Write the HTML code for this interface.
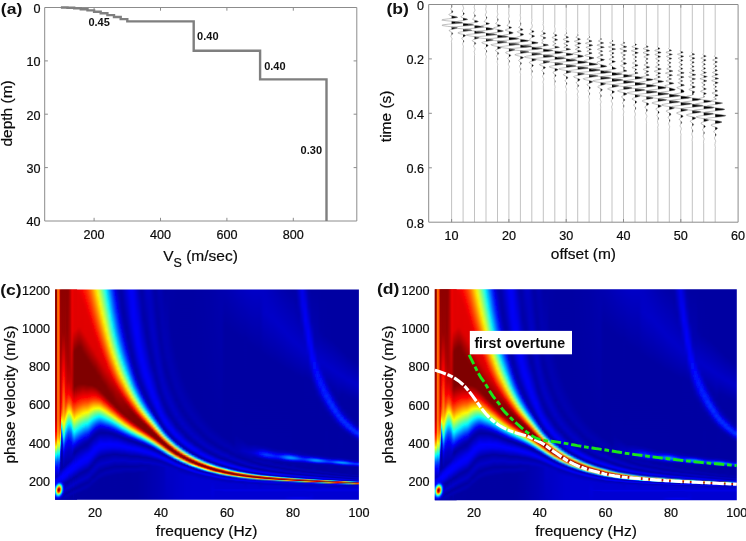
<!DOCTYPE html>
<html><head><meta charset="utf-8"><title>Figure</title>
<style>
html,body{margin:0;padding:0;background:#fff;}
body{width:746px;height:541px;overflow:hidden;}
svg{display:block;}
text{font-family:"Liberation Sans",sans-serif;fill:#0a0a0a;}
.t{font-size:12.6px;stroke:#0a0a0a;stroke-width:0.2px;}
.l{font-size:15.5px;stroke:#0a0a0a;stroke-width:0.2px;}
.p{font-size:15.3px;font-weight:bold;fill:#111;}
.n{font-size:11px;font-weight:bold;fill:#111;}
.ax{fill:none;stroke:#8c8c8c;stroke-width:1;}
</style></head><body>
<svg width="746" height="541" viewBox="0 0 746 541">
<defs><linearGradient id="g0" x2="0" y2="1"><stop offset=".002" stop-color="#8e0000"/><stop offset=".226" stop-color="#8f0000"/><stop offset=".536" stop-color="#b30000"/><stop offset=".617" stop-color="#c70000"/><stop offset=".674" stop-color="#fb0000"/><stop offset=".707" stop-color="#ff4e00"/><stop offset=".745" stop-color="#f6ff08"/><stop offset=".783" stop-color="#00fdff"/><stop offset=".812" stop-color="#0062ff"/><stop offset=".84" stop-color="#00f"/><stop offset=".883" stop-color="#0000be"/><stop offset=".888" stop-color="#0000be"/><stop offset=".907" stop-color="#0000f9"/><stop offset=".921" stop-color="#0000fd"/><stop offset=".94" stop-color="#00cdff"/><stop offset=".945" stop-color="#0ef"/><stop offset=".95" stop-color="#00f6ff"/><stop offset=".955" stop-color="#00e4ff"/><stop offset=".96" stop-color="#0bf"/><stop offset=".974" stop-color="#0017ff"/><stop offset=".979" stop-color="#0000ec"/><stop offset=".988" stop-color="#0000b9"/><stop offset=".998" stop-color="#0000b2"/></linearGradient><linearGradient id="g1" x2="0" y2="1"><stop offset=".002" stop-color="#8e0000"/><stop offset=".226" stop-color="#8f0000"/><stop offset=".536" stop-color="#b30000"/><stop offset=".617" stop-color="#c70000"/><stop offset=".674" stop-color="#fb0000"/><stop offset=".707" stop-color="#ff4e00"/><stop offset=".745" stop-color="#f6ff08"/><stop offset=".783" stop-color="#00fdff"/><stop offset=".812" stop-color="#0062ff"/><stop offset=".84" stop-color="#00f"/><stop offset=".883" stop-color="#0000c0"/><stop offset=".898" stop-color="#0000f1"/><stop offset=".912" stop-color="#0001ff"/><stop offset=".917" stop-color="#000fff"/><stop offset=".926" stop-color="#00a8ff"/><stop offset=".931" stop-color="#0bfff3"/><stop offset=".94" stop-color="#bdff41"/><stop offset=".945" stop-color="#eaff14"/><stop offset=".95" stop-color="#ecff12"/><stop offset=".955" stop-color="#c1ff3d"/><stop offset=".964" stop-color="#12ffec"/><stop offset=".969" stop-color="#00aeff"/><stop offset=".979" stop-color="#0013ff"/><stop offset=".988" stop-color="#0000c4"/><stop offset=".993" stop-color="#0000b2"/><stop offset=".998" stop-color="#0000b6"/></linearGradient><linearGradient id="g2" x2="0" y2="1"><stop offset=".002" stop-color="#ff6d00"/><stop offset=".602" stop-color="#ff7100"/><stop offset=".645" stop-color="#ff7e00"/><stop offset=".679" stop-color="#ff9b00"/><stop offset=".702" stop-color="#ffc500"/><stop offset=".721" stop-color="#fffb00"/><stop offset=".745" stop-color="#a0ff5e"/><stop offset=".774" stop-color="#0afff4"/><stop offset=".807" stop-color="#0063ff"/><stop offset=".831" stop-color="#0014ff"/><stop offset=".845" stop-color="#0000fc"/><stop offset=".879" stop-color="#0000c5"/><stop offset=".902" stop-color="#0000fe"/><stop offset=".912" stop-color="#000bff"/><stop offset=".917" stop-color="#05f"/><stop offset=".921" stop-color="#00bcff"/><stop offset=".926" stop-color="#3dffc1"/><stop offset=".931" stop-color="#cbff33"/><stop offset=".936" stop-color="#ffac00"/><stop offset=".94" stop-color="#ff4600"/><stop offset=".945" stop-color="#ff1600"/><stop offset=".95" stop-color="#ff2500"/><stop offset=".955" stop-color="#ff7200"/><stop offset=".96" stop-color="#ffeb00"/><stop offset=".964" stop-color="#85ff79"/><stop offset=".969" stop-color="#00fbff"/><stop offset=".974" stop-color="#0086ff"/><stop offset=".979" stop-color="#002dff"/><stop offset=".983" stop-color="#0000ef"/><stop offset=".993" stop-color="#0000b5"/><stop offset=".998" stop-color="#0000b5"/></linearGradient><linearGradient id="g3" x2="0" y2="1"><stop offset=".002" stop-color="#ff6d00"/><stop offset=".612" stop-color="#ff6a00"/><stop offset=".674" stop-color="#ff8c00"/><stop offset=".698" stop-color="#ffb200"/><stop offset=".721" stop-color="#fff300"/><stop offset=".726" stop-color="#f9ff05"/><stop offset=".74" stop-color="#bdff41"/><stop offset=".774" stop-color="#0efff0"/><stop offset=".779" stop-color="#00f3ff"/><stop offset=".817" stop-color="#0040ff"/><stop offset=".85" stop-color="#0003ff"/><stop offset=".879" stop-color="#0000d3"/><stop offset=".888" stop-color="#0000f2"/><stop offset=".907" stop-color="#0000fe"/><stop offset=".912" stop-color="#0031ff"/><stop offset=".921" stop-color="#12ffec"/><stop offset=".926" stop-color="#aeff50"/><stop offset=".931" stop-color="#ffa900"/><stop offset=".936" stop-color="#ff1400"/><stop offset=".94" stop-color="#ab0000"/><stop offset=".945" stop-color="#870000"/><stop offset=".95" stop-color="#ae0000"/><stop offset=".955" stop-color="#ff1900"/><stop offset=".96" stop-color="#ffaf00"/><stop offset=".964" stop-color="#a9ff55"/><stop offset=".969" stop-color="#0dfff1"/><stop offset=".974" stop-color="#008cff"/><stop offset=".979" stop-color="#002eff"/><stop offset=".983" stop-color="#00e"/><stop offset=".988" stop-color="#0000c8"/><stop offset=".998" stop-color="#0000b0"/></linearGradient><linearGradient id="g4" x2="0" y2="1"><stop offset=".002" stop-color="#ff2800"/><stop offset=".617" stop-color="#ff3c00"/><stop offset=".66" stop-color="#f50"/><stop offset=".683" stop-color="#ff7500"/><stop offset=".707" stop-color="#ffae00"/><stop offset=".726" stop-color="#fff400"/><stop offset=".74" stop-color="#c4ff3a"/><stop offset=".774" stop-color="#03fffb"/><stop offset=".779" stop-color="#00e6ff"/><stop offset=".807" stop-color="#0056ff"/><stop offset=".831" stop-color="#0006ff"/><stop offset=".869" stop-color="#0000c4"/><stop offset=".888" stop-color="#0000f9"/><stop offset=".907" stop-color="#0000fa"/><stop offset=".912" stop-color="#0040ff"/><stop offset=".917" stop-color="#00a5ff"/><stop offset=".921" stop-color="#29ffd5"/><stop offset=".926" stop-color="#c3ff3b"/><stop offset=".931" stop-color="#ff9d00"/><stop offset=".936" stop-color="#ff1700"/><stop offset=".94" stop-color="#c30000"/><stop offset=".945" stop-color="#b30000"/><stop offset=".95" stop-color="#ec0000"/><stop offset=".955" stop-color="#ff6000"/><stop offset=".96" stop-color="#fff700"/><stop offset=".964" stop-color="#68ff96"/><stop offset=".969" stop-color="#00d8ff"/><stop offset=".974" stop-color="#06f"/><stop offset=".979" stop-color="#0015ff"/><stop offset=".983" stop-color="#0000df"/><stop offset=".988" stop-color="#0000c0"/><stop offset=".998" stop-color="#00a"/></linearGradient><linearGradient id="g5" x2="0" y2="1"><stop offset=".002" stop-color="#8e0000"/><stop offset=".307" stop-color="#9d0000"/><stop offset=".545" stop-color="#d20000"/><stop offset=".621" stop-color="#ff0100"/><stop offset=".64" stop-color="#f20"/><stop offset=".66" stop-color="#ff5a00"/><stop offset=".688" stop-color="#ffeb00"/><stop offset=".693" stop-color="#f2ff0c"/><stop offset=".726" stop-color="#00f9ff"/><stop offset=".755" stop-color="#004bff"/><stop offset=".769" stop-color="#01f"/><stop offset=".779" stop-color="#0000f4"/><stop offset=".802" stop-color="#0000c7"/><stop offset=".85" stop-color="#0000a8"/><stop offset=".883" stop-color="#0000f9"/><stop offset=".907" stop-color="#0000f4"/><stop offset=".912" stop-color="#0031ff"/><stop offset=".917" stop-color="#0087ff"/><stop offset=".921" stop-color="#00f5ff"/><stop offset=".931" stop-color="#e9ff15"/><stop offset=".936" stop-color="#ffb300"/><stop offset=".94" stop-color="#ff7f00"/><stop offset=".945" stop-color="#ff8300"/><stop offset=".95" stop-color="#ffbe00"/><stop offset=".955" stop-color="#dbff23"/><stop offset=".96" stop-color="#61ff9d"/><stop offset=".964" stop-color="#00e5ff"/><stop offset=".969" stop-color="#007bff"/><stop offset=".974" stop-color="#0028ff"/><stop offset=".979" stop-color="#00e"/><stop offset=".988" stop-color="#0000b6"/><stop offset=".998" stop-color="#0000a5"/></linearGradient><linearGradient id="g6" x2="0" y2="1"><stop offset=".002" stop-color="#8e0000"/><stop offset=".26" stop-color="#9e0000"/><stop offset=".531" stop-color="#fe0000"/><stop offset=".564" stop-color="#ff2300"/><stop offset=".583" stop-color="#ff4f00"/><stop offset=".598" stop-color="#ff8300"/><stop offset=".617" stop-color="#ffec00"/><stop offset=".621" stop-color="#f1ff0d"/><stop offset=".65" stop-color="#0fffef"/><stop offset=".655" stop-color="#00e9ff"/><stop offset=".679" stop-color="#004cff"/><stop offset=".698" stop-color="#0000fd"/><stop offset=".717" stop-color="#0000d0"/><stop offset=".736" stop-color="#0000b8"/><stop offset=".793" stop-color="#0000a3"/><stop offset=".845" stop-color="#0000a6"/><stop offset=".883" stop-color="#0000fe"/><stop offset=".907" stop-color="#0000e5"/><stop offset=".912" stop-color="#000cff"/><stop offset=".917" stop-color="#0048ff"/><stop offset=".926" stop-color="#00e2ff"/><stop offset=".931" stop-color="#2effd0"/><stop offset=".936" stop-color="#65ff99"/><stop offset=".94" stop-color="#7dff81"/><stop offset=".945" stop-color="#71ff8d"/><stop offset=".95" stop-color="#42ffbc"/><stop offset=".955" stop-color="#00fbff"/><stop offset=".969" stop-color="#001dff"/><stop offset=".974" stop-color="#0000ec"/><stop offset=".983" stop-color="#0000b6"/><stop offset=".998" stop-color="#0000a3"/></linearGradient><linearGradient id="g7" x2="0" y2="1"><stop offset=".002" stop-color="#8e0000"/><stop offset=".207" stop-color="#960000"/><stop offset=".421" stop-color="#ff0100"/><stop offset=".555" stop-color="#ff5c00"/><stop offset=".588" stop-color="#ff8e00"/><stop offset=".626" stop-color="#f9ff05"/><stop offset=".669" stop-color="#10ffee"/><stop offset=".674" stop-color="#00f2ff"/><stop offset=".707" stop-color="#0046ff"/><stop offset=".731" stop-color="#0000f8"/><stop offset=".774" stop-color="#0000b9"/><stop offset=".836" stop-color="#0000a4"/><stop offset=".845" stop-color="#0000ad"/><stop offset=".869" stop-color="#0000f1"/><stop offset=".879" stop-color="#0000fe"/><stop offset=".893" stop-color="#0000fa"/><stop offset=".907" stop-color="#0000d9"/><stop offset=".912" stop-color="#0000e1"/><stop offset=".917" stop-color="#0004ff"/><stop offset=".931" stop-color="#007cff"/><stop offset=".94" stop-color="#009dff"/><stop offset=".95" stop-color="#0074ff"/><stop offset=".964" stop-color="#0000fa"/><stop offset=".979" stop-color="#0000b3"/><stop offset=".998" stop-color="#0000a5"/></linearGradient><linearGradient id="g8" x2="0" y2="1"><stop offset=".002" stop-color="#8e0000"/><stop offset=".217" stop-color="#900"/><stop offset=".388" stop-color="#fe0000"/><stop offset=".555" stop-color="#ff8300"/><stop offset=".598" stop-color="#ffb600"/><stop offset=".636" stop-color="#f7ff07"/><stop offset=".664" stop-color="#95ff69"/><stop offset=".698" stop-color="#00fcff"/><stop offset=".736" stop-color="#0054ff"/><stop offset=".764" stop-color="#00f"/><stop offset=".798" stop-color="#0000c9"/><stop offset=".84" stop-color="#0000ae"/><stop offset=".864" stop-color="#0000f1"/><stop offset=".874" stop-color="#0000fd"/><stop offset=".888" stop-color="#0000fb"/><stop offset=".912" stop-color="#0000c0"/><stop offset=".931" stop-color="#0004ff"/><stop offset=".945" stop-color="#0007ff"/><stop offset=".974" stop-color="#0000ad"/><stop offset=".983" stop-color="#0000b5"/><stop offset=".998" stop-color="#0000a6"/></linearGradient><linearGradient id="g9" x2="0" y2="1"><stop offset=".002" stop-color="#8e0000"/><stop offset=".212" stop-color="#970000"/><stop offset=".412" stop-color="#ff0100"/><stop offset=".564" stop-color="#ff7600"/><stop offset=".598" stop-color="#ffa900"/><stop offset=".631" stop-color="#fdff01"/><stop offset=".655" stop-color="#a0ff5e"/><stop offset=".688" stop-color="#00fcff"/><stop offset=".726" stop-color="#0052ff"/><stop offset=".755" stop-color="#0000fd"/><stop offset=".783" stop-color="#0000ce"/><stop offset=".826" stop-color="#0000af"/><stop offset=".836" stop-color="#0000ae"/><stop offset=".86" stop-color="#0000f1"/><stop offset=".879" stop-color="#00f"/><stop offset=".893" stop-color="#0000eb"/><stop offset=".912" stop-color="#0000b3"/><stop offset=".945" stop-color="#0000ca"/><stop offset=".969" stop-color="#0000a7"/><stop offset=".979" stop-color="#0000b6"/><stop offset=".998" stop-color="#0000a6"/></linearGradient><linearGradient id="g10" x2="0" y2="1"><stop offset=".002" stop-color="#8e0000"/><stop offset=".25" stop-color="#9c0000"/><stop offset=".379" stop-color="#c50000"/><stop offset=".493" stop-color="#fd0000"/><stop offset=".555" stop-color="#ff4800"/><stop offset=".583" stop-color="#ff8e00"/><stop offset=".612" stop-color="#fff800"/><stop offset=".617" stop-color="#f0ff0e"/><stop offset=".664" stop-color="#00feff"/><stop offset=".707" stop-color="#0047ff"/><stop offset=".736" stop-color="#0000fc"/><stop offset=".769" stop-color="#0000cb"/><stop offset=".817" stop-color="#0000ae"/><stop offset=".831" stop-color="#0000ae"/><stop offset=".855" stop-color="#0000f0"/><stop offset=".874" stop-color="#00f"/><stop offset=".888" stop-color="#0000ec"/><stop offset=".912" stop-color="#0000a9"/><stop offset=".926" stop-color="#0000ad"/><stop offset=".945" stop-color="#0000ca"/><stop offset=".964" stop-color="#0000a3"/><stop offset=".974" stop-color="#0000b5"/><stop offset=".998" stop-color="#0000a5"/></linearGradient><linearGradient id="g11" x2="0" y2="1"><stop offset=".002" stop-color="#8e0000"/><stop offset=".188" stop-color="#900000"/><stop offset=".321" stop-color="#a80000"/><stop offset=".445" stop-color="#d20000"/><stop offset=".502" stop-color="#f00"/><stop offset=".531" stop-color="#ff2900"/><stop offset=".555" stop-color="#ff5e00"/><stop offset=".598" stop-color="#fff600"/><stop offset=".602" stop-color="#f2ff0c"/><stop offset=".65" stop-color="#07fff7"/><stop offset=".655" stop-color="#00efff"/><stop offset=".693" stop-color="#05f"/><stop offset=".726" stop-color="#00f"/><stop offset=".76" stop-color="#0000cf"/><stop offset=".812" stop-color="#0000af"/><stop offset=".826" stop-color="#0000ad"/><stop offset=".85" stop-color="#0000ef"/><stop offset=".869" stop-color="#0001ff"/><stop offset=".883" stop-color="#00e"/><stop offset=".912" stop-color="#0000a3"/><stop offset=".94" stop-color="#0000ca"/><stop offset=".96" stop-color="#0000a2"/><stop offset=".974" stop-color="#0000b6"/><stop offset=".998" stop-color="#0000a5"/></linearGradient><linearGradient id="g12" x2="0" y2="1"><stop offset=".002" stop-color="#8f0000"/><stop offset=".202" stop-color="#920000"/><stop offset=".36" stop-color="#a90000"/><stop offset=".44" stop-color="#c60000"/><stop offset=".498" stop-color="#fb0000"/><stop offset=".54" stop-color="#ff5300"/><stop offset=".588" stop-color="#fcff02"/><stop offset=".64" stop-color="#01fffd"/><stop offset=".645" stop-color="#00eaff"/><stop offset=".683" stop-color="#0057ff"/><stop offset=".721" stop-color="#0000fb"/><stop offset=".769" stop-color="#0000c3"/><stop offset=".821" stop-color="#0000ad"/><stop offset=".845" stop-color="#00e"/><stop offset=".864" stop-color="#0001ff"/><stop offset=".879" stop-color="#0000f0"/><stop offset=".907" stop-color="#0000a5"/><stop offset=".917" stop-color="#0000a7"/><stop offset=".936" stop-color="#0000ca"/><stop offset=".96" stop-color="#0000a2"/><stop offset=".969" stop-color="#0000b5"/><stop offset=".998" stop-color="#0000a4"/></linearGradient><linearGradient id="g13" x2="0" y2="1"><stop offset=".002" stop-color="#950000"/><stop offset=".345" stop-color="#a60000"/><stop offset=".431" stop-color="#c10000"/><stop offset=".493" stop-color="#fc0000"/><stop offset=".536" stop-color="#ff5900"/><stop offset=".579" stop-color="#fff600"/><stop offset=".583" stop-color="#f2ff0c"/><stop offset=".636" stop-color="#00f8ff"/><stop offset=".674" stop-color="#0063ff"/><stop offset=".702" stop-color="#0017ff"/><stop offset=".717" stop-color="#0000fb"/><stop offset=".764" stop-color="#0000c4"/><stop offset=".817" stop-color="#0000ad"/><stop offset=".845" stop-color="#0000f6"/><stop offset=".864" stop-color="#0000fe"/><stop offset=".907" stop-color="#0000a3"/><stop offset=".936" stop-color="#0000ca"/><stop offset=".955" stop-color="#0000a1"/><stop offset=".969" stop-color="#0000b6"/><stop offset=".998" stop-color="#0000a4"/></linearGradient><linearGradient id="g14" x2="0" y2="1"><stop offset=".002" stop-color="#a80000"/><stop offset=".369" stop-color="#af0000"/><stop offset=".44" stop-color="#c50000"/><stop offset=".498" stop-color="#ff0100"/><stop offset=".54" stop-color="#ff6500"/><stop offset=".579" stop-color="#fff600"/><stop offset=".583" stop-color="#f2ff0c"/><stop offset=".636" stop-color="#00f7ff"/><stop offset=".674" stop-color="#0063ff"/><stop offset=".717" stop-color="#0000fc"/><stop offset=".76" stop-color="#0000c8"/><stop offset=".812" stop-color="#0000af"/><stop offset=".84" stop-color="#0000f5"/><stop offset=".86" stop-color="#00f"/><stop offset=".902" stop-color="#0000a3"/><stop offset=".931" stop-color="#0000ca"/><stop offset=".955" stop-color="#0000a2"/><stop offset=".964" stop-color="#0000b5"/><stop offset=".998" stop-color="#0000a3"/></linearGradient><linearGradient id="g15" x2="0" y2="1"><stop offset=".002" stop-color="#c30000"/><stop offset=".398" stop-color="#b80000"/><stop offset=".464" stop-color="#d10000"/><stop offset=".502" stop-color="#fd0000"/><stop offset=".545" stop-color="#ff6300"/><stop offset=".583" stop-color="#fff800"/><stop offset=".588" stop-color="#efff0f"/><stop offset=".636" stop-color="#09fff5"/><stop offset=".64" stop-color="#00f2ff"/><stop offset=".679" stop-color="#005fff"/><stop offset=".717" stop-color="#0002ff"/><stop offset=".755" stop-color="#0000cf"/><stop offset=".798" stop-color="#0000b4"/><stop offset=".812" stop-color="#0000b4"/><stop offset=".836" stop-color="#0000f4"/><stop offset=".855" stop-color="#00f"/><stop offset=".869" stop-color="#0000ec"/><stop offset=".898" stop-color="#0000a4"/><stop offset=".926" stop-color="#0000ca"/><stop offset=".95" stop-color="#0000a2"/><stop offset=".964" stop-color="#0000b6"/><stop offset=".979" stop-color="#0000a2"/><stop offset=".998" stop-color="#0000a3"/></linearGradient><linearGradient id="g16" x2="0" y2="1"><stop offset=".002" stop-color="#e10000"/><stop offset=".202" stop-color="#de0000"/><stop offset=".412" stop-color="#be0000"/><stop offset=".474" stop-color="#d10000"/><stop offset=".512" stop-color="#fe0000"/><stop offset=".55" stop-color="#ff5800"/><stop offset=".593" stop-color="#feff00"/><stop offset=".645" stop-color="#00fffe"/><stop offset=".683" stop-color="#0068ff"/><stop offset=".726" stop-color="#0000fb"/><stop offset=".764" stop-color="#0000c8"/><stop offset=".798" stop-color="#0000b4"/><stop offset=".807" stop-color="#0000b4"/><stop offset=".831" stop-color="#0000f3"/><stop offset=".85" stop-color="#00f"/><stop offset=".864" stop-color="#00e"/><stop offset=".898" stop-color="#0000a3"/><stop offset=".926" stop-color="#0000ca"/><stop offset=".945" stop-color="#0000a4"/><stop offset=".964" stop-color="#0000b5"/><stop offset=".974" stop-color="#0000a4"/><stop offset=".998" stop-color="#0000a3"/></linearGradient><linearGradient id="g17" x2="0" y2="1"><stop offset=".002" stop-color="#e00"/><stop offset=".207" stop-color="#eb0000"/><stop offset=".312" stop-color="#b90000"/><stop offset=".44" stop-color="#ae0000"/><stop offset=".474" stop-color="#b70000"/><stop offset=".526" stop-color="#fe0000"/><stop offset=".56" stop-color="#ff5300"/><stop offset=".602" stop-color="#fff600"/><stop offset=".607" stop-color="#f2ff0c"/><stop offset=".66" stop-color="#00fffe"/><stop offset=".707" stop-color="#0048ff"/><stop offset=".736" stop-color="#0000f8"/><stop offset=".779" stop-color="#0000b4"/><stop offset=".802" stop-color="#0000b8"/><stop offset=".826" stop-color="#0000f1"/><stop offset=".845" stop-color="#0001ff"/><stop offset=".86" stop-color="#0000f1"/><stop offset=".893" stop-color="#0000a3"/><stop offset=".921" stop-color="#0000ca"/><stop offset=".945" stop-color="#0000a1"/><stop offset=".96" stop-color="#0000b6"/><stop offset=".974" stop-color="#0000a2"/><stop offset=".998" stop-color="#0000a3"/></linearGradient><linearGradient id="g18" x2="0" y2="1"><stop offset=".002" stop-color="#e70000"/><stop offset=".202" stop-color="#e60000"/><stop offset=".302" stop-color="#900"/><stop offset=".445" stop-color="#920000"/><stop offset=".474" stop-color="#9c0000"/><stop offset=".531" stop-color="#f90000"/><stop offset=".564" stop-color="#ff5000"/><stop offset=".612" stop-color="#fffb00"/><stop offset=".617" stop-color="#eeff10"/><stop offset=".669" stop-color="#06fff8"/><stop offset=".674" stop-color="#00efff"/><stop offset=".712" stop-color="#004eff"/><stop offset=".736" stop-color="#0000f9"/><stop offset=".76" stop-color="#0000bc"/><stop offset=".774" stop-color="#00a"/><stop offset=".798" stop-color="#0000bd"/><stop offset=".821" stop-color="#0000f0"/><stop offset=".84" stop-color="#0001ff"/><stop offset=".855" stop-color="#0000f3"/><stop offset=".888" stop-color="#0000a3"/><stop offset=".917" stop-color="#0000ca"/><stop offset=".926" stop-color="#0000c5"/><stop offset=".94" stop-color="#0000a3"/><stop offset=".955" stop-color="#0000b5"/><stop offset=".998" stop-color="#0000a3"/></linearGradient><linearGradient id="g19" x2="0" y2="1"><stop offset=".002" stop-color="#e20000"/><stop offset=".202" stop-color="#e20000"/><stop offset=".298" stop-color="#820000"/><stop offset=".46" stop-color="#800000"/><stop offset=".483" stop-color="#9d0000"/><stop offset=".531" stop-color="#f80000"/><stop offset=".569" stop-color="#ff5e00"/><stop offset=".617" stop-color="#f8ff06"/><stop offset=".674" stop-color="#00fdff"/><stop offset=".731" stop-color="#0001ff"/><stop offset=".755" stop-color="#0000b8"/><stop offset=".769" stop-color="#0000a2"/><stop offset=".783" stop-color="#0000ad"/><stop offset=".831" stop-color="#00f"/><stop offset=".85" stop-color="#0000f5"/><stop offset=".888" stop-color="#0000a1"/><stop offset=".917" stop-color="#0000ca"/><stop offset=".94" stop-color="#0000a1"/><stop offset=".955" stop-color="#0000b6"/><stop offset=".969" stop-color="#0000a3"/><stop offset=".998" stop-color="#0000a3"/></linearGradient><linearGradient id="g20" x2="0" y2="1"><stop offset=".002" stop-color="#e20000"/><stop offset=".198" stop-color="#e10000"/><stop offset=".293" stop-color="#800000"/><stop offset=".46" stop-color="#7f0000"/><stop offset=".531" stop-color="#ff0100"/><stop offset=".569" stop-color="#ff6900"/><stop offset=".612" stop-color="#fdff01"/><stop offset=".669" stop-color="#03fffb"/><stop offset=".674" stop-color="#00ebff"/><stop offset=".717" stop-color="#0029ff"/><stop offset=".731" stop-color="#0000f2"/><stop offset=".75" stop-color="#0000b9"/><stop offset=".764" stop-color="#0000a2"/><stop offset=".774" stop-color="#0000a5"/><stop offset=".812" stop-color="#0000ed"/><stop offset=".831" stop-color="#0001ff"/><stop offset=".85" stop-color="#0000ef"/><stop offset=".883" stop-color="#0000a2"/><stop offset=".912" stop-color="#0000ca"/><stop offset=".936" stop-color="#0000a3"/><stop offset=".955" stop-color="#0000b6"/><stop offset=".969" stop-color="#0000a3"/><stop offset=".998" stop-color="#0000a3"/></linearGradient><linearGradient id="g21" x2="0" y2="1"><stop offset=".002" stop-color="#e20000"/><stop offset=".193" stop-color="#e10000"/><stop offset=".288" stop-color="#800000"/><stop offset=".455" stop-color="#7f0000"/><stop offset=".483" stop-color="#a50000"/><stop offset=".526" stop-color="#fc0000"/><stop offset=".564" stop-color="#ff6500"/><stop offset=".607" stop-color="#fffc00"/><stop offset=".612" stop-color="#eeff10"/><stop offset=".664" stop-color="#07fff7"/><stop offset=".669" stop-color="#00efff"/><stop offset=".717" stop-color="#0019ff"/><stop offset=".726" stop-color="#0000f4"/><stop offset=".745" stop-color="#00b"/><stop offset=".764" stop-color="#0000a1"/><stop offset=".826" stop-color="#0001ff"/><stop offset=".845" stop-color="#0000f1"/><stop offset=".883" stop-color="#0000a1"/><stop offset=".912" stop-color="#0000ca"/><stop offset=".936" stop-color="#0000a1"/><stop offset=".95" stop-color="#0000b6"/><stop offset=".964" stop-color="#0000a3"/><stop offset=".998" stop-color="#0000a3"/></linearGradient><linearGradient id="g22" x2="0" y2="1"><stop offset=".002" stop-color="#e50000"/><stop offset=".183" stop-color="#e20000"/><stop offset=".283" stop-color="#7f0000"/><stop offset=".455" stop-color="#7f0000"/><stop offset=".521" stop-color="#f80000"/><stop offset=".555" stop-color="#ff5200"/><stop offset=".602" stop-color="#fff700"/><stop offset=".607" stop-color="#f3ff0b"/><stop offset=".66" stop-color="#0bfff3"/><stop offset=".664" stop-color="#00f4ff"/><stop offset=".698" stop-color="#0059ff"/><stop offset=".721" stop-color="#0000f8"/><stop offset=".745" stop-color="#0000b3"/><stop offset=".76" stop-color="#0000a1"/><stop offset=".821" stop-color="#00f"/><stop offset=".84" stop-color="#0000f4"/><stop offset=".879" stop-color="#0000a1"/><stop offset=".907" stop-color="#0000ca"/><stop offset=".931" stop-color="#0000a3"/><stop offset=".95" stop-color="#0000b6"/><stop offset=".964" stop-color="#0000a2"/><stop offset=".998" stop-color="#0000a3"/></linearGradient><linearGradient id="g23" x2="0" y2="1"><stop offset=".002" stop-color="#ea0000"/><stop offset=".183" stop-color="#e00000"/><stop offset=".279" stop-color="#7f0000"/><stop offset=".45" stop-color="#7f0000"/><stop offset=".483" stop-color="#ad0000"/><stop offset=".521" stop-color="#fe0000"/><stop offset=".555" stop-color="#ff5b00"/><stop offset=".602" stop-color="#f9ff05"/><stop offset=".66" stop-color="#00f9ff"/><stop offset=".698" stop-color="#0049ff"/><stop offset=".717" stop-color="#0000fc"/><stop offset=".736" stop-color="#0000c0"/><stop offset=".755" stop-color="#0000a1"/><stop offset=".769" stop-color="#0000ae"/><stop offset=".807" stop-color="#0000f6"/><stop offset=".821" stop-color="#0001ff"/><stop offset=".84" stop-color="#00e"/><stop offset=".874" stop-color="#0000a2"/><stop offset=".907" stop-color="#0000ca"/><stop offset=".931" stop-color="#0000a1"/><stop offset=".945" stop-color="#0000b6"/><stop offset=".96" stop-color="#0000a4"/><stop offset=".998" stop-color="#0000a3"/></linearGradient><linearGradient id="g24" x2="0" y2="1"><stop offset=".002" stop-color="#f30000"/><stop offset=".036" stop-color="#e20000"/><stop offset=".183" stop-color="#e10000"/><stop offset=".279" stop-color="#800000"/><stop offset=".45" stop-color="#7f0000"/><stop offset=".483" stop-color="#b20000"/><stop offset=".517" stop-color="#fb0000"/><stop offset=".55" stop-color="#ff5800"/><stop offset=".598" stop-color="#faff04"/><stop offset=".655" stop-color="#00f8ff"/><stop offset=".698" stop-color="#03f"/><stop offset=".712" stop-color="#0000fa"/><stop offset=".731" stop-color="#0000bf"/><stop offset=".75" stop-color="#0000a1"/><stop offset=".812" stop-color="#00f"/><stop offset=".831" stop-color="#0000f6"/><stop offset=".869" stop-color="#0000a3"/><stop offset=".902" stop-color="#0000ca"/><stop offset=".926" stop-color="#0000a1"/><stop offset=".945" stop-color="#0000b6"/><stop offset=".96" stop-color="#0000a2"/><stop offset=".998" stop-color="#0000a3"/></linearGradient><linearGradient id="g25" x2="0" y2="1"><stop offset=".002" stop-color="#ff0200"/><stop offset=".06" stop-color="#e20000"/><stop offset=".202" stop-color="#df0000"/><stop offset=".279" stop-color="#800"/><stop offset=".298" stop-color="#7f0000"/><stop offset=".45" stop-color="#7f0000"/><stop offset=".512" stop-color="#f70000"/><stop offset=".545" stop-color="#ff5600"/><stop offset=".588" stop-color="#fff100"/><stop offset=".602" stop-color="#d0ff2e"/><stop offset=".645" stop-color="#0bfff3"/><stop offset=".65" stop-color="#00f3ff"/><stop offset=".693" stop-color="#002dff"/><stop offset=".707" stop-color="#0000f5"/><stop offset=".726" stop-color="#00b"/><stop offset=".745" stop-color="#0000a1"/><stop offset=".807" stop-color="#00f"/><stop offset=".826" stop-color="#0000f4"/><stop offset=".864" stop-color="#0000a2"/><stop offset=".898" stop-color="#0000ca"/><stop offset=".921" stop-color="#0000a2"/><stop offset=".94" stop-color="#0000b6"/><stop offset=".955" stop-color="#0000a2"/><stop offset=".998" stop-color="#0000a3"/></linearGradient><linearGradient id="g26" x2="0" y2="1"><stop offset=".002" stop-color="#ff1400"/><stop offset=".036" stop-color="#fd0000"/><stop offset=".079" stop-color="#e20000"/><stop offset=".212" stop-color="#e10000"/><stop offset=".312" stop-color="#7f0000"/><stop offset=".45" stop-color="#7f0000"/><stop offset=".512" stop-color="#fc0000"/><stop offset=".54" stop-color="#ff5000"/><stop offset=".583" stop-color="#fe0"/><stop offset=".588" stop-color="#fbff03"/><stop offset=".598" stop-color="#d3ff2b"/><stop offset=".64" stop-color="#0afff4"/><stop offset=".693" stop-color="#0017ff"/><stop offset=".702" stop-color="#0000f2"/><stop offset=".721" stop-color="#0000b9"/><stop offset=".736" stop-color="#0000a2"/><stop offset=".75" stop-color="#0000ab"/><stop offset=".788" stop-color="#0000f3"/><stop offset=".802" stop-color="#00f"/><stop offset=".821" stop-color="#0000f3"/><stop offset=".86" stop-color="#0000a2"/><stop offset=".893" stop-color="#0000ca"/><stop offset=".917" stop-color="#0000a2"/><stop offset=".936" stop-color="#0000b6"/><stop offset=".95" stop-color="#0000a3"/><stop offset=".998" stop-color="#0000a3"/></linearGradient><linearGradient id="g27" x2="0" y2="1"><stop offset=".002" stop-color="#ff2a00"/><stop offset=".064" stop-color="#fd0000"/><stop offset=".102" stop-color="#e20000"/><stop offset=".226" stop-color="#e10000"/><stop offset=".326" stop-color="#7f0000"/><stop offset=".45" stop-color="#7f0000"/><stop offset=".474" stop-color="#a50000"/><stop offset=".512" stop-color="#fe0000"/><stop offset=".55" stop-color="#ff7600"/><stop offset=".583" stop-color="#fff900"/><stop offset=".636" stop-color="#0fffef"/><stop offset=".64" stop-color="#00f6ff"/><stop offset=".683" stop-color="#002bff"/><stop offset=".698" stop-color="#0000f2"/><stop offset=".717" stop-color="#0000b9"/><stop offset=".731" stop-color="#0000a2"/><stop offset=".74" stop-color="#0000a5"/><stop offset=".779" stop-color="#0000ec"/><stop offset=".798" stop-color="#0001ff"/><stop offset=".817" stop-color="#0000f3"/><stop offset=".855" stop-color="#0000a1"/><stop offset=".888" stop-color="#0000ca"/><stop offset=".912" stop-color="#0000a3"/><stop offset=".931" stop-color="#0000b6"/><stop offset=".95" stop-color="#0000a3"/><stop offset=".998" stop-color="#0000a2"/></linearGradient><linearGradient id="g28" x2="0" y2="1"><stop offset=".002" stop-color="#ff4500"/><stop offset=".093" stop-color="#fd0000"/><stop offset=".131" stop-color="#e20000"/><stop offset=".245" stop-color="#e00000"/><stop offset=".34" stop-color="#7f0000"/><stop offset=".455" stop-color="#7f0000"/><stop offset=".512" stop-color="#fc0000"/><stop offset=".54" stop-color="#ff5600"/><stop offset=".583" stop-color="#feff00"/><stop offset=".636" stop-color="#01fffd"/><stop offset=".674" stop-color="#0045ff"/><stop offset=".693" stop-color="#0000f5"/><stop offset=".712" stop-color="#00b"/><stop offset=".726" stop-color="#0000a2"/><stop offset=".74" stop-color="#0000ab"/><stop offset=".774" stop-color="#0000ec"/><stop offset=".793" stop-color="#00f"/><stop offset=".812" stop-color="#0000f3"/><stop offset=".85" stop-color="#0000a2"/><stop offset=".883" stop-color="#0000ca"/><stop offset=".912" stop-color="#0000a1"/><stop offset=".926" stop-color="#0000b6"/><stop offset=".945" stop-color="#0000a2"/><stop offset=".998" stop-color="#0000a2"/></linearGradient><linearGradient id="g29" x2="0" y2="1"><stop offset=".002" stop-color="#f60"/><stop offset=".121" stop-color="#fe0000"/><stop offset=".155" stop-color="#e20000"/><stop offset=".26" stop-color="#e00000"/><stop offset=".355" stop-color="#7f0000"/><stop offset=".455" stop-color="#7f0000"/><stop offset=".507" stop-color="#fa0000"/><stop offset=".531" stop-color="#ff4800"/><stop offset=".574" stop-color="#fff800"/><stop offset=".621" stop-color="#17ffe7"/><stop offset=".626" stop-color="#00fdff"/><stop offset=".679" stop-color="#0001ff"/><stop offset=".702" stop-color="#0000b5"/><stop offset=".717" stop-color="#0000a1"/><stop offset=".779" stop-color="#00f"/><stop offset=".798" stop-color="#0000f6"/><stop offset=".84" stop-color="#0000a1"/><stop offset=".874" stop-color="#0000ca"/><stop offset=".902" stop-color="#0000a1"/><stop offset=".917" stop-color="#0000b6"/><stop offset=".936" stop-color="#0000a3"/><stop offset=".998" stop-color="#0000a2"/></linearGradient><linearGradient id="g30" x2="0" y2="1"><stop offset=".002" stop-color="#ff8d00"/><stop offset=".15" stop-color="#f00"/><stop offset=".183" stop-color="#e20000"/><stop offset=".274" stop-color="#e00000"/><stop offset=".369" stop-color="#7f0000"/><stop offset=".455" stop-color="#7f0000"/><stop offset=".502" stop-color="#f10000"/><stop offset=".507" stop-color="#ff0100"/><stop offset=".531" stop-color="#ff5600"/><stop offset=".569" stop-color="#fffe00"/><stop offset=".617" stop-color="#05fff9"/><stop offset=".669" stop-color="#0000fe"/><stop offset=".688" stop-color="#0000be"/><stop offset=".707" stop-color="#0000a1"/><stop offset=".769" stop-color="#00f"/><stop offset=".788" stop-color="#0000f3"/><stop offset=".831" stop-color="#0000a1"/><stop offset=".86" stop-color="#0000ca"/><stop offset=".888" stop-color="#0000a3"/><stop offset=".907" stop-color="#0000b6"/><stop offset=".926" stop-color="#0000a3"/><stop offset=".998" stop-color="#0000a2"/></linearGradient><linearGradient id="g31" x2="0" y2="1"><stop offset=".002" stop-color="#ffbc00"/><stop offset=".183" stop-color="#fc0000"/><stop offset=".212" stop-color="#e20000"/><stop offset=".288" stop-color="#e00000"/><stop offset=".383" stop-color="#7f0000"/><stop offset=".46" stop-color="#7f0000"/><stop offset=".502" stop-color="#f00000"/><stop offset=".507" stop-color="#ff0100"/><stop offset=".526" stop-color="#ff4900"/><stop offset=".564" stop-color="#fffa00"/><stop offset=".607" stop-color="#16ffe8"/><stop offset=".612" stop-color="#00faff"/><stop offset=".65" stop-color="#002eff"/><stop offset=".66" stop-color="#0004ff"/><stop offset=".664" stop-color="#0000ef"/><stop offset=".683" stop-color="#0000b4"/><stop offset=".698" stop-color="#0000a1"/><stop offset=".745" stop-color="#0000f4"/><stop offset=".76" stop-color="#0001ff"/><stop offset=".779" stop-color="#0000f2"/><stop offset=".817" stop-color="#0000a2"/><stop offset=".85" stop-color="#0000ca"/><stop offset=".883" stop-color="#0000a1"/><stop offset=".902" stop-color="#0000b6"/><stop offset=".917" stop-color="#0000a4"/><stop offset=".998" stop-color="#0000a2"/></linearGradient><linearGradient id="g32" x2="0" y2="1"><stop offset=".002" stop-color="#ffed00"/><stop offset=".212" stop-color="#fc0000"/><stop offset=".236" stop-color="#e20000"/><stop offset=".312" stop-color="#da0000"/><stop offset=".374" stop-color="#8e0000"/><stop offset=".398" stop-color="#7f0000"/><stop offset=".464" stop-color="#7f0000"/><stop offset=".507" stop-color="#fa0000"/><stop offset=".531" stop-color="#ff5d00"/><stop offset=".564" stop-color="#f7ff07"/><stop offset=".607" stop-color="#00faff"/><stop offset=".64" stop-color="#003dff"/><stop offset=".655" stop-color="#0000f9"/><stop offset=".674" stop-color="#0000b8"/><stop offset=".688" stop-color="#0000a1"/><stop offset=".75" stop-color="#0001ff"/><stop offset=".769" stop-color="#0000f2"/><stop offset=".807" stop-color="#0000a2"/><stop offset=".84" stop-color="#0000ca"/><stop offset=".874" stop-color="#0000a1"/><stop offset=".893" stop-color="#0000b6"/><stop offset=".912" stop-color="#0000a2"/><stop offset=".998" stop-color="#0000a2"/></linearGradient><linearGradient id="g33" x2="0" y2="1"><stop offset=".002" stop-color="#dcff22"/><stop offset=".036" stop-color="#fffc00"/><stop offset=".236" stop-color="#f00"/><stop offset=".26" stop-color="#e30000"/><stop offset=".321" stop-color="#de0000"/><stop offset=".412" stop-color="#7f0000"/><stop offset=".474" stop-color="#820000"/><stop offset=".512" stop-color="#ff0100"/><stop offset=".531" stop-color="#ff5600"/><stop offset=".56" stop-color="#ffef00"/><stop offset=".564" stop-color="#f2ff0c"/><stop offset=".602" stop-color="#04fffa"/><stop offset=".607" stop-color="#00e5ff"/><stop offset=".636" stop-color="#003cff"/><stop offset=".65" stop-color="#0000f6"/><stop offset=".669" stop-color="#0000b4"/><stop offset=".683" stop-color="#0000a1"/><stop offset=".74" stop-color="#00f"/><stop offset=".76" stop-color="#0000f3"/><stop offset=".798" stop-color="#0000a2"/><stop offset=".831" stop-color="#0000ca"/><stop offset=".864" stop-color="#0000a1"/><stop offset=".883" stop-color="#0000b6"/><stop offset=".902" stop-color="#0000a3"/><stop offset=".998" stop-color="#0000a2"/></linearGradient><linearGradient id="g34" x2="0" y2="1"><stop offset=".002" stop-color="#a3ff5b"/><stop offset=".079" stop-color="#fffe00"/><stop offset=".264" stop-color="#fd0000"/><stop offset=".283" stop-color="#e40000"/><stop offset=".34" stop-color="#db0000"/><stop offset=".417" stop-color="#830000"/><stop offset=".479" stop-color="#7f0000"/><stop offset=".493" stop-color="#a40000"/><stop offset=".517" stop-color="#ff0100"/><stop offset=".564" stop-color="#faff04"/><stop offset=".602" stop-color="#00fdff"/><stop offset=".626" stop-color="#0064ff"/><stop offset=".645" stop-color="#0000fd"/><stop offset=".664" stop-color="#0000b6"/><stop offset=".679" stop-color="#0000a1"/><stop offset=".721" stop-color="#0000f3"/><stop offset=".736" stop-color="#0001ff"/><stop offset=".755" stop-color="#0000f0"/><stop offset=".793" stop-color="#0000a1"/><stop offset=".826" stop-color="#0000ca"/><stop offset=".855" stop-color="#0000a2"/><stop offset=".879" stop-color="#0000b6"/><stop offset=".898" stop-color="#0000a2"/><stop offset=".998" stop-color="#0000a2"/></linearGradient><linearGradient id="g35" x2="0" y2="1"><stop offset=".002" stop-color="#66ff98"/><stop offset=".121" stop-color="#fffd00"/><stop offset=".293" stop-color="#f90000"/><stop offset=".312" stop-color="#e20000"/><stop offset=".355" stop-color="#db0000"/><stop offset=".44" stop-color="#7f0000"/><stop offset=".493" stop-color="#850000"/><stop offset=".521" stop-color="#f20000"/><stop offset=".526" stop-color="#ff0900"/><stop offset=".54" stop-color="#ff5200"/><stop offset=".564" stop-color="#ffe200"/><stop offset=".569" stop-color="#fcff02"/><stop offset=".602" stop-color="#14ffea"/><stop offset=".607" stop-color="#00f1ff"/><stop offset=".636" stop-color="#0037ff"/><stop offset=".645" stop-color="#0004ff"/><stop offset=".65" stop-color="#0000ec"/><stop offset=".664" stop-color="#0000b7"/><stop offset=".679" stop-color="#0000a1"/><stop offset=".731" stop-color="#00f"/><stop offset=".75" stop-color="#0000f4"/><stop offset=".788" stop-color="#0000a2"/><stop offset=".821" stop-color="#0000ca"/><stop offset=".855" stop-color="#0000a1"/><stop offset=".874" stop-color="#0000b6"/><stop offset=".893" stop-color="#0000a2"/><stop offset=".998" stop-color="#0000a2"/></linearGradient><linearGradient id="g36" x2="0" y2="1"><stop offset=".002" stop-color="#28ffd6"/><stop offset=".16" stop-color="#feff00"/><stop offset=".317" stop-color="#fb0000"/><stop offset=".331" stop-color="#e50000"/><stop offset=".374" stop-color="#d70000"/><stop offset=".455" stop-color="#7f0000"/><stop offset=".502" stop-color="#840000"/><stop offset=".531" stop-color="#f80000"/><stop offset=".545" stop-color="#ff4500"/><stop offset=".574" stop-color="#fffc00"/><stop offset=".607" stop-color="#0cfff2"/><stop offset=".612" stop-color="#00e8ff"/><stop offset=".636" stop-color="#0045ff"/><stop offset=".645" stop-color="#000dff"/><stop offset=".65" stop-color="#0000f4"/><stop offset=".664" stop-color="#00b"/><stop offset=".679" stop-color="#0000a1"/><stop offset=".731" stop-color="#00f"/><stop offset=".745" stop-color="#0000f9"/><stop offset=".788" stop-color="#0000a1"/><stop offset=".821" stop-color="#0000ca"/><stop offset=".85" stop-color="#0000a1"/><stop offset=".869" stop-color="#0000b6"/><stop offset=".888" stop-color="#0000a3"/><stop offset=".998" stop-color="#0000a2"/></linearGradient><linearGradient id="g37" x2="0" y2="1"><stop offset=".002" stop-color="#00e8ff"/><stop offset=".021" stop-color="#00feff"/><stop offset=".069" stop-color="#39ffc5"/><stop offset=".198" stop-color="#fffe00"/><stop offset=".34" stop-color="#fc0000"/><stop offset=".355" stop-color="#e40000"/><stop offset=".393" stop-color="#d30000"/><stop offset=".46" stop-color="#830000"/><stop offset=".507" stop-color="#7f0000"/><stop offset=".517" stop-color="#930000"/><stop offset=".54" stop-color="#f00"/><stop offset=".579" stop-color="#fff400"/><stop offset=".583" stop-color="#e6ff18"/><stop offset=".612" stop-color="#08fff6"/><stop offset=".617" stop-color="#00e2ff"/><stop offset=".65" stop-color="#00f"/><stop offset=".664" stop-color="#0000c0"/><stop offset=".679" stop-color="#0000a1"/><stop offset=".731" stop-color="#00f"/><stop offset=".75" stop-color="#0000ef"/><stop offset=".783" stop-color="#0000a2"/><stop offset=".817" stop-color="#0000ca"/><stop offset=".845" stop-color="#0000a2"/><stop offset=".864" stop-color="#0000b6"/><stop offset=".888" stop-color="#0000a2"/><stop offset=".998" stop-color="#0000a2"/></linearGradient><linearGradient id="g38" x2="0" y2="1"><stop offset=".002" stop-color="#0af"/><stop offset=".079" stop-color="#04fffa"/><stop offset=".236" stop-color="#fff900"/><stop offset=".364" stop-color="#fb0000"/><stop offset=".483" stop-color="#7f0000"/><stop offset=".521" stop-color="#810000"/><stop offset=".545" stop-color="#ec0000"/><stop offset=".55" stop-color="#ff0700"/><stop offset=".555" stop-color="#ff2300"/><stop offset=".583" stop-color="#ffe900"/><stop offset=".588" stop-color="#efff0f"/><stop offset=".617" stop-color="#05fff9"/><stop offset=".621" stop-color="#0df"/><stop offset=".645" stop-color="#002dff"/><stop offset=".655" stop-color="#0000f4"/><stop offset=".664" stop-color="#0000c7"/><stop offset=".679" stop-color="#0000a2"/><stop offset=".731" stop-color="#00f"/><stop offset=".75" stop-color="#0000ed"/><stop offset=".783" stop-color="#0000a1"/><stop offset=".817" stop-color="#0000ca"/><stop offset=".845" stop-color="#0000a1"/><stop offset=".864" stop-color="#0000b6"/><stop offset=".883" stop-color="#0000a2"/><stop offset=".998" stop-color="#0000a2"/></linearGradient><linearGradient id="g39" x2="0" y2="1"><stop offset=".002" stop-color="#0067ff"/><stop offset=".131" stop-color="#04fffa"/><stop offset=".193" stop-color="#6aff94"/><stop offset=".269" stop-color="#fffc00"/><stop offset=".388" stop-color="#fa0000"/><stop offset=".402" stop-color="#df0000"/><stop offset=".498" stop-color="#7f0000"/><stop offset=".531" stop-color="#800000"/><stop offset=".555" stop-color="#f20000"/><stop offset=".564" stop-color="#ff2d00"/><stop offset=".593" stop-color="#faff04"/><stop offset=".621" stop-color="#04fffa"/><stop offset=".626" stop-color="#00daff"/><stop offset=".65" stop-color="#0023ff"/><stop offset=".655" stop-color="#0006ff"/><stop offset=".66" stop-color="#0000ea"/><stop offset=".674" stop-color="#0000af"/><stop offset=".683" stop-color="#0000a1"/><stop offset=".717" stop-color="#0000ed"/><stop offset=".731" stop-color="#00f"/><stop offset=".745" stop-color="#0000f4"/><stop offset=".783" stop-color="#0000a1"/><stop offset=".812" stop-color="#0000ca"/><stop offset=".84" stop-color="#0000a2"/><stop offset=".86" stop-color="#0000b6"/><stop offset=".883" stop-color="#0000a3"/><stop offset=".998" stop-color="#0000a2"/></linearGradient><linearGradient id="g40" x2="0" y2="1"><stop offset=".002" stop-color="#002aff"/><stop offset=".093" stop-color="#0086ff"/><stop offset=".174" stop-color="#00fcff"/><stop offset=".226" stop-color="#5dffa1"/><stop offset=".302" stop-color="#fff800"/><stop offset=".407" stop-color="#fd0000"/><stop offset=".426" stop-color="#d50000"/><stop offset=".488" stop-color="#8f0000"/><stop offset=".517" stop-color="#7f0000"/><stop offset=".54" stop-color="#800000"/><stop offset=".564" stop-color="#f80000"/><stop offset=".574" stop-color="#ff3800"/><stop offset=".598" stop-color="#fff500"/><stop offset=".602" stop-color="#deff20"/><stop offset=".626" stop-color="#05fff9"/><stop offset=".65" stop-color="#003cff"/><stop offset=".66" stop-color="#0000fb"/><stop offset=".674" stop-color="#0000b7"/><stop offset=".683" stop-color="#0000a1"/><stop offset=".731" stop-color="#0000fe"/><stop offset=".745" stop-color="#0000f4"/><stop offset=".779" stop-color="#0000a3"/><stop offset=".812" stop-color="#0000ca"/><stop offset=".84" stop-color="#0000a1"/><stop offset=".86" stop-color="#0000b6"/><stop offset=".879" stop-color="#0000a2"/><stop offset=".998" stop-color="#0000a2"/></linearGradient><linearGradient id="g41" x2="0" y2="1"><stop offset=".002" stop-color="#0000f4"/><stop offset=".036" stop-color="#000eff"/><stop offset=".112" stop-color="#005bff"/><stop offset=".221" stop-color="#07fff7"/><stop offset=".326" stop-color="#f9ff05"/><stop offset=".426" stop-color="#fc0000"/><stop offset=".445" stop-color="#c00"/><stop offset=".488" stop-color="#9d0000"/><stop offset=".517" stop-color="#830000"/><stop offset=".545" stop-color="#7f0000"/><stop offset=".555" stop-color="#950000"/><stop offset=".574" stop-color="#ff0200"/><stop offset=".602" stop-color="#ffe500"/><stop offset=".607" stop-color="#ecff12"/><stop offset=".631" stop-color="#07fff7"/><stop offset=".636" stop-color="#00d9ff"/><stop offset=".655" stop-color="#0036ff"/><stop offset=".664" stop-color="#0000f3"/><stop offset=".679" stop-color="#0000b1"/><stop offset=".688" stop-color="#0000a1"/><stop offset=".731" stop-color="#0000fe"/><stop offset=".745" stop-color="#0000f4"/><stop offset=".779" stop-color="#0000a2"/><stop offset=".807" stop-color="#0000c9"/><stop offset=".836" stop-color="#0000a2"/><stop offset=".855" stop-color="#0000b6"/><stop offset=".879" stop-color="#0000a3"/><stop offset=".998" stop-color="#0000a2"/></linearGradient><linearGradient id="g42" x2="0" y2="1"><stop offset=".002" stop-color="#0000ca"/><stop offset=".079" stop-color="#0000fe"/><stop offset=".107" stop-color="#0019ff"/><stop offset=".188" stop-color="#0081ff"/><stop offset=".26" stop-color="#09fff5"/><stop offset=".355" stop-color="#feff00"/><stop offset=".431" stop-color="#ff1e00"/><stop offset=".445" stop-color="#f60000"/><stop offset=".464" stop-color="#c10000"/><stop offset=".545" stop-color="#7f0000"/><stop offset=".56" stop-color="#810000"/><stop offset=".579" stop-color="#e80000"/><stop offset=".583" stop-color="#ff0a00"/><stop offset=".588" stop-color="#ff2d00"/><stop offset=".612" stop-color="#fffd00"/><stop offset=".636" stop-color="#10ffee"/><stop offset=".64" stop-color="#00e0ff"/><stop offset=".66" stop-color="#0034ff"/><stop offset=".669" stop-color="#0000f0"/><stop offset=".679" stop-color="#0000be"/><stop offset=".688" stop-color="#0000a3"/><stop offset=".698" stop-color="#0000ac"/><stop offset=".721" stop-color="#00e"/><stop offset=".736" stop-color="#0000fe"/><stop offset=".75" stop-color="#0000ec"/><stop offset=".779" stop-color="#0000a2"/><stop offset=".807" stop-color="#0000c9"/><stop offset=".836" stop-color="#0000a1"/><stop offset=".855" stop-color="#0000b6"/><stop offset=".874" stop-color="#0000a3"/><stop offset=".998" stop-color="#0000a2"/></linearGradient><linearGradient id="g43" x2="0" y2="1"><stop offset=".002" stop-color="#0000ad"/><stop offset=".14" stop-color="#0005ff"/><stop offset=".207" stop-color="#005bff"/><stop offset=".293" stop-color="#07fff7"/><stop offset=".379" stop-color="#fdff01"/><stop offset=".46" stop-color="#fb0000"/><stop offset=".483" stop-color="#b50000"/><stop offset=".555" stop-color="#7f0000"/><stop offset=".569" stop-color="#820000"/><stop offset=".588" stop-color="#ef0000"/><stop offset=".598" stop-color="#ff3900"/><stop offset=".617" stop-color="#ffe800"/><stop offset=".621" stop-color="#e5ff19"/><stop offset=".64" stop-color="#1cffe2"/><stop offset=".645" stop-color="#00e9ff"/><stop offset=".664" stop-color="#0034ff"/><stop offset=".669" stop-color="#000fff"/><stop offset=".674" stop-color="#0000ed"/><stop offset=".683" stop-color="#00b"/><stop offset=".693" stop-color="#0000a1"/><stop offset=".726" stop-color="#0000f3"/><stop offset=".736" stop-color="#0000fd"/><stop offset=".75" stop-color="#0000ef"/><stop offset=".779" stop-color="#0000a3"/><stop offset=".812" stop-color="#0000c9"/><stop offset=".836" stop-color="#0000a1"/><stop offset=".855" stop-color="#0000b6"/><stop offset=".874" stop-color="#0000a2"/><stop offset=".998" stop-color="#0000a2"/></linearGradient><linearGradient id="g44" x2="0" y2="1"><stop offset=".002" stop-color="#0000a3"/><stop offset=".093" stop-color="#0000b7"/><stop offset=".183" stop-color="#00f"/><stop offset=".25" stop-color="#0060ff"/><stop offset=".321" stop-color="#01fffd"/><stop offset=".402" stop-color="#fffb00"/><stop offset=".474" stop-color="#fe0000"/><stop offset=".498" stop-color="#af0000"/><stop offset=".569" stop-color="#7f0000"/><stop offset=".579" stop-color="#850000"/><stop offset=".598" stop-color="#f90000"/><stop offset=".607" stop-color="#ff4800"/><stop offset=".621" stop-color="#ffd100"/><stop offset=".626" stop-color="#faff04"/><stop offset=".645" stop-color="#27ffd7"/><stop offset=".65" stop-color="#00f2ff"/><stop offset=".669" stop-color="#0035ff"/><stop offset=".674" stop-color="#000eff"/><stop offset=".679" stop-color="#0000eb"/><stop offset=".688" stop-color="#0000b7"/><stop offset=".698" stop-color="#0000a1"/><stop offset=".726" stop-color="#00e"/><stop offset=".74" stop-color="#0000fd"/><stop offset=".783" stop-color="#0000a1"/><stop offset=".807" stop-color="#0000c9"/><stop offset=".836" stop-color="#0000a1"/><stop offset=".855" stop-color="#0000b5"/><stop offset=".874" stop-color="#0000a3"/><stop offset=".998" stop-color="#0000a2"/></linearGradient><linearGradient id="g45" x2="0" y2="1"><stop offset=".002" stop-color="#0000ad"/><stop offset=".055" stop-color="#0000a2"/><stop offset=".121" stop-color="#0000ab"/><stop offset=".169" stop-color="#0000c5"/><stop offset=".226" stop-color="#0000fe"/><stop offset=".288" stop-color="#0065ff"/><stop offset=".35" stop-color="#02fffc"/><stop offset=".421" stop-color="#fbff03"/><stop offset=".488" stop-color="#fe0000"/><stop offset=".517" stop-color="#a10000"/><stop offset=".583" stop-color="#7f0000"/><stop offset=".588" stop-color="#890000"/><stop offset=".607" stop-color="#ff0700"/><stop offset=".631" stop-color="#ffef00"/><stop offset=".636" stop-color="#d9ff25"/><stop offset=".655" stop-color="#00fbff"/><stop offset=".674" stop-color="#0034ff"/><stop offset=".679" stop-color="#000cff"/><stop offset=".683" stop-color="#0000e8"/><stop offset=".693" stop-color="#0000b4"/><stop offset=".702" stop-color="#0000a2"/><stop offset=".726" stop-color="#0000e7"/><stop offset=".74" stop-color="#0000fd"/><stop offset=".755" stop-color="#0000eb"/><stop offset=".783" stop-color="#0000a1"/><stop offset=".807" stop-color="#0000c9"/><stop offset=".836" stop-color="#0000a1"/><stop offset=".85" stop-color="#0000b5"/><stop offset=".874" stop-color="#0000a3"/><stop offset=".998" stop-color="#0000a2"/></linearGradient><linearGradient id="g46" x2="0" y2="1"><stop offset=".002" stop-color="#0000c2"/><stop offset=".121" stop-color="#0000a1"/><stop offset=".16" stop-color="#0000a6"/><stop offset=".202" stop-color="#0000bc"/><stop offset=".264" stop-color="#0000fd"/><stop offset=".312" stop-color="#0053ff"/><stop offset=".374" stop-color="#00faff"/><stop offset=".379" stop-color="#0bfff3"/><stop offset=".44" stop-color="#f9ff05"/><stop offset=".502" stop-color="#fc0000"/><stop offset=".531" stop-color="#980000"/><stop offset=".593" stop-color="#800000"/><stop offset=".602" stop-color="#ab0000"/><stop offset=".612" stop-color="#ef0000"/><stop offset=".617" stop-color="#ff1800"/><stop offset=".636" stop-color="#ffdb00"/><stop offset=".64" stop-color="#ebff13"/><stop offset=".66" stop-color="#04fffa"/><stop offset=".664" stop-color="#00cbff"/><stop offset=".683" stop-color="#0009ff"/><stop offset=".688" stop-color="#0000e4"/><stop offset=".702" stop-color="#0000a3"/><stop offset=".707" stop-color="#0000a3"/><stop offset=".736" stop-color="#0000f6"/><stop offset=".745" stop-color="#0000fc"/><stop offset=".783" stop-color="#0000a1"/><stop offset=".807" stop-color="#0000c8"/><stop offset=".836" stop-color="#0000a1"/><stop offset=".85" stop-color="#0000b5"/><stop offset=".869" stop-color="#0000a3"/><stop offset=".998" stop-color="#0000a2"/></linearGradient><linearGradient id="g47" x2="0" y2="1"><stop offset=".002" stop-color="#0000d7"/><stop offset=".188" stop-color="#0000a1"/><stop offset=".245" stop-color="#0000bd"/><stop offset=".298" stop-color="#0000fb"/><stop offset=".34" stop-color="#0050ff"/><stop offset=".398" stop-color="#00faff"/><stop offset=".402" stop-color="#0cfff2"/><stop offset=".46" stop-color="#feff00"/><stop offset=".517" stop-color="#f70000"/><stop offset=".545" stop-color="#910000"/><stop offset=".602" stop-color="#810000"/><stop offset=".621" stop-color="#ff0200"/><stop offset=".64" stop-color="#ffc800"/><stop offset=".645" stop-color="#fcff02"/><stop offset=".664" stop-color="#0bfff3"/><stop offset=".669" stop-color="#00cfff"/><stop offset=".688" stop-color="#0006ff"/><stop offset=".693" stop-color="#0000e0"/><stop offset=".707" stop-color="#0000a1"/><stop offset=".736" stop-color="#0000f1"/><stop offset=".745" stop-color="#0000fc"/><stop offset=".755" stop-color="#0000f2"/><stop offset=".783" stop-color="#0000a1"/><stop offset=".807" stop-color="#0000c8"/><stop offset=".836" stop-color="#0000a1"/><stop offset=".85" stop-color="#0000b5"/><stop offset=".869" stop-color="#0000a2"/><stop offset=".998" stop-color="#0000a2"/></linearGradient><linearGradient id="g48" x2="0" y2="1"><stop offset=".002" stop-color="#0000ea"/><stop offset=".231" stop-color="#0000a1"/><stop offset=".283" stop-color="#0000bd"/><stop offset=".331" stop-color="#0000fd"/><stop offset=".379" stop-color="#006cff"/><stop offset=".421" stop-color="#00fffe"/><stop offset=".479" stop-color="#fff600"/><stop offset=".521" stop-color="#ff1c00"/><stop offset=".531" stop-color="#ef0000"/><stop offset=".555" stop-color="#8f0000"/><stop offset=".607" stop-color="#810000"/><stop offset=".612" stop-color="#8a0000"/><stop offset=".626" stop-color="#ed0000"/><stop offset=".631" stop-color="#ff1900"/><stop offset=".65" stop-color="#fff100"/><stop offset=".655" stop-color="#ceff30"/><stop offset=".669" stop-color="#10ffee"/><stop offset=".674" stop-color="#00d2ff"/><stop offset=".683" stop-color="#005fff"/><stop offset=".693" stop-color="#0001ff"/><stop offset=".702" stop-color="#0000bd"/><stop offset=".712" stop-color="#0000a1"/><stop offset=".745" stop-color="#0000fb"/><stop offset=".76" stop-color="#0000eb"/><stop offset=".783" stop-color="#0000a2"/><stop offset=".812" stop-color="#0000c8"/><stop offset=".836" stop-color="#0000a1"/><stop offset=".85" stop-color="#0000b5"/><stop offset=".869" stop-color="#0000a2"/><stop offset=".998" stop-color="#0000a2"/></linearGradient><linearGradient id="g49" x2="0" y2="1"><stop offset=".002" stop-color="#0000f9"/><stop offset=".117" stop-color="#0000e3"/><stop offset=".279" stop-color="#0000a1"/><stop offset=".321" stop-color="#0000ba"/><stop offset=".364" stop-color="#0000fa"/><stop offset=".402" stop-color="#005cff"/><stop offset=".445" stop-color="#00feff"/><stop offset=".45" stop-color="#15ffe9"/><stop offset=".493" stop-color="#f3ff0b"/><stop offset=".498" stop-color="#ffef00"/><stop offset=".54" stop-color="#f00"/><stop offset=".569" stop-color="#850000"/><stop offset=".617" stop-color="#800000"/><stop offset=".636" stop-color="#ff0700"/><stop offset=".655" stop-color="#ffe300"/><stop offset=".66" stop-color="#daff24"/><stop offset=".674" stop-color="#14ffea"/><stop offset=".679" stop-color="#00d2ff"/><stop offset=".688" stop-color="#005bff"/><stop offset=".698" stop-color="#0000f9"/><stop offset=".707" stop-color="#0000b8"/><stop offset=".717" stop-color="#0000a3"/><stop offset=".74" stop-color="#0000f1"/><stop offset=".75" stop-color="#0000fc"/><stop offset=".788" stop-color="#0000a2"/><stop offset=".812" stop-color="#0000c8"/><stop offset=".836" stop-color="#0000a1"/><stop offset=".85" stop-color="#0000b5"/><stop offset=".869" stop-color="#0000a2"/><stop offset=".998" stop-color="#0000a2"/></linearGradient><linearGradient id="g50" x2="0" y2="1"><stop offset=".002" stop-color="#0000fa"/><stop offset=".14" stop-color="#0000f1"/><stop offset=".321" stop-color="#0000a1"/><stop offset=".355" stop-color="#0000b7"/><stop offset=".398" stop-color="#0001ff"/><stop offset=".426" stop-color="#0053ff"/><stop offset=".469" stop-color="#0afff4"/><stop offset=".512" stop-color="#fffd00"/><stop offset=".545" stop-color="#ff2d00"/><stop offset=".555" stop-color="#f50000"/><stop offset=".579" stop-color="#840000"/><stop offset=".598" stop-color="#800000"/><stop offset=".626" stop-color="#800"/><stop offset=".64" stop-color="#f50000"/><stop offset=".645" stop-color="#ff2700"/><stop offset=".66" stop-color="#ffd800"/><stop offset=".664" stop-color="#e3ff1b"/><stop offset=".679" stop-color="#14ffea"/><stop offset=".683" stop-color="#00d0ff"/><stop offset=".698" stop-color="#0020ff"/><stop offset=".702" stop-color="#0000f1"/><stop offset=".712" stop-color="#0000b1"/><stop offset=".717" stop-color="#0000a2"/><stop offset=".75" stop-color="#0000fb"/><stop offset=".76" stop-color="#0000f3"/><stop offset=".788" stop-color="#0000a1"/><stop offset=".812" stop-color="#0000c8"/><stop offset=".836" stop-color="#0000a2"/><stop offset=".85" stop-color="#0000b5"/><stop offset=".869" stop-color="#0000a3"/><stop offset=".998" stop-color="#0000a2"/></linearGradient><linearGradient id="g51" x2="0" y2="1"><stop offset=".002" stop-color="#0000ec"/><stop offset=".102" stop-color="#0000fb"/><stop offset=".193" stop-color="#0000f4"/><stop offset=".355" stop-color="#0000a1"/><stop offset=".393" stop-color="#0000bf"/><stop offset=".421" stop-color="#0000f7"/><stop offset=".431" stop-color="#0012ff"/><stop offset=".455" stop-color="#0065ff"/><stop offset=".488" stop-color="#07fff7"/><stop offset=".526" stop-color="#f8ff06"/><stop offset=".564" stop-color="#ff0400"/><stop offset=".569" stop-color="#e60000"/><stop offset=".588" stop-color="#850000"/><stop offset=".593" stop-color="#7f0000"/><stop offset=".631" stop-color="#7f0000"/><stop offset=".645" stop-color="#e50000"/><stop offset=".65" stop-color="#ff1800"/><stop offset=".664" stop-color="#ffcd00"/><stop offset=".669" stop-color="#ebff13"/><stop offset=".683" stop-color="#13ffeb"/><stop offset=".688" stop-color="#0cf"/><stop offset=".702" stop-color="#0017ff"/><stop offset=".707" stop-color="#0000e8"/><stop offset=".717" stop-color="#0000ac"/><stop offset=".721" stop-color="#0000a1"/><stop offset=".745" stop-color="#0000f1"/><stop offset=".755" stop-color="#0000fb"/><stop offset=".788" stop-color="#0000a1"/><stop offset=".812" stop-color="#0000c9"/><stop offset=".836" stop-color="#0000a2"/><stop offset=".85" stop-color="#0000b5"/><stop offset=".869" stop-color="#0000a3"/><stop offset=".998" stop-color="#0000a2"/></linearGradient><linearGradient id="g52" x2="0" y2="1"><stop offset=".002" stop-color="#0000d5"/><stop offset=".212" stop-color="#0000fb"/><stop offset=".274" stop-color="#0000ea"/><stop offset=".388" stop-color="#0000a1"/><stop offset=".417" stop-color="#0000b8"/><stop offset=".445" stop-color="#0000f4"/><stop offset=".45" stop-color="#0003ff"/><stop offset=".469" stop-color="#0047ff"/><stop offset=".502" stop-color="#00efff"/><stop offset=".507" stop-color="#0dfff1"/><stop offset=".54" stop-color="#f5ff09"/><stop offset=".574" stop-color="#f10"/><stop offset=".579" stop-color="#f00000"/><stop offset=".598" stop-color="#860000"/><stop offset=".636" stop-color="#7f0000"/><stop offset=".64" stop-color="#8a0000"/><stop offset=".655" stop-color="#ff0900"/><stop offset=".669" stop-color="#ffc300"/><stop offset=".674" stop-color="#f2ff0c"/><stop offset=".688" stop-color="#11ffed"/><stop offset=".693" stop-color="#00c7ff"/><stop offset=".707" stop-color="#000dff"/><stop offset=".712" stop-color="#0000df"/><stop offset=".721" stop-color="#0000a6"/><stop offset=".726" stop-color="#0000a3"/><stop offset=".745" stop-color="#0000ea"/><stop offset=".755" stop-color="#0000fb"/><stop offset=".764" stop-color="#0000f0"/><stop offset=".788" stop-color="#0000a2"/><stop offset=".812" stop-color="#0000c9"/><stop offset=".836" stop-color="#0000a3"/><stop offset=".85" stop-color="#0000b5"/><stop offset=".869" stop-color="#0000a3"/><stop offset=".998" stop-color="#0000a3"/></linearGradient><linearGradient id="g53" x2="0" y2="1"><stop offset=".002" stop-color="#0000ba"/><stop offset=".188" stop-color="#0000f4"/><stop offset=".264" stop-color="#0000fb"/><stop offset=".326" stop-color="#0000e5"/><stop offset=".417" stop-color="#0000a1"/><stop offset=".44" stop-color="#0000b5"/><stop offset=".469" stop-color="#0000f7"/><stop offset=".493" stop-color="#0057ff"/><stop offset=".521" stop-color="#00fbff"/><stop offset=".526" stop-color="#1dffe1"/><stop offset=".555" stop-color="#f9ff05"/><stop offset=".588" stop-color="#f90000"/><stop offset=".602" stop-color="#9d0000"/><stop offset=".612" stop-color="#7f0000"/><stop offset=".645" stop-color="#7f0000"/><stop offset=".66" stop-color="#f90000"/><stop offset=".674" stop-color="#ffba00"/><stop offset=".679" stop-color="#f8ff06"/><stop offset=".693" stop-color="#0dfff1"/><stop offset=".698" stop-color="#00c1ff"/><stop offset=".712" stop-color="#0003ff"/><stop offset=".721" stop-color="#0000b4"/><stop offset=".726" stop-color="#0000a2"/><stop offset=".731" stop-color="#0000a7"/><stop offset=".75" stop-color="#0000f1"/><stop offset=".76" stop-color="#0000fb"/><stop offset=".788" stop-color="#0000a3"/><stop offset=".812" stop-color="#0000c8"/><stop offset=".836" stop-color="#0000a4"/><stop offset=".85" stop-color="#0000b5"/><stop offset=".864" stop-color="#0000a4"/><stop offset=".998" stop-color="#0000a4"/></linearGradient><linearGradient id="g54" x2="0" y2="1"><stop offset=".002" stop-color="#0000a6"/><stop offset=".293" stop-color="#0000fc"/><stop offset=".345" stop-color="#0000f0"/><stop offset=".445" stop-color="#0000a1"/><stop offset=".464" stop-color="#0000b5"/><stop offset=".488" stop-color="#0000f1"/><stop offset=".493" stop-color="#0003ff"/><stop offset=".507" stop-color="#0041ff"/><stop offset=".536" stop-color="#00efff"/><stop offset=".54" stop-color="#14ffea"/><stop offset=".569" stop-color="#fff900"/><stop offset=".598" stop-color="#ff0100"/><stop offset=".602" stop-color="#dc0000"/><stop offset=".617" stop-color="#820000"/><stop offset=".65" stop-color="#7f0000"/><stop offset=".655" stop-color="#910000"/><stop offset=".664" stop-color="#eb0000"/><stop offset=".669" stop-color="#ff2600"/><stop offset=".683" stop-color="#fffe00"/><stop offset=".698" stop-color="#0afff4"/><stop offset=".702" stop-color="#00baff"/><stop offset=".712" stop-color="#0030ff"/><stop offset=".717" stop-color="#0000f7"/><stop offset=".726" stop-color="#0000ae"/><stop offset=".731" stop-color="#0000a1"/><stop offset=".75" stop-color="#0000ea"/><stop offset=".76" stop-color="#0000fb"/><stop offset=".769" stop-color="#0000ed"/><stop offset=".788" stop-color="#0000a6"/><stop offset=".793" stop-color="#0000a3"/><stop offset=".812" stop-color="#0000c8"/><stop offset=".831" stop-color="#0000a5"/><stop offset=".85" stop-color="#0000b5"/><stop offset=".864" stop-color="#0000a5"/><stop offset=".998" stop-color="#0000a5"/></linearGradient><linearGradient id="g55" x2="0" y2="1"><stop offset=".002" stop-color="#0000a4"/><stop offset=".126" stop-color="#0000ad"/><stop offset=".336" stop-color="#0000fc"/><stop offset=".393" stop-color="#0000e8"/><stop offset=".469" stop-color="#0000a1"/><stop offset=".493" stop-color="#0000c3"/><stop offset=".512" stop-color="#0002ff"/><stop offset=".531" stop-color="#0063ff"/><stop offset=".55" stop-color="#00e8ff"/><stop offset=".555" stop-color="#0fffef"/><stop offset=".579" stop-color="#e8ff16"/><stop offset=".583" stop-color="#ffe700"/><stop offset=".607" stop-color="#ff0600"/><stop offset=".612" stop-color="#de0000"/><stop offset=".626" stop-color="#7f0000"/><stop offset=".66" stop-color="#840000"/><stop offset=".669" stop-color="#dc0000"/><stop offset=".674" stop-color="#ff1800"/><stop offset=".688" stop-color="#fff600"/><stop offset=".702" stop-color="#07fff7"/><stop offset=".707" stop-color="#00b4ff"/><stop offset=".717" stop-color="#0026ff"/><stop offset=".721" stop-color="#00e"/><stop offset=".731" stop-color="#0000a8"/><stop offset=".736" stop-color="#0000a3"/><stop offset=".755" stop-color="#0000f0"/><stop offset=".764" stop-color="#0000fb"/><stop offset=".793" stop-color="#0000a4"/><stop offset=".812" stop-color="#0000c8"/><stop offset=".831" stop-color="#0000a7"/><stop offset=".85" stop-color="#0000b5"/><stop offset=".864" stop-color="#0000a7"/><stop offset=".998" stop-color="#0000a7"/></linearGradient><linearGradient id="g56" x2="0" y2="1"><stop offset=".002" stop-color="#0000b4"/><stop offset=".15" stop-color="#0000a2"/><stop offset=".374" stop-color="#0000fc"/><stop offset=".417" stop-color="#0000ed"/><stop offset=".488" stop-color="#0000a1"/><stop offset=".507" stop-color="#0000b6"/><stop offset=".526" stop-color="#0000f1"/><stop offset=".531" stop-color="#0007ff"/><stop offset=".54" stop-color="#0039ff"/><stop offset=".564" stop-color="#00e5ff"/><stop offset=".569" stop-color="#10ffee"/><stop offset=".593" stop-color="#feff00"/><stop offset=".617" stop-color="#ff0b00"/><stop offset=".621" stop-color="#df0000"/><stop offset=".636" stop-color="#7f0000"/><stop offset=".664" stop-color="#7f0000"/><stop offset=".669" stop-color="#9c0000"/><stop offset=".679" stop-color="#ff0800"/><stop offset=".693" stop-color="#ffed00"/><stop offset=".698" stop-color="#b8ff46"/><stop offset=".707" stop-color="#06fff8"/><stop offset=".712" stop-color="#00b0ff"/><stop offset=".721" stop-color="#001dff"/><stop offset=".726" stop-color="#0000e5"/><stop offset=".736" stop-color="#0000a4"/><stop offset=".74" stop-color="#0000a7"/><stop offset=".755" stop-color="#0000e7"/><stop offset=".764" stop-color="#0000fb"/><stop offset=".774" stop-color="#0000ec"/><stop offset=".793" stop-color="#0000a4"/><stop offset=".817" stop-color="#0000c8"/><stop offset=".831" stop-color="#0000a8"/><stop offset=".85" stop-color="#0000b5"/><stop offset=".864" stop-color="#0000a8"/><stop offset=".998" stop-color="#0000a8"/></linearGradient><linearGradient id="g57" x2="0" y2="1"><stop offset=".002" stop-color="#0000c3"/><stop offset=".212" stop-color="#0000a2"/><stop offset=".407" stop-color="#0000fc"/><stop offset=".45" stop-color="#0000e8"/><stop offset=".507" stop-color="#0000a1"/><stop offset=".526" stop-color="#0000b8"/><stop offset=".545" stop-color="#0000fd"/><stop offset=".56" stop-color="#0051ff"/><stop offset=".579" stop-color="#00edff"/><stop offset=".583" stop-color="#1cffe2"/><stop offset=".602" stop-color="#eaff14"/><stop offset=".607" stop-color="#fd0"/><stop offset=".626" stop-color="#ff0c00"/><stop offset=".631" stop-color="#d00"/><stop offset=".64" stop-color="#900000"/><stop offset=".645" stop-color="#7f0000"/><stop offset=".669" stop-color="#7f0000"/><stop offset=".674" stop-color="#8c0000"/><stop offset=".683" stop-color="#f50000"/><stop offset=".688" stop-color="#ff3b00"/><stop offset=".698" stop-color="#ffe100"/><stop offset=".702" stop-color="#c0ff3e"/><stop offset=".712" stop-color="#05fff9"/><stop offset=".717" stop-color="#00abff"/><stop offset=".726" stop-color="#0015ff"/><stop offset=".731" stop-color="#0000dc"/><stop offset=".74" stop-color="#0000a1"/><stop offset=".76" stop-color="#00e"/><stop offset=".769" stop-color="#0000fb"/><stop offset=".793" stop-color="#0000a6"/><stop offset=".817" stop-color="#0000c8"/><stop offset=".831" stop-color="#00a"/><stop offset=".85" stop-color="#0000b5"/><stop offset=".86" stop-color="#00a"/><stop offset=".998" stop-color="#00a"/></linearGradient><linearGradient id="g58" x2="0" y2="1"><stop offset=".002" stop-color="#0000c9"/><stop offset=".26" stop-color="#0000a1"/><stop offset=".436" stop-color="#0000fc"/><stop offset=".469" stop-color="#0000ed"/><stop offset=".526" stop-color="#0000a1"/><stop offset=".54" stop-color="#0000b0"/><stop offset=".56" stop-color="#0000f5"/><stop offset=".564" stop-color="#0010ff"/><stop offset=".574" stop-color="#0050ff"/><stop offset=".593" stop-color="#00faff"/><stop offset=".598" stop-color="#2effd0"/><stop offset=".612" stop-color="#d5ff29"/><stop offset=".617" stop-color="#fe0"/><stop offset=".636" stop-color="#ff0d00"/><stop offset=".64" stop-color="#db0000"/><stop offset=".65" stop-color="#8a0000"/><stop offset=".679" stop-color="#7f0000"/><stop offset=".688" stop-color="#e10000"/><stop offset=".693" stop-color="#ff2700"/><stop offset=".702" stop-color="#ffd200"/><stop offset=".707" stop-color="#ccff32"/><stop offset=".717" stop-color="#08fff6"/><stop offset=".731" stop-color="#000eff"/><stop offset=".736" stop-color="#0000d5"/><stop offset=".74" stop-color="#0000af"/><stop offset=".745" stop-color="#0000a1"/><stop offset=".76" stop-color="#0000e2"/><stop offset=".769" stop-color="#0000fb"/><stop offset=".779" stop-color="#0000eb"/><stop offset=".793" stop-color="#0000ac"/><stop offset=".798" stop-color="#0000a6"/><stop offset=".817" stop-color="#0000c8"/><stop offset=".831" stop-color="#0000ac"/><stop offset=".998" stop-color="#0000ac"/></linearGradient><linearGradient id="g59" x2="0" y2="1"><stop offset=".002" stop-color="#0000c3"/><stop offset=".15" stop-color="#0000c5"/><stop offset=".307" stop-color="#0000a1"/><stop offset=".364" stop-color="#00b"/><stop offset=".44" stop-color="#0000f6"/><stop offset=".469" stop-color="#0000fb"/><stop offset=".502" stop-color="#0000e2"/><stop offset=".545" stop-color="#0000a1"/><stop offset=".56" stop-color="#0000b6"/><stop offset=".574" stop-color="#0000f0"/><stop offset=".579" stop-color="#000cff"/><stop offset=".588" stop-color="#0050ff"/><stop offset=".602" stop-color="#00d7ff"/><stop offset=".607" stop-color="#0dfff1"/><stop offset=".626" stop-color="#fcff02"/><stop offset=".645" stop-color="#ff0d00"/><stop offset=".65" stop-color="#d80000"/><stop offset=".66" stop-color="#830000"/><stop offset=".664" stop-color="#7f0000"/><stop offset=".683" stop-color="#7f0000"/><stop offset=".688" stop-color="#930000"/><stop offset=".693" stop-color="#ca0000"/><stop offset=".698" stop-color="#ff1000"/><stop offset=".707" stop-color="#ffbd00"/><stop offset=".712" stop-color="#dcff22"/><stop offset=".721" stop-color="#0efff0"/><stop offset=".726" stop-color="#00acff"/><stop offset=".736" stop-color="#000aff"/><stop offset=".74" stop-color="#0000d0"/><stop offset=".745" stop-color="#0000ab"/><stop offset=".75" stop-color="#0000a3"/><stop offset=".764" stop-color="#0000e9"/><stop offset=".774" stop-color="#0000fb"/><stop offset=".798" stop-color="#0000a7"/><stop offset=".817" stop-color="#0000c8"/><stop offset=".831" stop-color="#0000ae"/><stop offset=".998" stop-color="#0000ae"/></linearGradient><linearGradient id="g60" x2="0" y2="1"><stop offset=".002" stop-color="#0000b4"/><stop offset=".193" stop-color="#0000c8"/><stop offset=".35" stop-color="#0000a1"/><stop offset=".488" stop-color="#0000fc"/><stop offset=".517" stop-color="#0000eb"/><stop offset=".564" stop-color="#0000a1"/><stop offset=".574" stop-color="#0000b0"/><stop offset=".588" stop-color="#0000eb"/><stop offset=".593" stop-color="#000aff"/><stop offset=".598" stop-color="#002cff"/><stop offset=".617" stop-color="#00e9ff"/><stop offset=".621" stop-color="#25ffd9"/><stop offset=".636" stop-color="#e8ff16"/><stop offset=".64" stop-color="#ffd100"/><stop offset=".655" stop-color="#ff0f00"/><stop offset=".66" stop-color="#d50000"/><stop offset=".669" stop-color="#7f0000"/><stop offset=".693" stop-color="#7f0000"/><stop offset=".702" stop-color="#f30000"/><stop offset=".707" stop-color="#ff4500"/><stop offset=".717" stop-color="#f3ff0b"/><stop offset=".726" stop-color="#1bffe3"/><stop offset=".731" stop-color="#00b3ff"/><stop offset=".74" stop-color="#0008ff"/><stop offset=".745" stop-color="#00c"/><stop offset=".75" stop-color="#0000a8"/><stop offset=".755" stop-color="#0000a6"/><stop offset=".769" stop-color="#00e"/><stop offset=".779" stop-color="#0000fa"/><stop offset=".798" stop-color="#0000ab"/><stop offset=".802" stop-color="#0000a8"/><stop offset=".821" stop-color="#0000c8"/><stop offset=".836" stop-color="#0000b0"/><stop offset=".998" stop-color="#0000b0"/></linearGradient><linearGradient id="g61" x2="0" y2="1"><stop offset=".002" stop-color="#0000a4"/><stop offset=".236" stop-color="#0000c9"/><stop offset=".388" stop-color="#0000a1"/><stop offset=".512" stop-color="#0000fc"/><stop offset=".54" stop-color="#0000e8"/><stop offset=".579" stop-color="#0000a2"/><stop offset=".588" stop-color="#0000ac"/><stop offset=".602" stop-color="#0000e8"/><stop offset=".607" stop-color="#0009ff"/><stop offset=".612" stop-color="#002eff"/><stop offset=".621" stop-color="#008cff"/><stop offset=".631" stop-color="#01fffd"/><stop offset=".645" stop-color="#d0ff2e"/><stop offset=".65" stop-color="#ffe400"/><stop offset=".664" stop-color="#f10"/><stop offset=".669" stop-color="#d40000"/><stop offset=".679" stop-color="#7f0000"/><stop offset=".698" stop-color="#7f0000"/><stop offset=".702" stop-color="#950000"/><stop offset=".707" stop-color="#d30000"/><stop offset=".712" stop-color="#ff2400"/><stop offset=".721" stop-color="#ffed00"/><stop offset=".731" stop-color="#2effd0"/><stop offset=".736" stop-color="#00bfff"/><stop offset=".745" stop-color="#000aff"/><stop offset=".75" stop-color="#0000cb"/><stop offset=".755" stop-color="#0000a7"/><stop offset=".76" stop-color="#0000a8"/><stop offset=".774" stop-color="#0000f2"/><stop offset=".779" stop-color="#0000fb"/><stop offset=".783" stop-color="#0000f7"/><stop offset=".802" stop-color="#0000a9"/><stop offset=".821" stop-color="#0000c8"/><stop offset=".836" stop-color="#0000b2"/><stop offset=".998" stop-color="#0000b2"/></linearGradient><linearGradient id="g62" x2="0" y2="1"><stop offset=".002" stop-color="#0000a4"/><stop offset=".102" stop-color="#0000a4"/><stop offset=".298" stop-color="#0000c9"/><stop offset=".426" stop-color="#0000a1"/><stop offset=".536" stop-color="#0000fc"/><stop offset=".555" stop-color="#0000f0"/><stop offset=".598" stop-color="#0000a1"/><stop offset=".607" stop-color="#0000b6"/><stop offset=".617" stop-color="#0000e6"/><stop offset=".621" stop-color="#000aff"/><stop offset=".626" stop-color="#03f"/><stop offset=".64" stop-color="#00daff"/><stop offset=".645" stop-color="#1fffdf"/><stop offset=".66" stop-color="#fff900"/><stop offset=".674" stop-color="#ff1500"/><stop offset=".679" stop-color="#d30000"/><stop offset=".683" stop-color="#9c0000"/><stop offset=".688" stop-color="#7f0000"/><stop offset=".707" stop-color="#7f0000"/><stop offset=".712" stop-color="#b10000"/><stop offset=".717" stop-color="#fc0000"/><stop offset=".726" stop-color="#ffc700"/><stop offset=".731" stop-color="#c0ff3e"/><stop offset=".736" stop-color="#48ffb6"/><stop offset=".74" stop-color="#00d2ff"/><stop offset=".75" stop-color="#0010ff"/><stop offset=".755" stop-color="#0000cd"/><stop offset=".76" stop-color="#0000a7"/><stop offset=".764" stop-color="#0000a9"/><stop offset=".774" stop-color="#0000e1"/><stop offset=".783" stop-color="#0000fb"/><stop offset=".788" stop-color="#0000f3"/><stop offset=".802" stop-color="#0000ad"/><stop offset=".807" stop-color="#00a"/><stop offset=".821" stop-color="#0000c7"/><stop offset=".836" stop-color="#0000b4"/><stop offset=".998" stop-color="#0000b4"/></linearGradient><linearGradient id="g63" x2="0" y2="1"><stop offset=".002" stop-color="#0000b1"/><stop offset=".164" stop-color="#0000a1"/><stop offset=".35" stop-color="#0000c9"/><stop offset=".46" stop-color="#0000a1"/><stop offset=".483" stop-color="#0000ae"/><stop offset=".54" stop-color="#0000f4"/><stop offset=".56" stop-color="#0000fb"/><stop offset=".579" stop-color="#0000ea"/><stop offset=".612" stop-color="#0000a1"/><stop offset=".621" stop-color="#0000b3"/><stop offset=".631" stop-color="#0000e7"/><stop offset=".636" stop-color="#000eff"/><stop offset=".64" stop-color="#003cff"/><stop offset=".655" stop-color="#00f9ff"/><stop offset=".66" stop-color="#46ffb8"/><stop offset=".669" stop-color="#edff11"/><stop offset=".674" stop-color="#fb0"/><stop offset=".683" stop-color="#ff1800"/><stop offset=".688" stop-color="#d10000"/><stop offset=".693" stop-color="#970000"/><stop offset=".698" stop-color="#7f0000"/><stop offset=".712" stop-color="#7f0000"/><stop offset=".717" stop-color="#8f0000"/><stop offset=".721" stop-color="#d40000"/><stop offset=".726" stop-color="#ff2f00"/><stop offset=".731" stop-color="#ff9c00"/><stop offset=".736" stop-color="#e8ff16"/><stop offset=".74" stop-color="#69ff95"/><stop offset=".745" stop-color="#00ecff"/><stop offset=".755" stop-color="#0019ff"/><stop offset=".76" stop-color="#0000d1"/><stop offset=".764" stop-color="#0000a7"/><stop offset=".769" stop-color="#00a"/><stop offset=".779" stop-color="#0000e4"/><stop offset=".788" stop-color="#0000fb"/><stop offset=".807" stop-color="#00a"/><stop offset=".826" stop-color="#0000c9"/><stop offset=".836" stop-color="#0000b5"/><stop offset=".998" stop-color="#0000b6"/></linearGradient><linearGradient id="g64" x2="0" y2="1"><stop offset=".002" stop-color="#0000b5"/><stop offset=".24" stop-color="#0000a1"/><stop offset=".393" stop-color="#0000c9"/><stop offset=".493" stop-color="#0000a1"/><stop offset=".579" stop-color="#0000fb"/><stop offset=".598" stop-color="#0000e9"/><stop offset=".626" stop-color="#0000a2"/><stop offset=".636" stop-color="#0000b2"/><stop offset=".645" stop-color="#0000eb"/><stop offset=".65" stop-color="#0017ff"/><stop offset=".664" stop-color="#00d4ff"/><stop offset=".669" stop-color="#25ffd9"/><stop offset=".679" stop-color="#d6ff28"/><stop offset=".683" stop-color="#ffca00"/><stop offset=".693" stop-color="#ff1b00"/><stop offset=".698" stop-color="#ce0000"/><stop offset=".702" stop-color="#910000"/><stop offset=".707" stop-color="#7f0000"/><stop offset=".721" stop-color="#7f0000"/><stop offset=".726" stop-color="#ac0000"/><stop offset=".731" stop-color="#ff0100"/><stop offset=".74" stop-color="#ffe800"/><stop offset=".745" stop-color="#91ff6d"/><stop offset=".75" stop-color="#0cfff2"/><stop offset=".76" stop-color="#0026ff"/><stop offset=".764" stop-color="#0000d6"/><stop offset=".769" stop-color="#0000a8"/><stop offset=".774" stop-color="#00a"/><stop offset=".788" stop-color="#0000f9"/><stop offset=".793" stop-color="#0000fa"/><stop offset=".807" stop-color="#0000b4"/><stop offset=".812" stop-color="#0000ac"/><stop offset=".826" stop-color="#0000c7"/><stop offset=".84" stop-color="#0000b8"/><stop offset=".998" stop-color="#0000b8"/></linearGradient><linearGradient id="g65" x2="0" y2="1"><stop offset=".002" stop-color="#0000ad"/><stop offset=".16" stop-color="#0000b5"/><stop offset=".302" stop-color="#0000a1"/><stop offset=".436" stop-color="#0000c9"/><stop offset=".521" stop-color="#0000a1"/><stop offset=".598" stop-color="#0000fb"/><stop offset=".612" stop-color="#0000ef"/><stop offset=".64" stop-color="#0000a3"/><stop offset=".65" stop-color="#0000b4"/><stop offset=".66" stop-color="#0000f6"/><stop offset=".664" stop-color="#0029ff"/><stop offset=".669" stop-color="#0067ff"/><stop offset=".679" stop-color="#05fff9"/><stop offset=".688" stop-color="#c2ff3c"/><stop offset=".693" stop-color="#ffd700"/><stop offset=".702" stop-color="#ff1900"/><stop offset=".707" stop-color="#c80000"/><stop offset=".712" stop-color="#800"/><stop offset=".726" stop-color="#7f0000"/><stop offset=".731" stop-color="#800"/><stop offset=".736" stop-color="#d30000"/><stop offset=".74" stop-color="#ff3a00"/><stop offset=".745" stop-color="#ffb700"/><stop offset=".75" stop-color="#bcff42"/><stop offset=".755" stop-color="#2fffcf"/><stop offset=".76" stop-color="#00a8ff"/><stop offset=".764" stop-color="#0035ff"/><stop offset=".769" stop-color="#00d"/><stop offset=".774" stop-color="#00a"/><stop offset=".779" stop-color="#00a"/><stop offset=".793" stop-color="#0000fa"/><stop offset=".798" stop-color="#0000f8"/><stop offset=".812" stop-color="#0000ad"/><stop offset=".831" stop-color="#0000c9"/><stop offset=".84" stop-color="#0000ba"/><stop offset=".998" stop-color="#00b"/></linearGradient><linearGradient id="g66" x2="0" y2="1"><stop offset=".002" stop-color="#0000a4"/><stop offset=".236" stop-color="#0000b5"/><stop offset=".36" stop-color="#0000a1"/><stop offset=".469" stop-color="#0000c9"/><stop offset=".545" stop-color="#0000a1"/><stop offset=".617" stop-color="#0000fb"/><stop offset=".631" stop-color="#0000e9"/><stop offset=".655" stop-color="#0000a3"/><stop offset=".66" stop-color="#0000a6"/><stop offset=".669" stop-color="#0000db"/><stop offset=".674" stop-color="#000aff"/><stop offset=".679" stop-color="#0047ff"/><stop offset=".688" stop-color="#00e8ff"/><stop offset=".693" stop-color="#4affb4"/><stop offset=".698" stop-color="#b2ff4c"/><stop offset=".702" stop-color="#ffdf00"/><stop offset=".712" stop-color="#ff1300"/><stop offset=".717" stop-color="#bd0000"/><stop offset=".721" stop-color="#7f0000"/><stop offset=".736" stop-color="#7f0000"/><stop offset=".74" stop-color="#a90000"/><stop offset=".745" stop-color="#ff0900"/><stop offset=".755" stop-color="#ebff13"/><stop offset=".76" stop-color="#56ffa8"/><stop offset=".764" stop-color="#00c4ff"/><stop offset=".769" stop-color="#0046ff"/><stop offset=".774" stop-color="#0000e5"/><stop offset=".779" stop-color="#0000ac"/><stop offset=".783" stop-color="#0000a9"/><stop offset=".793" stop-color="#0000eb"/><stop offset=".798" stop-color="#0000fb"/><stop offset=".802" stop-color="#0000f5"/><stop offset=".817" stop-color="#0000ad"/><stop offset=".836" stop-color="#0000c7"/><stop offset=".84" stop-color="#00b"/><stop offset=".998" stop-color="#0000bd"/></linearGradient><linearGradient id="g67" x2="0" y2="1"><stop offset=".002" stop-color="#0000a3"/><stop offset=".283" stop-color="#0000b5"/><stop offset=".393" stop-color="#0000a1"/><stop offset=".493" stop-color="#0000c9"/><stop offset=".564" stop-color="#0000a1"/><stop offset=".583" stop-color="#0000b4"/><stop offset=".617" stop-color="#0000f3"/><stop offset=".631" stop-color="#0000fb"/><stop offset=".645" stop-color="#0000e6"/><stop offset=".669" stop-color="#0000a2"/><stop offset=".674" stop-color="#0000b1"/><stop offset=".683" stop-color="#00f"/><stop offset=".688" stop-color="#003dff"/><stop offset=".698" stop-color="#00e4ff"/><stop offset=".702" stop-color="#4cffb2"/><stop offset=".707" stop-color="#baff44"/><stop offset=".712" stop-color="#ffd200"/><stop offset=".721" stop-color="#fd0000"/><stop offset=".726" stop-color="#a90000"/><stop offset=".731" stop-color="#7f0000"/><stop offset=".745" stop-color="#840000"/><stop offset=".75" stop-color="#d70000"/><stop offset=".755" stop-color="#ff4c00"/><stop offset=".76" stop-color="#ffd900"/><stop offset=".764" stop-color="#89ff75"/><stop offset=".769" stop-color="#0ef"/><stop offset=".774" stop-color="#0064ff"/><stop offset=".779" stop-color="#0000f7"/><stop offset=".783" stop-color="#0000b2"/><stop offset=".788" stop-color="#0000a6"/><stop offset=".798" stop-color="#0000ea"/><stop offset=".802" stop-color="#0000fb"/><stop offset=".807" stop-color="#0000f5"/><stop offset=".817" stop-color="#0000bc"/><stop offset=".821" stop-color="#0000af"/><stop offset=".836" stop-color="#0000c8"/><stop offset=".998" stop-color="#0000bf"/></linearGradient><linearGradient id="g68" x2="0" y2="1"><stop offset=".002" stop-color="#0000a5"/><stop offset=".326" stop-color="#0000b5"/><stop offset=".421" stop-color="#0000a1"/><stop offset=".517" stop-color="#0000c9"/><stop offset=".579" stop-color="#0000a1"/><stop offset=".593" stop-color="#00a"/><stop offset=".64" stop-color="#0000fb"/><stop offset=".655" stop-color="#0000ec"/><stop offset=".679" stop-color="#0000a1"/><stop offset=".688" stop-color="#0000ca"/><stop offset=".693" stop-color="#0000f9"/><stop offset=".698" stop-color="#0039ff"/><stop offset=".707" stop-color="#00e9ff"/><stop offset=".712" stop-color="#57ffa7"/><stop offset=".717" stop-color="#cbff33"/><stop offset=".721" stop-color="#ffba00"/><stop offset=".726" stop-color="#ff4800"/><stop offset=".731" stop-color="#e10000"/><stop offset=".736" stop-color="#900000"/><stop offset=".74" stop-color="#7f0000"/><stop offset=".75" stop-color="#7f0000"/><stop offset=".755" stop-color="#ad0000"/><stop offset=".76" stop-color="#ff1900"/><stop offset=".764" stop-color="#ffa400"/><stop offset=".769" stop-color="#bbff43"/><stop offset=".774" stop-color="#19ffe5"/><stop offset=".779" stop-color="#0083ff"/><stop offset=".783" stop-color="#000aff"/><stop offset=".788" stop-color="#0000ba"/><stop offset=".793" stop-color="#0000a4"/><stop offset=".802" stop-color="#0000e9"/><stop offset=".807" stop-color="#0000fb"/><stop offset=".812" stop-color="#0000f4"/><stop offset=".821" stop-color="#0000b9"/><stop offset=".826" stop-color="#0000b0"/><stop offset=".84" stop-color="#0000c9"/><stop offset=".998" stop-color="#0000c1"/></linearGradient><linearGradient id="g69" x2="0" y2="1"><stop offset=".002" stop-color="#0000a6"/><stop offset=".169" stop-color="#0000a2"/><stop offset=".36" stop-color="#0000b5"/><stop offset=".45" stop-color="#0000a1"/><stop offset=".536" stop-color="#0000c9"/><stop offset=".598" stop-color="#0000a1"/><stop offset=".655" stop-color="#0000fb"/><stop offset=".669" stop-color="#0000e5"/><stop offset=".688" stop-color="#0000a2"/><stop offset=".693" stop-color="#00a"/><stop offset=".702" stop-color="#0000f8"/><stop offset=".707" stop-color="#003dff"/><stop offset=".717" stop-color="#00f9ff"/><stop offset=".721" stop-color="#6dff91"/><stop offset=".726" stop-color="#e9ff15"/><stop offset=".731" stop-color="#ff9800"/><stop offset=".736" stop-color="#ff2300"/><stop offset=".74" stop-color="#be0000"/><stop offset=".745" stop-color="#7f0000"/><stop offset=".755" stop-color="#7f0000"/><stop offset=".76" stop-color="#8b0000"/><stop offset=".764" stop-color="#eb0000"/><stop offset=".769" stop-color="#ff7300"/><stop offset=".774" stop-color="#eaff14"/><stop offset=".779" stop-color="#40ffbe"/><stop offset=".783" stop-color="#009fff"/><stop offset=".788" stop-color="#001bff"/><stop offset=".793" stop-color="#0000c1"/><stop offset=".798" stop-color="#0000a2"/><stop offset=".807" stop-color="#0000e9"/><stop offset=".812" stop-color="#0000fb"/><stop offset=".817" stop-color="#0000f3"/><stop offset=".826" stop-color="#0000b5"/><stop offset=".831" stop-color="#0000b2"/><stop offset=".845" stop-color="#0000c8"/><stop offset=".998" stop-color="#0000c3"/></linearGradient><linearGradient id="g70" x2="0" y2="1"><stop offset=".002" stop-color="#0000a6"/><stop offset=".226" stop-color="#0000a2"/><stop offset=".393" stop-color="#0000b5"/><stop offset=".474" stop-color="#0000a1"/><stop offset=".555" stop-color="#0000c9"/><stop offset=".612" stop-color="#0000a1"/><stop offset=".664" stop-color="#0000fb"/><stop offset=".679" stop-color="#0000e9"/><stop offset=".698" stop-color="#0000a2"/><stop offset=".702" stop-color="#00a"/><stop offset=".712" stop-color="#0000fe"/><stop offset=".717" stop-color="#0048ff"/><stop offset=".721" stop-color="#00a6ff"/><stop offset=".726" stop-color="#16ffe8"/><stop offset=".731" stop-color="#92ff6c"/><stop offset=".736" stop-color="#ffe800"/><stop offset=".74" stop-color="#ff6800"/><stop offset=".745" stop-color="#f30000"/><stop offset=".75" stop-color="#960000"/><stop offset=".755" stop-color="#7f0000"/><stop offset=".764" stop-color="#7f0000"/><stop offset=".769" stop-color="#c70000"/><stop offset=".774" stop-color="#ff4900"/><stop offset=".779" stop-color="#ffea00"/><stop offset=".783" stop-color="#63ff9b"/><stop offset=".788" stop-color="#00b9ff"/><stop offset=".793" stop-color="#002aff"/><stop offset=".798" stop-color="#0000c7"/><stop offset=".802" stop-color="#0000a1"/><stop offset=".812" stop-color="#0000ea"/><stop offset=".817" stop-color="#0000fb"/><stop offset=".821" stop-color="#0000f1"/><stop offset=".831" stop-color="#0000b0"/><stop offset=".845" stop-color="#0000c6"/><stop offset=".998" stop-color="#0000c5"/></linearGradient><linearGradient id="g71" x2="0" y2="1"><stop offset=".002" stop-color="#0000a5"/><stop offset=".269" stop-color="#0000a2"/><stop offset=".426" stop-color="#0000b5"/><stop offset=".498" stop-color="#0000a1"/><stop offset=".574" stop-color="#0000c9"/><stop offset=".626" stop-color="#0000a1"/><stop offset=".64" stop-color="#0000b3"/><stop offset=".669" stop-color="#0000f6"/><stop offset=".679" stop-color="#0000fb"/><stop offset=".688" stop-color="#0000eb"/><stop offset=".707" stop-color="#0000a2"/><stop offset=".712" stop-color="#0000ad"/><stop offset=".717" stop-color="#0000d1"/><stop offset=".721" stop-color="#000dff"/><stop offset=".726" stop-color="#005fff"/><stop offset=".731" stop-color="#00c6ff"/><stop offset=".736" stop-color="#41ffbd"/><stop offset=".74" stop-color="#c6ff38"/><stop offset=".745" stop-color="#ffae00"/><stop offset=".75" stop-color="#ff2c00"/><stop offset=".755" stop-color="#bd0000"/><stop offset=".76" stop-color="#7f0000"/><stop offset=".769" stop-color="#7f0000"/><stop offset=".774" stop-color="#a00"/><stop offset=".779" stop-color="#ff2600"/><stop offset=".783" stop-color="#ffc700"/><stop offset=".788" stop-color="#80ff7e"/><stop offset=".793" stop-color="#0cf"/><stop offset=".798" stop-color="#0034ff"/><stop offset=".802" stop-color="#0000ca"/><stop offset=".807" stop-color="#0000a1"/><stop offset=".817" stop-color="#0000eb"/><stop offset=".821" stop-color="#0000fc"/><stop offset=".826" stop-color="#00e"/><stop offset=".836" stop-color="#0000b1"/><stop offset=".85" stop-color="#0000c8"/><stop offset=".998" stop-color="#0000c7"/></linearGradient><linearGradient id="g72" x2="0" y2="1"><stop offset=".002" stop-color="#0000a4"/><stop offset=".321" stop-color="#0000a2"/><stop offset=".46" stop-color="#0000b5"/><stop offset=".526" stop-color="#0000a1"/><stop offset=".593" stop-color="#0000c9"/><stop offset=".64" stop-color="#0000a1"/><stop offset=".655" stop-color="#0000b1"/><stop offset=".688" stop-color="#0000fb"/><stop offset=".698" stop-color="#0000f2"/><stop offset=".717" stop-color="#0000a5"/><stop offset=".721" stop-color="#0000a7"/><stop offset=".726" stop-color="#0000c9"/><stop offset=".731" stop-color="#0005ff"/><stop offset=".736" stop-color="#005aff"/><stop offset=".74" stop-color="#00c7ff"/><stop offset=".745" stop-color="#49ffb5"/><stop offset=".75" stop-color="#d7ff27"/><stop offset=".755" stop-color="#ff9600"/><stop offset=".76" stop-color="#ff1000"/><stop offset=".764" stop-color="#a30000"/><stop offset=".769" stop-color="#7f0000"/><stop offset=".779" stop-color="#7f0000"/><stop offset=".783" stop-color="#e10000"/><stop offset=".788" stop-color="#ff7a00"/><stop offset=".793" stop-color="#cbff33"/><stop offset=".798" stop-color="#0cfff2"/><stop offset=".802" stop-color="#005fff"/><stop offset=".807" stop-color="#0000e1"/><stop offset=".812" stop-color="#0000a3"/><stop offset=".826" stop-color="#0000fb"/><stop offset=".831" stop-color="#0000ef"/><stop offset=".84" stop-color="#0000b2"/><stop offset=".855" stop-color="#0000c9"/><stop offset=".998" stop-color="#0000ca"/></linearGradient><linearGradient id="g73" x2="0" y2="1"><stop offset=".002" stop-color="#0000a3"/><stop offset=".374" stop-color="#0000a2"/><stop offset=".493" stop-color="#0000b5"/><stop offset=".555" stop-color="#0000a1"/><stop offset=".617" stop-color="#0000c8"/><stop offset=".66" stop-color="#0000a1"/><stop offset=".702" stop-color="#0000fb"/><stop offset=".712" stop-color="#0000ef"/><stop offset=".731" stop-color="#0000a1"/><stop offset=".736" stop-color="#0000b7"/><stop offset=".74" stop-color="#0000eb"/><stop offset=".745" stop-color="#003dff"/><stop offset=".75" stop-color="#00abff"/><stop offset=".755" stop-color="#31ffcd"/><stop offset=".76" stop-color="#c7ff37"/><stop offset=".764" stop-color="#ff9c00"/><stop offset=".769" stop-color="#ff0e00"/><stop offset=".774" stop-color="#9c0000"/><stop offset=".779" stop-color="#7f0000"/><stop offset=".788" stop-color="#900000"/><stop offset=".793" stop-color="#ff0d00"/><stop offset=".798" stop-color="#ffbc00"/><stop offset=".802" stop-color="#78ff86"/><stop offset=".807" stop-color="#00b3ff"/><stop offset=".812" stop-color="#0015ff"/><stop offset=".817" stop-color="#0000b3"/><stop offset=".821" stop-color="#0000ae"/><stop offset=".831" stop-color="#0000f9"/><stop offset=".836" stop-color="#0000f4"/><stop offset=".845" stop-color="#0000b3"/><stop offset=".869" stop-color="#00c"/><stop offset=".998" stop-color="#00c"/></linearGradient><linearGradient id="g74" x2="0" y2="1"><stop offset=".002" stop-color="#0000a3"/><stop offset=".417" stop-color="#0000a2"/><stop offset=".521" stop-color="#0000b5"/><stop offset=".579" stop-color="#0000a1"/><stop offset=".636" stop-color="#0000c9"/><stop offset=".674" stop-color="#0000a1"/><stop offset=".717" stop-color="#0000fb"/><stop offset=".726" stop-color="#0000e8"/><stop offset=".74" stop-color="#0000a3"/><stop offset=".745" stop-color="#0000ae"/><stop offset=".75" stop-color="#0000de"/><stop offset=".755" stop-color="#0030ff"/><stop offset=".76" stop-color="#00a1ff"/><stop offset=".764" stop-color="#2fffcf"/><stop offset=".769" stop-color="#ceff30"/><stop offset=".774" stop-color="#ff8c00"/><stop offset=".779" stop-color="#f80000"/><stop offset=".783" stop-color="#890000"/><stop offset=".793" stop-color="#7f0000"/><stop offset=".798" stop-color="#b90000"/><stop offset=".802" stop-color="#ff5600"/><stop offset=".807" stop-color="#deff20"/><stop offset=".812" stop-color="#09fff5"/><stop offset=".817" stop-color="#004dff"/><stop offset=".821" stop-color="#00c"/><stop offset=".826" stop-color="#0000a4"/><stop offset=".836" stop-color="#0000f6"/><stop offset=".84" stop-color="#0000f7"/><stop offset=".85" stop-color="#0000b3"/><stop offset=".874" stop-color="#0000ce"/><stop offset=".998" stop-color="#0000ce"/></linearGradient><linearGradient id="g75" x2="0" y2="1"><stop offset=".002" stop-color="#0000a3"/><stop offset=".455" stop-color="#0000a2"/><stop offset=".55" stop-color="#0000b5"/><stop offset=".598" stop-color="#0000a1"/><stop offset=".655" stop-color="#0000c8"/><stop offset=".688" stop-color="#0000a1"/><stop offset=".698" stop-color="#0000ab"/><stop offset=".726" stop-color="#0000fb"/><stop offset=".736" stop-color="#00e"/><stop offset=".75" stop-color="#0000a6"/><stop offset=".755" stop-color="#0000ab"/><stop offset=".76" stop-color="#0000db"/><stop offset=".764" stop-color="#0031ff"/><stop offset=".769" stop-color="#00abff"/><stop offset=".774" stop-color="#43ffbb"/><stop offset=".779" stop-color="#edff11"/><stop offset=".783" stop-color="#f60"/><stop offset=".788" stop-color="#d10000"/><stop offset=".793" stop-color="#7f0000"/><stop offset=".802" stop-color="#800000"/><stop offset=".807" stop-color="#ff0400"/><stop offset=".812" stop-color="#ffc500"/><stop offset=".817" stop-color="#59ffa5"/><stop offset=".821" stop-color="#0086ff"/><stop offset=".826" stop-color="#0000e9"/><stop offset=".831" stop-color="#0000a1"/><stop offset=".84" stop-color="#0000f3"/><stop offset=".845" stop-color="#0000f9"/><stop offset=".855" stop-color="#0000b4"/><stop offset=".879" stop-color="#0000d0"/><stop offset=".998" stop-color="#0000d0"/></linearGradient><linearGradient id="g76" x2="0" y2="1"><stop offset=".002" stop-color="#0000a3"/><stop offset=".483" stop-color="#0000a2"/><stop offset=".574" stop-color="#0000b5"/><stop offset=".617" stop-color="#0000a1"/><stop offset=".669" stop-color="#0000c8"/><stop offset=".702" stop-color="#0000a1"/><stop offset=".712" stop-color="#0000af"/><stop offset=".736" stop-color="#0000fa"/><stop offset=".745" stop-color="#0000f1"/><stop offset=".76" stop-color="#0000a6"/><stop offset=".764" stop-color="#0000ac"/><stop offset=".769" stop-color="#0000e3"/><stop offset=".774" stop-color="#0043ff"/><stop offset=".779" stop-color="#00caff"/><stop offset=".783" stop-color="#72ff8c"/><stop offset=".788" stop-color="#ffd600"/><stop offset=".793" stop-color="#ff2900"/><stop offset=".798" stop-color="#9e0000"/><stop offset=".802" stop-color="#7f0000"/><stop offset=".807" stop-color="#7f0000"/><stop offset=".812" stop-color="#c40000"/><stop offset=".817" stop-color="#ff7900"/><stop offset=".821" stop-color="#a0ff5e"/><stop offset=".826" stop-color="#0bf"/><stop offset=".831" stop-color="#0006ff"/><stop offset=".836" stop-color="#0000a6"/><stop offset=".84" stop-color="#0000c0"/><stop offset=".845" stop-color="#0000f0"/><stop offset=".85" stop-color="#0000f9"/><stop offset=".86" stop-color="#0000b4"/><stop offset=".883" stop-color="#0000d1"/><stop offset=".998" stop-color="#0000d1"/></linearGradient><linearGradient id="g77" x2="0" y2="1"><stop offset=".002" stop-color="#0000a3"/><stop offset=".512" stop-color="#0000a2"/><stop offset=".593" stop-color="#0000b5"/><stop offset=".636" stop-color="#0000a1"/><stop offset=".683" stop-color="#0000c8"/><stop offset=".717" stop-color="#0000a2"/><stop offset=".74" stop-color="#00e"/><stop offset=".75" stop-color="#0000fb"/><stop offset=".76" stop-color="#0000dc"/><stop offset=".769" stop-color="#0000a3"/><stop offset=".774" stop-color="#0000b4"/><stop offset=".779" stop-color="#0000f8"/><stop offset=".783" stop-color="#006aff"/><stop offset=".788" stop-color="#05fff9"/><stop offset=".793" stop-color="#bdff41"/><stop offset=".798" stop-color="#ff8200"/><stop offset=".802" stop-color="#db0000"/><stop offset=".807" stop-color="#7f0000"/><stop offset=".812" stop-color="#7f0000"/><stop offset=".817" stop-color="#980000"/><stop offset=".821" stop-color="#ff3e00"/><stop offset=".826" stop-color="#dbff23"/><stop offset=".831" stop-color="#00e7ff"/><stop offset=".836" stop-color="#001eff"/><stop offset=".84" stop-color="#0000ac"/><stop offset=".845" stop-color="#0000bc"/><stop offset=".85" stop-color="#0000ef"/><stop offset=".855" stop-color="#0000f9"/><stop offset=".864" stop-color="#0000b5"/><stop offset=".883" stop-color="#0000d1"/><stop offset=".998" stop-color="#0000d2"/></linearGradient><linearGradient id="g78" x2="0" y2="1"><stop offset=".002" stop-color="#0000a4"/><stop offset=".54" stop-color="#0000a2"/><stop offset=".612" stop-color="#0000b5"/><stop offset=".65" stop-color="#0000a1"/><stop offset=".698" stop-color="#0000c8"/><stop offset=".726" stop-color="#0000a1"/><stop offset=".736" stop-color="#0000b5"/><stop offset=".75" stop-color="#00e"/><stop offset=".76" stop-color="#0000fb"/><stop offset=".764" stop-color="#0000ef"/><stop offset=".779" stop-color="#0000a1"/><stop offset=".783" stop-color="#0000c7"/><stop offset=".788" stop-color="#0021ff"/><stop offset=".793" stop-color="#00abff"/><stop offset=".798" stop-color="#5fff9f"/><stop offset=".802" stop-color="#ffd700"/><stop offset=".807" stop-color="#ff1a00"/><stop offset=".812" stop-color="#8b0000"/><stop offset=".821" stop-color="#7f0000"/><stop offset=".826" stop-color="#ff1200"/><stop offset=".831" stop-color="#fff600"/><stop offset=".836" stop-color="#09fff5"/><stop offset=".84" stop-color="#002fff"/><stop offset=".845" stop-color="#0000b0"/><stop offset=".85" stop-color="#00b"/><stop offset=".855" stop-color="#0000ef"/><stop offset=".86" stop-color="#0000f8"/><stop offset=".869" stop-color="#0000b6"/><stop offset=".888" stop-color="#0000d2"/><stop offset=".998" stop-color="#0000d2"/></linearGradient><linearGradient id="g79" x2="0" y2="1"><stop offset=".002" stop-color="#0000a5"/><stop offset=".56" stop-color="#0000a2"/><stop offset=".631" stop-color="#0000b5"/><stop offset=".664" stop-color="#0000a1"/><stop offset=".707" stop-color="#0000c9"/><stop offset=".736" stop-color="#0000a1"/><stop offset=".764" stop-color="#0000fa"/><stop offset=".774" stop-color="#0000e9"/><stop offset=".783" stop-color="#0000ab"/><stop offset=".788" stop-color="#0000ab"/><stop offset=".793" stop-color="#0000ec"/><stop offset=".798" stop-color="#0065ff"/><stop offset=".802" stop-color="#10ffee"/><stop offset=".807" stop-color="#dbff23"/><stop offset=".812" stop-color="#f50"/><stop offset=".817" stop-color="#ac0000"/><stop offset=".821" stop-color="#7f0000"/><stop offset=".826" stop-color="#7f0000"/><stop offset=".831" stop-color="#f30000"/><stop offset=".836" stop-color="#ffd900"/><stop offset=".84" stop-color="#1bffe3"/><stop offset=".845" stop-color="#0035ff"/><stop offset=".85" stop-color="#0000b0"/><stop offset=".855" stop-color="#0000bd"/><stop offset=".86" stop-color="#0000f2"/><stop offset=".864" stop-color="#0000f6"/><stop offset=".869" stop-color="#0000cb"/><stop offset=".874" stop-color="#0000b8"/><stop offset=".893" stop-color="#0000d2"/><stop offset=".998" stop-color="#0000d2"/></linearGradient><linearGradient id="g80" x2="0" y2="1"><stop offset=".002" stop-color="#0000a5"/><stop offset=".583" stop-color="#0000a2"/><stop offset=".645" stop-color="#0000b5"/><stop offset=".679" stop-color="#0000a1"/><stop offset=".721" stop-color="#0000c8"/><stop offset=".745" stop-color="#0000a1"/><stop offset=".774" stop-color="#0000fb"/><stop offset=".779" stop-color="#0000f6"/><stop offset=".793" stop-color="#0000a1"/><stop offset=".798" stop-color="#0000c7"/><stop offset=".802" stop-color="#002dff"/><stop offset=".807" stop-color="#0cf"/><stop offset=".812" stop-color="#99ff65"/><stop offset=".817" stop-color="#ff8900"/><stop offset=".821" stop-color="#cb0000"/><stop offset=".826" stop-color="#7f0000"/><stop offset=".831" stop-color="#7f0000"/><stop offset=".836" stop-color="#e40000"/><stop offset=".84" stop-color="#ffd000"/><stop offset=".845" stop-color="#1affe4"/><stop offset=".85" stop-color="#002cff"/><stop offset=".855" stop-color="#00a"/><stop offset=".86" stop-color="#0000c5"/><stop offset=".864" stop-color="#0000f7"/><stop offset=".869" stop-color="#0000f0"/><stop offset=".874" stop-color="#0000bf"/><stop offset=".879" stop-color="#0000ba"/><stop offset=".898" stop-color="#0000d2"/><stop offset=".998" stop-color="#0000d2"/></linearGradient><linearGradient id="g81" x2="0" y2="1"><stop offset=".002" stop-color="#0000a6"/><stop offset=".602" stop-color="#0000a2"/><stop offset=".66" stop-color="#0000b5"/><stop offset=".693" stop-color="#0000a1"/><stop offset=".731" stop-color="#0000c8"/><stop offset=".755" stop-color="#0000a1"/><stop offset=".764" stop-color="#0000b9"/><stop offset=".779" stop-color="#0000f7"/><stop offset=".783" stop-color="#0000fb"/><stop offset=".788" stop-color="#0000ed"/><stop offset=".798" stop-color="#00a"/><stop offset=".802" stop-color="#0000b0"/><stop offset=".807" stop-color="#0004ff"/><stop offset=".812" stop-color="#09f"/><stop offset=".817" stop-color="#66ff98"/><stop offset=".821" stop-color="#ffb300"/><stop offset=".826" stop-color="#e40000"/><stop offset=".831" stop-color="#7f0000"/><stop offset=".836" stop-color="#7f0000"/><stop offset=".84" stop-color="#e10000"/><stop offset=".845" stop-color="#ffd600"/><stop offset=".85" stop-color="#08fff6"/><stop offset=".855" stop-color="#0019ff"/><stop offset=".86" stop-color="#0000a3"/><stop offset=".869" stop-color="#0000fb"/><stop offset=".874" stop-color="#0000e5"/><stop offset=".879" stop-color="#0000b4"/><stop offset=".898" stop-color="#0000d2"/><stop offset=".998" stop-color="#0000d2"/></linearGradient><linearGradient id="g82" x2="0" y2="1"><stop offset=".002" stop-color="#0000a7"/><stop offset=".621" stop-color="#0000a2"/><stop offset=".674" stop-color="#0000b5"/><stop offset=".707" stop-color="#0000a1"/><stop offset=".74" stop-color="#0000c8"/><stop offset=".764" stop-color="#0000a1"/><stop offset=".788" stop-color="#0000fb"/><stop offset=".793" stop-color="#0000f6"/><stop offset=".807" stop-color="#0000a5"/><stop offset=".812" stop-color="#0000e8"/><stop offset=".817" stop-color="#0075ff"/><stop offset=".821" stop-color="#42ffbc"/><stop offset=".826" stop-color="#ffce00"/><stop offset=".831" stop-color="#f20000"/><stop offset=".836" stop-color="#7f0000"/><stop offset=".84" stop-color="#7f0000"/><stop offset=".845" stop-color="#ea0000"/><stop offset=".85" stop-color="#fe0"/><stop offset=".855" stop-color="#00e5ff"/><stop offset=".86" stop-color="#0000fb"/><stop offset=".864" stop-color="#0000a2"/><stop offset=".869" stop-color="#0000df"/><stop offset=".874" stop-color="#0000fb"/><stop offset=".883" stop-color="#0000b7"/><stop offset=".902" stop-color="#0000d2"/><stop offset=".998" stop-color="#0000d2"/></linearGradient><linearGradient id="g83" x2="0" y2="1"><stop offset=".002" stop-color="#0000a8"/><stop offset=".636" stop-color="#0000a2"/><stop offset=".688" stop-color="#0000b5"/><stop offset=".717" stop-color="#0000a1"/><stop offset=".75" stop-color="#0000c8"/><stop offset=".769" stop-color="#0000a3"/><stop offset=".774" stop-color="#0000a4"/><stop offset=".793" stop-color="#0000f8"/><stop offset=".798" stop-color="#0000fa"/><stop offset=".812" stop-color="#0000a1"/><stop offset=".817" stop-color="#0000d7"/><stop offset=".821" stop-color="#005eff"/><stop offset=".826" stop-color="#2dffd1"/><stop offset=".831" stop-color="#ffda00"/><stop offset=".836" stop-color="#f30000"/><stop offset=".84" stop-color="#7f0000"/><stop offset=".845" stop-color="#7f0000"/><stop offset=".85" stop-color="#ff0200"/><stop offset=".855" stop-color="#e4ff1a"/><stop offset=".86" stop-color="#00b4ff"/><stop offset=".864" stop-color="#0000d9"/><stop offset=".869" stop-color="#0000ae"/><stop offset=".874" stop-color="#00e"/><stop offset=".879" stop-color="#0000f5"/><stop offset=".883" stop-color="#0000c1"/><stop offset=".888" stop-color="#00b"/><stop offset=".902" stop-color="#0000d2"/><stop offset=".998" stop-color="#0000d2"/></linearGradient><linearGradient id="g84" x2="0" y2="1"><stop offset=".002" stop-color="#0000a9"/><stop offset=".65" stop-color="#0000a2"/><stop offset=".698" stop-color="#0000b5"/><stop offset=".726" stop-color="#0000a1"/><stop offset=".755" stop-color="#0000c8"/><stop offset=".779" stop-color="#0000a1"/><stop offset=".798" stop-color="#0000f4"/><stop offset=".802" stop-color="#0000fb"/><stop offset=".807" stop-color="#0000ec"/><stop offset=".817" stop-color="#0000a2"/><stop offset=".821" stop-color="#0000ce"/><stop offset=".826" stop-color="#0054ff"/><stop offset=".831" stop-color="#29ffd5"/><stop offset=".836" stop-color="#ffd600"/><stop offset=".84" stop-color="#e80000"/><stop offset=".845" stop-color="#7f0000"/><stop offset=".85" stop-color="#7f0000"/><stop offset=".855" stop-color="#ff2a00"/><stop offset=".86" stop-color="#a6ff58"/><stop offset=".864" stop-color="#0076ff"/><stop offset=".869" stop-color="#0000b9"/><stop offset=".874" stop-color="#0000c2"/><stop offset=".879" stop-color="#0000f9"/><stop offset=".883" stop-color="#0000e6"/><stop offset=".888" stop-color="#0000b5"/><stop offset=".902" stop-color="#0000d0"/><stop offset=".945" stop-color="#00d"/><stop offset=".998" stop-color="#0000d2"/></linearGradient><linearGradient id="g85" x2="0" y2="1"><stop offset=".002" stop-color="#0000ab"/><stop offset=".664" stop-color="#0000a2"/><stop offset=".707" stop-color="#0000b5"/><stop offset=".736" stop-color="#0000a1"/><stop offset=".764" stop-color="#0000c9"/><stop offset=".783" stop-color="#0000a2"/><stop offset=".788" stop-color="#0000a7"/><stop offset=".807" stop-color="#0000fb"/><stop offset=".812" stop-color="#0000f0"/><stop offset=".821" stop-color="#0000a3"/><stop offset=".826" stop-color="#0000cb"/><stop offset=".831" stop-color="#0056ff"/><stop offset=".836" stop-color="#34ffca"/><stop offset=".84" stop-color="#ffc000"/><stop offset=".845" stop-color="#d10000"/><stop offset=".85" stop-color="#7f0000"/><stop offset=".855" stop-color="#840000"/><stop offset=".86" stop-color="#f60"/><stop offset=".864" stop-color="#54ffaa"/><stop offset=".869" stop-color="#0030ff"/><stop offset=".874" stop-color="#0000a2"/><stop offset=".879" stop-color="#0000db"/><stop offset=".883" stop-color="#0000fb"/><stop offset=".888" stop-color="#0000ce"/><stop offset=".893" stop-color="#0000b9"/><stop offset=".907" stop-color="#0000d2"/><stop offset=".94" stop-color="#0000d2"/><stop offset=".945" stop-color="#0000e0"/><stop offset=".95" stop-color="#0000d2"/><stop offset=".998" stop-color="#0000d2"/></linearGradient><linearGradient id="g86" x2="0" y2="1"><stop offset=".002" stop-color="#0000ad"/><stop offset=".674" stop-color="#0000a2"/><stop offset=".717" stop-color="#0000b5"/><stop offset=".745" stop-color="#0000a2"/><stop offset=".769" stop-color="#0000c8"/><stop offset=".793" stop-color="#0000a3"/><stop offset=".812" stop-color="#0000fb"/><stop offset=".817" stop-color="#0000f1"/><stop offset=".826" stop-color="#0000a3"/><stop offset=".831" stop-color="#0000d0"/><stop offset=".836" stop-color="#06f"/><stop offset=".84" stop-color="#52ffac"/><stop offset=".845" stop-color="#f90"/><stop offset=".85" stop-color="#af0000"/><stop offset=".855" stop-color="#7f0000"/><stop offset=".86" stop-color="#ad0000"/><stop offset=".864" stop-color="#fb0"/><stop offset=".869" stop-color="#00f0ff"/><stop offset=".874" stop-color="#0000eb"/><stop offset=".879" stop-color="#0000ad"/><stop offset=".883" stop-color="#0000f1"/><stop offset=".888" stop-color="#0000ef"/><stop offset=".893" stop-color="#0000b4"/><stop offset=".907" stop-color="#0000d0"/><stop offset=".94" stop-color="#0000d2"/><stop offset=".945" stop-color="#0000e2"/><stop offset=".95" stop-color="#0000d2"/><stop offset=".998" stop-color="#0000d2"/></linearGradient><linearGradient id="g87" x2="0" y2="1"><stop offset=".002" stop-color="#0000af"/><stop offset=".688" stop-color="#0000a2"/><stop offset=".726" stop-color="#0000b5"/><stop offset=".75" stop-color="#0000a1"/><stop offset=".779" stop-color="#0000c8"/><stop offset=".798" stop-color="#0000a2"/><stop offset=".817" stop-color="#0000fb"/><stop offset=".821" stop-color="#0000f1"/><stop offset=".831" stop-color="#0000a1"/><stop offset=".836" stop-color="#0000dc"/><stop offset=".84" stop-color="#0084ff"/><stop offset=".845" stop-color="#82ff7c"/><stop offset=".85" stop-color="#ff6100"/><stop offset=".855" stop-color="#800"/><stop offset=".86" stop-color="#7f0000"/><stop offset=".864" stop-color="#e00"/><stop offset=".869" stop-color="#d4ff2a"/><stop offset=".874" stop-color="#0083ff"/><stop offset=".879" stop-color="#0000b5"/><stop offset=".883" stop-color="#00c"/><stop offset=".888" stop-color="#0000fb"/><stop offset=".898" stop-color="#0000b9"/><stop offset=".912" stop-color="#0000d2"/><stop offset=".94" stop-color="#0000d2"/><stop offset=".945" stop-color="#0000e4"/><stop offset=".95" stop-color="#0000d3"/><stop offset=".998" stop-color="#0000d2"/></linearGradient><linearGradient id="g88" x2="0" y2="1"><stop offset=".002" stop-color="#0000b1"/><stop offset=".179" stop-color="#0000a2"/><stop offset=".698" stop-color="#0000a2"/><stop offset=".736" stop-color="#0000b5"/><stop offset=".76" stop-color="#0000a2"/><stop offset=".783" stop-color="#0000c8"/><stop offset=".802" stop-color="#0000a1"/><stop offset=".821" stop-color="#0000fb"/><stop offset=".826" stop-color="#0000ef"/><stop offset=".836" stop-color="#0000a2"/><stop offset=".84" stop-color="#0000f3"/><stop offset=".845" stop-color="#00b3ff"/><stop offset=".85" stop-color="#c7ff37"/><stop offset=".855" stop-color="#ff1c00"/><stop offset=".86" stop-color="#7f0000"/><stop offset=".864" stop-color="#7f0000"/><stop offset=".869" stop-color="#ff5100"/><stop offset=".874" stop-color="#4fffaf"/><stop offset=".879" stop-color="#001aff"/><stop offset=".883" stop-color="#0000a3"/><stop offset=".888" stop-color="#0000eb"/><stop offset=".893" stop-color="#0000f2"/><stop offset=".898" stop-color="#0000b5"/><stop offset=".912" stop-color="#0000d0"/><stop offset=".94" stop-color="#0000d2"/><stop offset=".945" stop-color="#0000e5"/><stop offset=".955" stop-color="#0000d2"/><stop offset=".998" stop-color="#0000d2"/></linearGradient><linearGradient id="g89" x2="0" y2="1"><stop offset=".002" stop-color="#0000b3"/><stop offset=".188" stop-color="#0000a2"/><stop offset=".707" stop-color="#0000a2"/><stop offset=".74" stop-color="#0000b5"/><stop offset=".764" stop-color="#0000a1"/><stop offset=".788" stop-color="#0000c9"/><stop offset=".807" stop-color="#0000a1"/><stop offset=".826" stop-color="#0000fc"/><stop offset=".831" stop-color="#0000eb"/><stop offset=".836" stop-color="#0000bd"/><stop offset=".84" stop-color="#0000a8"/><stop offset=".845" stop-color="#0016ff"/><stop offset=".85" stop-color="#00f4ff"/><stop offset=".855" stop-color="#ffe100"/><stop offset=".86" stop-color="#d00000"/><stop offset=".864" stop-color="#7f0000"/><stop offset=".869" stop-color="#ae0000"/><stop offset=".874" stop-color="#ffd900"/><stop offset=".879" stop-color="#00b8ff"/><stop offset=".883" stop-color="#0000c3"/><stop offset=".888" stop-color="#0000c6"/><stop offset=".893" stop-color="#0000fb"/><stop offset=".902" stop-color="#0000ba"/><stop offset=".917" stop-color="#0000d2"/><stop offset=".94" stop-color="#0000d2"/><stop offset=".945" stop-color="#0000e5"/><stop offset=".955" stop-color="#0000d2"/><stop offset=".998" stop-color="#0000d2"/></linearGradient><linearGradient id="g90" x2="0" y2="1"><stop offset=".002" stop-color="#0000b6"/><stop offset=".202" stop-color="#0000a2"/><stop offset=".717" stop-color="#0000a2"/><stop offset=".75" stop-color="#0000b5"/><stop offset=".774" stop-color="#0000a2"/><stop offset=".798" stop-color="#0000c7"/><stop offset=".812" stop-color="#0000a1"/><stop offset=".831" stop-color="#0000fc"/><stop offset=".836" stop-color="#0000e8"/><stop offset=".84" stop-color="#0000b7"/><stop offset=".845" stop-color="#0000b3"/><stop offset=".85" stop-color="#003fff"/><stop offset=".855" stop-color="#43ffbb"/><stop offset=".86" stop-color="#ff8100"/><stop offset=".864" stop-color="#8a0000"/><stop offset=".869" stop-color="#7f0000"/><stop offset=".874" stop-color="#f20"/><stop offset=".879" stop-color="#6eff90"/><stop offset=".883" stop-color="#001eff"/><stop offset=".888" stop-color="#0000a6"/><stop offset=".893" stop-color="#0000f1"/><stop offset=".898" stop-color="#0000ea"/><stop offset=".902" stop-color="#0000b6"/><stop offset=".917" stop-color="#0000d2"/><stop offset=".94" stop-color="#0000d2"/><stop offset=".945" stop-color="#0000e5"/><stop offset=".955" stop-color="#0000d2"/><stop offset=".998" stop-color="#0000d2"/></linearGradient><linearGradient id="g91" x2="0" y2="1"><stop offset=".002" stop-color="#0000b9"/><stop offset=".212" stop-color="#0000a2"/><stop offset=".731" stop-color="#0000a3"/><stop offset=".76" stop-color="#0000b5"/><stop offset=".779" stop-color="#0000a3"/><stop offset=".802" stop-color="#0000c8"/><stop offset=".817" stop-color="#0000a2"/><stop offset=".821" stop-color="#0000ad"/><stop offset=".831" stop-color="#00e"/><stop offset=".836" stop-color="#0000fb"/><stop offset=".84" stop-color="#0000e2"/><stop offset=".845" stop-color="#0000ac"/><stop offset=".85" stop-color="#0000c9"/><stop offset=".855" stop-color="#0081ff"/><stop offset=".86" stop-color="#acff52"/><stop offset=".864" stop-color="#ff1400"/><stop offset=".869" stop-color="#7f0000"/><stop offset=".874" stop-color="#900"/><stop offset=".879" stop-color="#ffd000"/><stop offset=".883" stop-color="#00a6ff"/><stop offset=".888" stop-color="#0000b3"/><stop offset=".898" stop-color="#0000f9"/><stop offset=".902" stop-color="#00b"/><stop offset=".917" stop-color="#0000d1"/><stop offset=".94" stop-color="#0000d2"/><stop offset=".945" stop-color="#0000e5"/><stop offset=".955" stop-color="#0000d2"/><stop offset=".998" stop-color="#0000d2"/></linearGradient><linearGradient id="g92" x2="0" y2="1"><stop offset=".002" stop-color="#0000bc"/><stop offset=".221" stop-color="#0000a2"/><stop offset=".683" stop-color="#0000a3"/><stop offset=".769" stop-color="#0000b5"/><stop offset=".788" stop-color="#0000a2"/><stop offset=".807" stop-color="#0000c9"/><stop offset=".821" stop-color="#0000a2"/><stop offset=".826" stop-color="#0000ad"/><stop offset=".836" stop-color="#0000f2"/><stop offset=".84" stop-color="#0000fa"/><stop offset=".85" stop-color="#0000a2"/><stop offset=".855" stop-color="#0000f4"/><stop offset=".86" stop-color="#00e2ff"/><stop offset=".864" stop-color="#fc0"/><stop offset=".869" stop-color="#a70000"/><stop offset=".874" stop-color="#7f0000"/><stop offset=".879" stop-color="#ff2400"/><stop offset=".883" stop-color="#4effb0"/><stop offset=".888" stop-color="#0000f8"/><stop offset=".893" stop-color="#0000b6"/><stop offset=".898" stop-color="#0000fb"/><stop offset=".907" stop-color="#00b"/><stop offset=".917" stop-color="#0000d0"/><stop offset=".94" stop-color="#0000d2"/><stop offset=".945" stop-color="#0000e5"/><stop offset=".955" stop-color="#0000d2"/><stop offset=".998" stop-color="#0000d2"/></linearGradient><linearGradient id="g93" x2="0" y2="1"><stop offset=".002" stop-color="#0000bf"/><stop offset=".236" stop-color="#0000a2"/><stop offset=".698" stop-color="#0000a3"/><stop offset=".764" stop-color="#0000b8"/><stop offset=".793" stop-color="#0000a2"/><stop offset=".812" stop-color="#0000c9"/><stop offset=".826" stop-color="#0000a1"/><stop offset=".831" stop-color="#0000b0"/><stop offset=".84" stop-color="#0000f6"/><stop offset=".845" stop-color="#0000f5"/><stop offset=".855" stop-color="#00a"/><stop offset=".86" stop-color="#003eff"/><stop offset=".864" stop-color="#6aff94"/><stop offset=".869" stop-color="#ff3500"/><stop offset=".874" stop-color="#7f0000"/><stop offset=".879" stop-color="#a10000"/><stop offset=".883" stop-color="#fffd00"/><stop offset=".888" stop-color="#0068ff"/><stop offset=".893" stop-color="#0000a1"/><stop offset=".898" stop-color="#00e"/><stop offset=".902" stop-color="#0000e7"/><stop offset=".907" stop-color="#0000b7"/><stop offset=".917" stop-color="#0000cf"/><stop offset=".94" stop-color="#0000d2"/><stop offset=".945" stop-color="#0000e5"/><stop offset=".955" stop-color="#0000d2"/><stop offset=".998" stop-color="#0000d2"/></linearGradient><linearGradient id="g94" x2="0" y2="1"><stop offset=".002" stop-color="#0000c1"/><stop offset=".245" stop-color="#0000a2"/><stop offset=".707" stop-color="#0000a3"/><stop offset=".764" stop-color="#0000c1"/><stop offset=".798" stop-color="#0000a2"/><stop offset=".817" stop-color="#0000c8"/><stop offset=".831" stop-color="#0000a1"/><stop offset=".845" stop-color="#0000fa"/><stop offset=".85" stop-color="#0000ea"/><stop offset=".855" stop-color="#0000b0"/><stop offset=".86" stop-color="#0000d1"/><stop offset=".864" stop-color="#00b4ff"/><stop offset=".869" stop-color="#ffe600"/><stop offset=".874" stop-color="#a70000"/><stop offset=".879" stop-color="#7f0000"/><stop offset=".883" stop-color="#ff5800"/><stop offset=".888" stop-color="#00f5ff"/><stop offset=".893" stop-color="#0000c1"/><stop offset=".902" stop-color="#0000f6"/><stop offset=".907" stop-color="#0000b4"/><stop offset=".921" stop-color="#0000d2"/><stop offset=".94" stop-color="#0000d2"/><stop offset=".945" stop-color="#0000e5"/><stop offset=".955" stop-color="#0000d2"/><stop offset=".998" stop-color="#0000d2"/></linearGradient><linearGradient id="g95" x2="0" y2="1"><stop offset=".002" stop-color="#0000c4"/><stop offset=".236" stop-color="#0000a3"/><stop offset=".564" stop-color="#0000a2"/><stop offset=".721" stop-color="#0000a3"/><stop offset=".764" stop-color="#0000c6"/><stop offset=".802" stop-color="#0000a2"/><stop offset=".821" stop-color="#0000c9"/><stop offset=".836" stop-color="#0000a2"/><stop offset=".845" stop-color="#0000ea"/><stop offset=".85" stop-color="#0000fb"/><stop offset=".86" stop-color="#0000a1"/><stop offset=".864" stop-color="#0025ff"/><stop offset=".869" stop-color="#5effa0"/><stop offset=".874" stop-color="#ff2900"/><stop offset=".879" stop-color="#7f0000"/><stop offset=".883" stop-color="#d00000"/><stop offset=".888" stop-color="#94ff6a"/><stop offset=".893" stop-color="#0009ff"/><stop offset=".898" stop-color="#0000b9"/><stop offset=".902" stop-color="#0000fc"/><stop offset=".907" stop-color="#0000c1"/><stop offset=".94" stop-color="#0000d2"/><stop offset=".945" stop-color="#0000e5"/><stop offset=".955" stop-color="#0000d2"/><stop offset=".998" stop-color="#0000d2"/></linearGradient><linearGradient id="g96" x2="0" y2="1"><stop offset=".002" stop-color="#0000c6"/><stop offset=".264" stop-color="#0000a2"/><stop offset=".588" stop-color="#0000a2"/><stop offset=".731" stop-color="#0000a4"/><stop offset=".769" stop-color="#0000c9"/><stop offset=".807" stop-color="#0000a2"/><stop offset=".826" stop-color="#0000c8"/><stop offset=".836" stop-color="#0000a8"/><stop offset=".84" stop-color="#0000a8"/><stop offset=".85" stop-color="#0000f5"/><stop offset=".855" stop-color="#0000f3"/><stop offset=".86" stop-color="#0000b9"/><stop offset=".864" stop-color="#0000c7"/><stop offset=".869" stop-color="#00b5ff"/><stop offset=".874" stop-color="#ffca00"/><stop offset=".879" stop-color="#870000"/><stop offset=".883" stop-color="#7f0000"/><stop offset=".888" stop-color="#fc0"/><stop offset=".893" stop-color="#006fff"/><stop offset=".898" stop-color="#0000a2"/><stop offset=".902" stop-color="#0000f7"/><stop offset=".912" stop-color="#0000bc"/><stop offset=".921" stop-color="#0000d1"/><stop offset=".94" stop-color="#0000d2"/><stop offset=".945" stop-color="#0000e5"/><stop offset=".955" stop-color="#0000d2"/><stop offset=".998" stop-color="#0000d2"/></linearGradient><linearGradient id="g97" x2="0" y2="1"><stop offset=".002" stop-color="#0000c7"/><stop offset=".279" stop-color="#0000a2"/><stop offset=".731" stop-color="#0000a3"/><stop offset=".769" stop-color="#0000cf"/><stop offset=".812" stop-color="#0000a2"/><stop offset=".831" stop-color="#0000c7"/><stop offset=".84" stop-color="#0000a3"/><stop offset=".845" stop-color="#0000b3"/><stop offset=".855" stop-color="#0000fb"/><stop offset=".86" stop-color="#00d"/><stop offset=".864" stop-color="#0000a1"/><stop offset=".869" stop-color="#002fff"/><stop offset=".874" stop-color="#89ff75"/><stop offset=".879" stop-color="#e00"/><stop offset=".883" stop-color="#7f0000"/><stop offset=".888" stop-color="#ff3d00"/><stop offset=".893" stop-color="#00ebff"/><stop offset=".898" stop-color="#0000b1"/><stop offset=".902" stop-color="#0000e8"/><stop offset=".907" stop-color="#0000e6"/><stop offset=".912" stop-color="#0000b9"/><stop offset=".921" stop-color="#0000d1"/><stop offset=".94" stop-color="#0000d2"/><stop offset=".945" stop-color="#0000e5"/><stop offset=".955" stop-color="#0000d2"/><stop offset=".998" stop-color="#0000d2"/></linearGradient><linearGradient id="g98" x2="0" y2="1"><stop offset=".002" stop-color="#0000c8"/><stop offset=".288" stop-color="#0000a2"/><stop offset=".731" stop-color="#0000a3"/><stop offset=".774" stop-color="#0000dc"/><stop offset=".793" stop-color="#0000af"/><stop offset=".807" stop-color="#0000b3"/><stop offset=".817" stop-color="#0000a1"/><stop offset=".831" stop-color="#0000c7"/><stop offset=".836" stop-color="#0000c5"/><stop offset=".845" stop-color="#0000a2"/><stop offset=".855" stop-color="#0000f1"/><stop offset=".86" stop-color="#0000f5"/><stop offset=".864" stop-color="#0000b9"/><stop offset=".869" stop-color="#0000d3"/><stop offset=".874" stop-color="#00e8ff"/><stop offset=".879" stop-color="#f70"/><stop offset=".883" stop-color="#7f0000"/><stop offset=".888" stop-color="#c80000"/><stop offset=".893" stop-color="#75ff89"/><stop offset=".898" stop-color="#0000e1"/><stop offset=".902" stop-color="#0000d1"/><stop offset=".907" stop-color="#0000f3"/><stop offset=".912" stop-color="#0000b6"/><stop offset=".921" stop-color="#0000d0"/><stop offset=".94" stop-color="#0000d2"/><stop offset=".945" stop-color="#0000e5"/><stop offset=".955" stop-color="#0000d2"/><stop offset=".998" stop-color="#0000d2"/></linearGradient><linearGradient id="g99" x2="0" y2="1"><stop offset=".002" stop-color="#0000c8"/><stop offset=".298" stop-color="#0000a2"/><stop offset=".731" stop-color="#0000a3"/><stop offset=".75" stop-color="#0000b6"/><stop offset=".774" stop-color="#0000f6"/><stop offset=".798" stop-color="#0000ac"/><stop offset=".812" stop-color="#0000b3"/><stop offset=".821" stop-color="#0000a1"/><stop offset=".836" stop-color="#0000c8"/><stop offset=".845" stop-color="#0000a7"/><stop offset=".85" stop-color="#0000ad"/><stop offset=".86" stop-color="#0000fb"/><stop offset=".869" stop-color="#0000a5"/><stop offset=".874" stop-color="#0061ff"/><stop offset=".879" stop-color="#eeff10"/><stop offset=".883" stop-color="#980000"/><stop offset=".888" stop-color="#7f0000"/><stop offset=".893" stop-color="#fffd00"/><stop offset=".898" stop-color="#002cff"/><stop offset=".902" stop-color="#0000b9"/><stop offset=".907" stop-color="#0000fa"/><stop offset=".912" stop-color="#0000b4"/><stop offset=".921" stop-color="#0000cf"/><stop offset=".94" stop-color="#0000d2"/><stop offset=".945" stop-color="#0000e5"/><stop offset=".955" stop-color="#0000d2"/><stop offset=".998" stop-color="#0000d2"/></linearGradient><linearGradient id="g100" x2="0" y2="1"><stop offset=".002" stop-color="#0000c7"/><stop offset=".307" stop-color="#0000a2"/><stop offset=".736" stop-color="#0000a3"/><stop offset=".75" stop-color="#0000b5"/><stop offset=".769" stop-color="#0007ff"/><stop offset=".779" stop-color="#0013ff"/><stop offset=".783" stop-color="#0002ff"/><stop offset=".798" stop-color="#0000b5"/><stop offset=".802" stop-color="#00a"/><stop offset=".812" stop-color="#0000b5"/><stop offset=".826" stop-color="#0000a2"/><stop offset=".84" stop-color="#0000c8"/><stop offset=".85" stop-color="#0000a1"/><stop offset=".86" stop-color="#0000f1"/><stop offset=".864" stop-color="#0000f2"/><stop offset=".869" stop-color="#0000ae"/><stop offset=".874" stop-color="#0000fa"/><stop offset=".879" stop-color="#55ffa9"/><stop offset=".883" stop-color="#f90000"/><stop offset=".888" stop-color="#7f0000"/><stop offset=".893" stop-color="#ff7a00"/><stop offset=".898" stop-color="#0089ff"/><stop offset=".902" stop-color="#0000a4"/><stop offset=".907" stop-color="#0000fb"/><stop offset=".912" stop-color="#0000bf"/><stop offset=".94" stop-color="#0000d2"/><stop offset=".945" stop-color="#0000e5"/><stop offset=".955" stop-color="#0000d2"/><stop offset=".998" stop-color="#0000d2"/></linearGradient><linearGradient id="g101" x2="0" y2="1"><stop offset=".002" stop-color="#0000c5"/><stop offset=".117" stop-color="#0000c5"/><stop offset=".317" stop-color="#0000a2"/><stop offset=".736" stop-color="#0000a3"/><stop offset=".75" stop-color="#0000b1"/><stop offset=".764" stop-color="#0000f1"/><stop offset=".779" stop-color="#0030ff"/><stop offset=".788" stop-color="#0007ff"/><stop offset=".798" stop-color="#0000c3"/><stop offset=".807" stop-color="#0000ab"/><stop offset=".817" stop-color="#0000b5"/><stop offset=".831" stop-color="#0000a6"/><stop offset=".84" stop-color="#0000c7"/><stop offset=".85" stop-color="#00a"/><stop offset=".855" stop-color="#0000ac"/><stop offset=".864" stop-color="#0000fb"/><stop offset=".869" stop-color="#0000cd"/><stop offset=".874" stop-color="#0000b9"/><stop offset=".879" stop-color="#00c8ff"/><stop offset=".883" stop-color="#ff7500"/><stop offset=".888" stop-color="#7f0000"/><stop offset=".893" stop-color="#ff0800"/><stop offset=".898" stop-color="#00f6ff"/><stop offset=".902" stop-color="#0000a8"/><stop offset=".907" stop-color="#0000f4"/><stop offset=".912" stop-color="#0000ce"/><stop offset=".917" stop-color="#0000be"/><stop offset=".926" stop-color="#0000d2"/><stop offset=".94" stop-color="#0000d2"/><stop offset=".945" stop-color="#0000e5"/><stop offset=".955" stop-color="#0000d2"/><stop offset=".998" stop-color="#0000d2"/></linearGradient><linearGradient id="g102" x2="0" y2="1"><stop offset=".002" stop-color="#0000c2"/><stop offset=".117" stop-color="#0000c7"/><stop offset=".326" stop-color="#0000a2"/><stop offset=".74" stop-color="#0000a3"/><stop offset=".755" stop-color="#0000b7"/><stop offset=".769" stop-color="#0008ff"/><stop offset=".779" stop-color="#003cff"/><stop offset=".783" stop-color="#003aff"/><stop offset=".788" stop-color="#0021ff"/><stop offset=".793" stop-color="#0000f9"/><stop offset=".802" stop-color="#0000b8"/><stop offset=".807" stop-color="#0000a9"/><stop offset=".821" stop-color="#0000b5"/><stop offset=".831" stop-color="#0000a1"/><stop offset=".845" stop-color="#0000c8"/><stop offset=".855" stop-color="#0000a1"/><stop offset=".864" stop-color="#0000f6"/><stop offset=".869" stop-color="#0000e9"/><stop offset=".874" stop-color="#0000a1"/><stop offset=".879" stop-color="#0052ff"/><stop offset=".883" stop-color="#fffd00"/><stop offset=".888" stop-color="#7f0000"/><stop offset=".893" stop-color="#ad0000"/><stop offset=".898" stop-color="#6cff92"/><stop offset=".902" stop-color="#0000c7"/><stop offset=".907" stop-color="#0000e7"/><stop offset=".912" stop-color="#00d"/><stop offset=".917" stop-color="#0000bc"/><stop offset=".926" stop-color="#0000d2"/><stop offset=".94" stop-color="#0000d2"/><stop offset=".945" stop-color="#0000e5"/><stop offset=".955" stop-color="#0000d2"/><stop offset=".998" stop-color="#0000d2"/></linearGradient><linearGradient id="g103" x2="0" y2="1"><stop offset=".002" stop-color="#0000be"/><stop offset=".136" stop-color="#0000c7"/><stop offset=".336" stop-color="#0000a2"/><stop offset=".745" stop-color="#0000a3"/><stop offset=".76" stop-color="#0000bc"/><stop offset=".769" stop-color="#0000f0"/><stop offset=".783" stop-color="#003aff"/><stop offset=".793" stop-color="#000aff"/><stop offset=".807" stop-color="#0000ad"/><stop offset=".821" stop-color="#0000b5"/><stop offset=".836" stop-color="#0000a3"/><stop offset=".845" stop-color="#0000c7"/><stop offset=".85" stop-color="#0000c3"/><stop offset=".855" stop-color="#0000a9"/><stop offset=".86" stop-color="#0000af"/><stop offset=".864" stop-color="#0000e5"/><stop offset=".869" stop-color="#0000f8"/><stop offset=".874" stop-color="#0000b6"/><stop offset=".879" stop-color="#0000f7"/><stop offset=".883" stop-color="#76ff88"/><stop offset=".888" stop-color="#c40000"/><stop offset=".893" stop-color="#7f0000"/><stop offset=".898" stop-color="#e3ff1b"/><stop offset=".902" stop-color="#0000f8"/><stop offset=".907" stop-color="#0000d5"/><stop offset=".912" stop-color="#0000ea"/><stop offset=".917" stop-color="#0000ba"/><stop offset=".926" stop-color="#0000d2"/><stop offset=".94" stop-color="#0000d2"/><stop offset=".945" stop-color="#0000e5"/><stop offset=".955" stop-color="#0000d2"/><stop offset=".998" stop-color="#0000d2"/></linearGradient><linearGradient id="g104" x2="0" y2="1"><stop offset=".002" stop-color="#0000ba"/><stop offset=".14" stop-color="#0000c8"/><stop offset=".345" stop-color="#0000a2"/><stop offset=".745" stop-color="#0000a3"/><stop offset=".76" stop-color="#0000b0"/><stop offset=".774" stop-color="#0000f6"/><stop offset=".779" stop-color="#0016ff"/><stop offset=".783" stop-color="#002aff"/><stop offset=".788" stop-color="#0028ff"/><stop offset=".793" stop-color="#0010ff"/><stop offset=".798" stop-color="#0000ea"/><stop offset=".807" stop-color="#0000b1"/><stop offset=".812" stop-color="#0000a6"/><stop offset=".826" stop-color="#0000b5"/><stop offset=".836" stop-color="#0000a3"/><stop offset=".85" stop-color="#0000c8"/><stop offset=".86" stop-color="#0000a2"/><stop offset=".869" stop-color="#0000fb"/><stop offset=".879" stop-color="#0000bc"/><stop offset=".883" stop-color="#00f3ff"/><stop offset=".888" stop-color="#ff2600"/><stop offset=".893" stop-color="#7f0000"/><stop offset=".898" stop-color="#ffa700"/><stop offset=".902" stop-color="#003cff"/><stop offset=".907" stop-color="#0000c1"/><stop offset=".912" stop-color="#0000f3"/><stop offset=".917" stop-color="#0000b8"/><stop offset=".926" stop-color="#0000d2"/><stop offset=".94" stop-color="#0000d2"/><stop offset=".945" stop-color="#0000e5"/><stop offset=".955" stop-color="#0000d2"/><stop offset=".998" stop-color="#0000d2"/></linearGradient><linearGradient id="g105" x2="0" y2="1"><stop offset=".002" stop-color="#0000b6"/><stop offset=".155" stop-color="#0000c8"/><stop offset=".35" stop-color="#0000a2"/><stop offset=".75" stop-color="#0000a3"/><stop offset=".764" stop-color="#0000b5"/><stop offset=".779" stop-color="#0002ff"/><stop offset=".788" stop-color="#0020ff"/><stop offset=".793" stop-color="#0010ff"/><stop offset=".798" stop-color="#0000ef"/><stop offset=".807" stop-color="#0000b4"/><stop offset=".817" stop-color="#0000a4"/><stop offset=".831" stop-color="#0000b4"/><stop offset=".84" stop-color="#0000a1"/><stop offset=".85" stop-color="#0000c7"/><stop offset=".855" stop-color="#0000c1"/><stop offset=".86" stop-color="#0000a5"/><stop offset=".864" stop-color="#0000ba"/><stop offset=".869" stop-color="#0000f2"/><stop offset=".874" stop-color="#0000eb"/><stop offset=".879" stop-color="#0000a1"/><stop offset=".883" stop-color="#0080ff"/><stop offset=".888" stop-color="#f90"/><stop offset=".893" stop-color="#7f0000"/><stop offset=".898" stop-color="#ff3e00"/><stop offset=".902" stop-color="#008cff"/><stop offset=".907" stop-color="#0000ae"/><stop offset=".912" stop-color="#0000fa"/><stop offset=".917" stop-color="#0000b6"/><stop offset=".926" stop-color="#0000d1"/><stop offset=".94" stop-color="#0000d2"/><stop offset=".945" stop-color="#0000e5"/><stop offset=".955" stop-color="#0000d2"/><stop offset=".998" stop-color="#0000d2"/></linearGradient><linearGradient id="g106" x2="0" y2="1"><stop offset=".002" stop-color="#0000b2"/><stop offset=".174" stop-color="#0000c8"/><stop offset=".36" stop-color="#0000a2"/><stop offset=".755" stop-color="#0000a3"/><stop offset=".769" stop-color="#0000c0"/><stop offset=".779" stop-color="#0000f8"/><stop offset=".788" stop-color="#0025ff"/><stop offset=".793" stop-color="#001bff"/><stop offset=".798" stop-color="#0000fc"/><stop offset=".807" stop-color="#0000b9"/><stop offset=".817" stop-color="#0000a3"/><stop offset=".831" stop-color="#0000b5"/><stop offset=".84" stop-color="#0000a3"/><stop offset=".855" stop-color="#0000c8"/><stop offset=".864" stop-color="#0000a8"/><stop offset=".869" stop-color="#0000e1"/><stop offset=".874" stop-color="#0000f9"/><stop offset=".879" stop-color="#0000b0"/><stop offset=".883" stop-color="#0023ff"/><stop offset=".888" stop-color="#e9ff15"/><stop offset=".893" stop-color="#7f0000"/><stop offset=".898" stop-color="#e30000"/><stop offset=".902" stop-color="#00e7ff"/><stop offset=".907" stop-color="#0000a1"/><stop offset=".912" stop-color="#0000fc"/><stop offset=".917" stop-color="#0000b5"/><stop offset=".926" stop-color="#0000d1"/><stop offset=".94" stop-color="#0000d2"/><stop offset=".945" stop-color="#0000e5"/><stop offset=".955" stop-color="#0000d2"/><stop offset=".998" stop-color="#0000d2"/></linearGradient><linearGradient id="g107" x2="0" y2="1"><stop offset=".002" stop-color="#0000ae"/><stop offset=".188" stop-color="#0000c8"/><stop offset=".369" stop-color="#0000a2"/><stop offset=".755" stop-color="#0000a3"/><stop offset=".769" stop-color="#0000bc"/><stop offset=".779" stop-color="#0000fa"/><stop offset=".788" stop-color="#003bff"/><stop offset=".793" stop-color="#0039ff"/><stop offset=".802" stop-color="#0000ec"/><stop offset=".812" stop-color="#0000ae"/><stop offset=".821" stop-color="#0000a2"/><stop offset=".836" stop-color="#0000b5"/><stop offset=".845" stop-color="#0000a2"/><stop offset=".855" stop-color="#0000c8"/><stop offset=".864" stop-color="#0000a1"/><stop offset=".874" stop-color="#0000fb"/><stop offset=".879" stop-color="#0000ca"/><stop offset=".883" stop-color="#0000dc"/><stop offset=".888" stop-color="#6dff91"/><stop offset=".893" stop-color="#a00"/><stop offset=".898" stop-color="#9c0000"/><stop offset=".902" stop-color="#4affb4"/><stop offset=".907" stop-color="#00a"/><stop offset=".912" stop-color="#0000f9"/><stop offset=".917" stop-color="#0000b8"/><stop offset=".926" stop-color="#0000d1"/><stop offset=".94" stop-color="#0000d2"/><stop offset=".945" stop-color="#0000e5"/><stop offset=".955" stop-color="#0000d2"/><stop offset=".998" stop-color="#0000d2"/></linearGradient><linearGradient id="g108" x2="0" y2="1"><stop offset=".002" stop-color="#0000ab"/><stop offset=".202" stop-color="#0000c8"/><stop offset=".379" stop-color="#0000a2"/><stop offset=".755" stop-color="#0000a3"/><stop offset=".769" stop-color="#0000b9"/><stop offset=".779" stop-color="#0000fe"/><stop offset=".788" stop-color="#0059ff"/><stop offset=".793" stop-color="#0063ff"/><stop offset=".798" stop-color="#0046ff"/><stop offset=".802" stop-color="#0010ff"/><stop offset=".807" stop-color="#0000d9"/><stop offset=".817" stop-color="#0000a7"/><stop offset=".836" stop-color="#0000b5"/><stop offset=".845" stop-color="#0000a3"/><stop offset=".86" stop-color="#0000c5"/><stop offset=".864" stop-color="#0000a8"/><stop offset=".869" stop-color="#0000b7"/><stop offset=".874" stop-color="#0000f3"/><stop offset=".879" stop-color="#0000e2"/><stop offset=".883" stop-color="#0000b0"/><stop offset=".888" stop-color="#00f6ff"/><stop offset=".893" stop-color="#fa0000"/><stop offset=".898" stop-color="#7f0000"/><stop offset=".902" stop-color="#b1ff4d"/><stop offset=".907" stop-color="#0000c4"/><stop offset=".912" stop-color="#0000f2"/><stop offset=".917" stop-color="#0000c3"/><stop offset=".94" stop-color="#0000d2"/><stop offset=".945" stop-color="#0000e5"/><stop offset=".955" stop-color="#0000d2"/><stop offset=".998" stop-color="#0000d2"/></linearGradient><linearGradient id="g109" x2="0" y2="1"><stop offset=".002" stop-color="#0000a8"/><stop offset=".221" stop-color="#0000c8"/><stop offset=".388" stop-color="#0000a2"/><stop offset=".76" stop-color="#0000a3"/><stop offset=".769" stop-color="#0000b5"/><stop offset=".779" stop-color="#0000f9"/><stop offset=".788" stop-color="#006cff"/><stop offset=".793" stop-color="#08f"/><stop offset=".798" stop-color="#0073ff"/><stop offset=".807" stop-color="#0000f2"/><stop offset=".812" stop-color="#0000c2"/><stop offset=".817" stop-color="#00a"/><stop offset=".826" stop-color="#0000a2"/><stop offset=".84" stop-color="#0000b5"/><stop offset=".85" stop-color="#0000a3"/><stop offset=".86" stop-color="#0000c9"/><stop offset=".869" stop-color="#0000a8"/><stop offset=".874" stop-color="#0000e4"/><stop offset=".879" stop-color="#0000f4"/><stop offset=".883" stop-color="#0000a2"/><stop offset=".888" stop-color="#008bff"/><stop offset=".893" stop-color="#ff5c00"/><stop offset=".898" stop-color="#7f0000"/><stop offset=".902" stop-color="#ffe500"/><stop offset=".907" stop-color="#0000ec"/><stop offset=".921" stop-color="#0000c1"/><stop offset=".94" stop-color="#0000d2"/><stop offset=".945" stop-color="#0000e5"/><stop offset=".955" stop-color="#0000d2"/><stop offset=".974" stop-color="#0000d2"/><stop offset=".983" stop-color="#0000e2"/><stop offset=".988" stop-color="#0000d2"/><stop offset=".998" stop-color="#0000d2"/></linearGradient><linearGradient id="g110" x2="0" y2="1"><stop offset=".002" stop-color="#0000a6"/><stop offset=".236" stop-color="#0000c8"/><stop offset=".393" stop-color="#0000a2"/><stop offset=".76" stop-color="#0000a3"/><stop offset=".769" stop-color="#0000af"/><stop offset=".779" stop-color="#0000ea"/><stop offset=".783" stop-color="#0026ff"/><stop offset=".788" stop-color="#0067ff"/><stop offset=".793" stop-color="#0093ff"/><stop offset=".798" stop-color="#008dff"/><stop offset=".807" stop-color="#000bff"/><stop offset=".812" stop-color="#0000ce"/><stop offset=".817" stop-color="#0000af"/><stop offset=".821" stop-color="#0000a6"/><stop offset=".831" stop-color="#0000a3"/><stop offset=".84" stop-color="#0000b5"/><stop offset=".85" stop-color="#0000a2"/><stop offset=".86" stop-color="#0000c6"/><stop offset=".864" stop-color="#0000bf"/><stop offset=".869" stop-color="#0000a1"/><stop offset=".879" stop-color="#0000fb"/><stop offset=".883" stop-color="#0000b4"/><stop offset=".888" stop-color="#0031ff"/><stop offset=".893" stop-color="#ffca00"/><stop offset=".898" stop-color="#7f0000"/><stop offset=".902" stop-color="#ff8200"/><stop offset=".907" stop-color="#0023ff"/><stop offset=".912" stop-color="#0000d8"/><stop offset=".917" stop-color="#0000db"/><stop offset=".921" stop-color="#0000bf"/><stop offset=".926" stop-color="#0000cf"/><stop offset=".94" stop-color="#0000d2"/><stop offset=".945" stop-color="#0000e5"/><stop offset=".95" stop-color="#0000d4"/><stop offset=".974" stop-color="#0000d2"/><stop offset=".983" stop-color="#0000e8"/><stop offset=".988" stop-color="#0000d2"/><stop offset=".998" stop-color="#0000d2"/></linearGradient><linearGradient id="g111" x2="0" y2="1"><stop offset=".002" stop-color="#0000a4"/><stop offset=".25" stop-color="#0000c8"/><stop offset=".402" stop-color="#0000a2"/><stop offset=".75" stop-color="#0000a2"/><stop offset=".769" stop-color="#0000a9"/><stop offset=".779" stop-color="#0000d5"/><stop offset=".783" stop-color="#0008ff"/><stop offset=".793" stop-color="#007dff"/><stop offset=".798" stop-color="#0089ff"/><stop offset=".802" stop-color="#0060ff"/><stop offset=".807" stop-color="#0019ff"/><stop offset=".812" stop-color="#0000d7"/><stop offset=".817" stop-color="#0000b3"/><stop offset=".821" stop-color="#0000a6"/><stop offset=".845" stop-color="#0000b5"/><stop offset=".855" stop-color="#0000a5"/><stop offset=".864" stop-color="#0000c6"/><stop offset=".869" stop-color="#0000a8"/><stop offset=".874" stop-color="#0000bc"/><stop offset=".879" stop-color="#0000f9"/><stop offset=".883" stop-color="#0000ce"/><stop offset=".888" stop-color="#0000ea"/><stop offset=".893" stop-color="#beff40"/><stop offset=".898" stop-color="#7f0000"/><stop offset=".902" stop-color="#ff2600"/><stop offset=".907" stop-color="#0065ff"/><stop offset=".912" stop-color="#0000c7"/><stop offset=".917" stop-color="#0000e5"/><stop offset=".921" stop-color="#0000be"/><stop offset=".926" stop-color="#0000ce"/><stop offset=".94" stop-color="#0000d2"/><stop offset=".945" stop-color="#0000e5"/><stop offset=".95" stop-color="#0000d4"/><stop offset=".974" stop-color="#0000d2"/><stop offset=".983" stop-color="#0000ec"/><stop offset=".988" stop-color="#0000d2"/><stop offset=".998" stop-color="#0000d2"/></linearGradient><linearGradient id="g112" x2="0" y2="1"><stop offset=".002" stop-color="#0000af"/><stop offset=".06" stop-color="#0000a6"/><stop offset=".26" stop-color="#0000c8"/><stop offset=".412" stop-color="#0000a2"/><stop offset=".755" stop-color="#0000a2"/><stop offset=".774" stop-color="#0000ae"/><stop offset=".783" stop-color="#0000e6"/><stop offset=".788" stop-color="#001cff"/><stop offset=".793" stop-color="#0052ff"/><stop offset=".798" stop-color="#006cff"/><stop offset=".802" stop-color="#0056ff"/><stop offset=".807" stop-color="#001bff"/><stop offset=".812" stop-color="#00d"/><stop offset=".817" stop-color="#0000b6"/><stop offset=".821" stop-color="#0000a6"/><stop offset=".836" stop-color="#0000a3"/><stop offset=".845" stop-color="#0000b5"/><stop offset=".855" stop-color="#0000a1"/><stop offset=".864" stop-color="#0000c9"/><stop offset=".874" stop-color="#0000ab"/><stop offset=".879" stop-color="#0000ed"/><stop offset=".883" stop-color="#0000e5"/><stop offset=".888" stop-color="#0000b9"/><stop offset=".893" stop-color="#49ffb5"/><stop offset=".898" stop-color="#9c0000"/><stop offset=".902" stop-color="#d50000"/><stop offset=".907" stop-color="#00b4ff"/><stop offset=".912" stop-color="#0000b6"/><stop offset=".917" stop-color="#0000ef"/><stop offset=".921" stop-color="#0000bc"/><stop offset=".926" stop-color="#0000cd"/><stop offset=".94" stop-color="#0000d2"/><stop offset=".945" stop-color="#0000e5"/><stop offset=".95" stop-color="#0000d4"/><stop offset=".974" stop-color="#0000d2"/><stop offset=".983" stop-color="#00e"/><stop offset=".988" stop-color="#0000d2"/><stop offset=".998" stop-color="#0000d2"/></linearGradient><linearGradient id="g113" x2="0" y2="1"><stop offset=".002" stop-color="#0000d8"/><stop offset=".126" stop-color="#0000ad"/><stop offset=".274" stop-color="#0000c8"/><stop offset=".417" stop-color="#0000a2"/><stop offset=".76" stop-color="#0000a2"/><stop offset=".779" stop-color="#0000b3"/><stop offset=".788" stop-color="#0000f5"/><stop offset=".798" stop-color="#0047ff"/><stop offset=".802" stop-color="#0042ff"/><stop offset=".807" stop-color="#0016ff"/><stop offset=".812" stop-color="#0000df"/><stop offset=".817" stop-color="#0000b8"/><stop offset=".821" stop-color="#0000a7"/><stop offset=".836" stop-color="#0000a3"/><stop offset=".85" stop-color="#0000b4"/><stop offset=".855" stop-color="#0000a5"/><stop offset=".864" stop-color="#0000c5"/><stop offset=".869" stop-color="#0000be"/><stop offset=".874" stop-color="#0000a1"/><stop offset=".879" stop-color="#0000dc"/><stop offset=".883" stop-color="#0000f5"/><stop offset=".888" stop-color="#0000a1"/><stop offset=".893" stop-color="#00d8ff"/><stop offset=".898" stop-color="#e40000"/><stop offset=".902" stop-color="#940000"/><stop offset=".907" stop-color="#0dfff1"/><stop offset=".912" stop-color="#0000a7"/><stop offset=".917" stop-color="#0000f6"/><stop offset=".921" stop-color="#0000ba"/><stop offset=".926" stop-color="#00c"/><stop offset=".94" stop-color="#0000d2"/><stop offset=".945" stop-color="#0000e5"/><stop offset=".95" stop-color="#0000d4"/><stop offset=".974" stop-color="#0000d2"/><stop offset=".983" stop-color="#0000ef"/><stop offset=".988" stop-color="#0000d2"/><stop offset=".998" stop-color="#0000d2"/></linearGradient><linearGradient id="g114" x2="0" y2="1"><stop offset=".002" stop-color="#00e"/><stop offset=".083" stop-color="#0000eb"/><stop offset=".193" stop-color="#0000b7"/><stop offset=".288" stop-color="#0000c8"/><stop offset=".426" stop-color="#0000a2"/><stop offset=".764" stop-color="#0000a2"/><stop offset=".779" stop-color="#0000ac"/><stop offset=".788" stop-color="#0000dc"/><stop offset=".793" stop-color="#0008ff"/><stop offset=".798" stop-color="#002dff"/><stop offset=".802" stop-color="#0035ff"/><stop offset=".807" stop-color="#0017ff"/><stop offset=".812" stop-color="#0000e4"/><stop offset=".821" stop-color="#0000a8"/><stop offset=".84" stop-color="#0000a3"/><stop offset=".85" stop-color="#0000b5"/><stop offset=".86" stop-color="#0000a3"/><stop offset=".869" stop-color="#0000c6"/><stop offset=".874" stop-color="#0000a5"/><stop offset=".883" stop-color="#0000fb"/><stop offset=".888" stop-color="#0000ad"/><stop offset=".893" stop-color="#0074ff"/><stop offset=".898" stop-color="#ff4000"/><stop offset=".902" stop-color="#7f0000"/><stop offset=".907" stop-color="#6eff90"/><stop offset=".912" stop-color="#0000a2"/><stop offset=".917" stop-color="#0000fb"/><stop offset=".921" stop-color="#0000b9"/><stop offset=".931" stop-color="#0000d2"/><stop offset=".94" stop-color="#0000d2"/><stop offset=".945" stop-color="#0000e5"/><stop offset=".95" stop-color="#0000d4"/><stop offset=".974" stop-color="#0000d2"/><stop offset=".983" stop-color="#0000ed"/><stop offset=".988" stop-color="#0000d2"/><stop offset=".998" stop-color="#0000d2"/></linearGradient><linearGradient id="g115" x2="0" y2="1"><stop offset=".002" stop-color="#0000c4"/><stop offset=".102" stop-color="#0000f2"/><stop offset=".155" stop-color="#0000fa"/><stop offset=".255" stop-color="#0000c4"/><stop offset=".307" stop-color="#0000c7"/><stop offset=".421" stop-color="#0000a3"/><stop offset=".769" stop-color="#0000a2"/><stop offset=".783" stop-color="#0000b5"/><stop offset=".793" stop-color="#0000f9"/><stop offset=".802" stop-color="#003cff"/><stop offset=".807" stop-color="#0027ff"/><stop offset=".812" stop-color="#0000f5"/><stop offset=".817" stop-color="#0000c6"/><stop offset=".821" stop-color="#0000ac"/><stop offset=".84" stop-color="#0000a3"/><stop offset=".855" stop-color="#0000b2"/><stop offset=".86" stop-color="#0000a2"/><stop offset=".869" stop-color="#0000c9"/><stop offset=".874" stop-color="#0000b0"/><stop offset=".879" stop-color="#0000b5"/><stop offset=".883" stop-color="#0000f8"/><stop offset=".888" stop-color="#0000c5"/><stop offset=".893" stop-color="#001fff"/><stop offset=".898" stop-color="#ffa900"/><stop offset=".902" stop-color="#7f0000"/><stop offset=".907" stop-color="#d2ff2c"/><stop offset=".912" stop-color="#0000b3"/><stop offset=".917" stop-color="#0000fb"/><stop offset=".921" stop-color="#0000b7"/><stop offset=".945" stop-color="#0000e5"/><stop offset=".95" stop-color="#0000d4"/><stop offset=".974" stop-color="#0000d2"/><stop offset=".983" stop-color="#0000e9"/><stop offset=".988" stop-color="#0000d2"/><stop offset=".998" stop-color="#0000d2"/></linearGradient><linearGradient id="g116" x2="0" y2="1"><stop offset=".002" stop-color="#0000a5"/><stop offset=".093" stop-color="#0000ba"/><stop offset=".207" stop-color="#0000fd"/><stop offset=".25" stop-color="#00f"/><stop offset=".321" stop-color="#0000c7"/><stop offset=".431" stop-color="#0000a3"/><stop offset=".774" stop-color="#0000a2"/><stop offset=".783" stop-color="#0000b0"/><stop offset=".793" stop-color="#0000f4"/><stop offset=".802" stop-color="#0053ff"/><stop offset=".807" stop-color="#004bff"/><stop offset=".812" stop-color="#0016ff"/><stop offset=".817" stop-color="#0000d9"/><stop offset=".821" stop-color="#0000b3"/><stop offset=".826" stop-color="#0000a4"/><stop offset=".845" stop-color="#0000a4"/><stop offset=".855" stop-color="#0000b5"/><stop offset=".864" stop-color="#00a"/><stop offset=".869" stop-color="#0000c6"/><stop offset=".879" stop-color="#0000a7"/><stop offset=".883" stop-color="#0000ed"/><stop offset=".893" stop-color="#00d"/><stop offset=".898" stop-color="#e2ff1c"/><stop offset=".902" stop-color="#7f0000"/><stop offset=".907" stop-color="#ffc600"/><stop offset=".912" stop-color="#0000d2"/><stop offset=".917" stop-color="#0000f8"/><stop offset=".921" stop-color="#0000b5"/><stop offset=".926" stop-color="#0000c9"/><stop offset=".94" stop-color="#0000d2"/><stop offset=".945" stop-color="#0000e5"/><stop offset=".955" stop-color="#0000d2"/><stop offset=".974" stop-color="#0000d2"/><stop offset=".983" stop-color="#0000e4"/><stop offset=".988" stop-color="#0000d2"/><stop offset=".998" stop-color="#0000d2"/></linearGradient><linearGradient id="g117" x2="0" y2="1"><stop offset=".002" stop-color="#0000a2"/><stop offset=".16" stop-color="#0000ae"/><stop offset=".279" stop-color="#00f"/><stop offset=".331" stop-color="#0000fe"/><stop offset=".402" stop-color="#0000b4"/><stop offset=".44" stop-color="#0000a3"/><stop offset=".774" stop-color="#0000a2"/><stop offset=".783" stop-color="#0000ad"/><stop offset=".788" stop-color="#0000c3"/><stop offset=".793" stop-color="#0000f0"/><stop offset=".802" stop-color="#006dff"/><stop offset=".807" stop-color="#0075ff"/><stop offset=".817" stop-color="#0000f3"/><stop offset=".821" stop-color="#0000bd"/><stop offset=".826" stop-color="#0000a7"/><stop offset=".845" stop-color="#0000a2"/><stop offset=".855" stop-color="#0000b4"/><stop offset=".864" stop-color="#0000a2"/><stop offset=".869" stop-color="#0000bf"/><stop offset=".874" stop-color="#0000c4"/><stop offset=".879" stop-color="#0000a1"/><stop offset=".883" stop-color="#0000db"/><stop offset=".888" stop-color="#0000f0"/><stop offset=".893" stop-color="#0000b2"/><stop offset=".898" stop-color="#6dff91"/><stop offset=".902" stop-color="#7f0000"/><stop offset=".907" stop-color="#ff6400"/><stop offset=".912" stop-color="#00f"/><stop offset=".917" stop-color="#0000f0"/><stop offset=".921" stop-color="#0000b5"/><stop offset=".945" stop-color="#0000e5"/><stop offset=".955" stop-color="#0000d2"/><stop offset=".983" stop-color="#00d"/><stop offset=".998" stop-color="#0000d2"/></linearGradient><linearGradient id="g118" x2="0" y2="1"><stop offset=".002" stop-color="#0000a2"/><stop offset=".226" stop-color="#0000ae"/><stop offset=".274" stop-color="#0000bf"/><stop offset=".34" stop-color="#0002ff"/><stop offset=".364" stop-color="#000eff"/><stop offset=".393" stop-color="#0002ff"/><stop offset=".45" stop-color="#0000b5"/><stop offset=".483" stop-color="#0000a3"/><stop offset=".774" stop-color="#0000a2"/><stop offset=".783" stop-color="#0000a9"/><stop offset=".788" stop-color="#0000bc"/><stop offset=".793" stop-color="#0000e7"/><stop offset=".798" stop-color="#002dff"/><stop offset=".802" stop-color="#07f"/><stop offset=".807" stop-color="#0093ff"/><stop offset=".812" stop-color="#0065ff"/><stop offset=".817" stop-color="#000fff"/><stop offset=".821" stop-color="#0000c9"/><stop offset=".826" stop-color="#00a"/><stop offset=".831" stop-color="#0000a3"/><stop offset=".86" stop-color="#0000b4"/><stop offset=".864" stop-color="#0000a2"/><stop offset=".874" stop-color="#0000c8"/><stop offset=".879" stop-color="#0000a9"/><stop offset=".883" stop-color="#0000c7"/><stop offset=".888" stop-color="#0000fa"/><stop offset=".893" stop-color="#0000a1"/><stop offset=".898" stop-color="#00faff"/><stop offset=".902" stop-color="#a00000"/><stop offset=".907" stop-color="#ff0b00"/><stop offset=".912" stop-color="#003bff"/><stop offset=".917" stop-color="#0000e4"/><stop offset=".921" stop-color="#0000c0"/><stop offset=".94" stop-color="#0000d2"/><stop offset=".945" stop-color="#0000e5"/><stop offset=".955" stop-color="#0000d2"/><stop offset=".998" stop-color="#0000d2"/></linearGradient><linearGradient id="g119" x2="0" y2="1"><stop offset=".002" stop-color="#0000a2"/><stop offset=".245" stop-color="#0000af"/><stop offset=".34" stop-color="#0000c9"/><stop offset=".383" stop-color="#0002ff"/><stop offset=".412" stop-color="#0018ff"/><stop offset=".44" stop-color="#0001ff"/><stop offset=".483" stop-color="#0000b8"/><stop offset=".521" stop-color="#0000a2"/><stop offset=".779" stop-color="#0000a2"/><stop offset=".788" stop-color="#0000b4"/><stop offset=".793" stop-color="#0000d7"/><stop offset=".798" stop-color="#0018ff"/><stop offset=".802" stop-color="#0067ff"/><stop offset=".807" stop-color="#0096ff"/><stop offset=".812" stop-color="#0079ff"/><stop offset=".817" stop-color="#0025ff"/><stop offset=".821" stop-color="#0000d5"/><stop offset=".826" stop-color="#0000ae"/><stop offset=".831" stop-color="#0000a3"/><stop offset=".85" stop-color="#0000a2"/><stop offset=".86" stop-color="#0000b5"/><stop offset=".864" stop-color="#0000a8"/><stop offset=".869" stop-color="#0000ab"/><stop offset=".874" stop-color="#0000c7"/><stop offset=".883" stop-color="#0000b5"/><stop offset=".888" stop-color="#0000fa"/><stop offset=".893" stop-color="#0000b2"/><stop offset=".898" stop-color="#0092ff"/><stop offset=".902" stop-color="#e90000"/><stop offset=".907" stop-color="#be0000"/><stop offset=".912" stop-color="#0083ff"/><stop offset=".917" stop-color="#0000d5"/><stop offset=".926" stop-color="#0000c4"/><stop offset=".94" stop-color="#0000d2"/><stop offset=".945" stop-color="#0000e5"/><stop offset=".955" stop-color="#0000d2"/><stop offset=".998" stop-color="#0000d2"/></linearGradient><linearGradient id="g120" x2="0" y2="1"><stop offset=".002" stop-color="#0000a2"/><stop offset=".202" stop-color="#0000a4"/><stop offset=".34" stop-color="#0000c8"/><stop offset=".379" stop-color="#0000c5"/><stop offset=".417" stop-color="#0002ff"/><stop offset=".445" stop-color="#0020ff"/><stop offset=".474" stop-color="#0003ff"/><stop offset=".512" stop-color="#0000b7"/><stop offset=".54" stop-color="#0000a3"/><stop offset=".779" stop-color="#0000a2"/><stop offset=".788" stop-color="#0000ac"/><stop offset=".793" stop-color="#0000c5"/><stop offset=".798" stop-color="#0000f8"/><stop offset=".807" stop-color="#007bff"/><stop offset=".812" stop-color="#0074ff"/><stop offset=".817" stop-color="#002dff"/><stop offset=".821" stop-color="#00d"/><stop offset=".826" stop-color="#0000b1"/><stop offset=".831" stop-color="#0000a3"/><stop offset=".85" stop-color="#0000a4"/><stop offset=".86" stop-color="#0000b4"/><stop offset=".869" stop-color="#0000a3"/><stop offset=".874" stop-color="#0000c2"/><stop offset=".879" stop-color="#0000bf"/><stop offset=".883" stop-color="#0000a6"/><stop offset=".888" stop-color="#0000f2"/><stop offset=".893" stop-color="#0000cb"/><stop offset=".898" stop-color="#0037ff"/><stop offset=".902" stop-color="#ff4700"/><stop offset=".907" stop-color="#830000"/><stop offset=".912" stop-color="#00d7ff"/><stop offset=".917" stop-color="#0000c3"/><stop offset=".921" stop-color="#0000d8"/><stop offset=".926" stop-color="#0000c3"/><stop offset=".94" stop-color="#0000d2"/><stop offset=".945" stop-color="#0000e5"/><stop offset=".955" stop-color="#0000d2"/><stop offset=".998" stop-color="#0000d2"/></linearGradient><linearGradient id="g121" x2="0" y2="1"><stop offset=".002" stop-color="#0000a2"/><stop offset=".226" stop-color="#0000a5"/><stop offset=".35" stop-color="#0000c8"/><stop offset=".407" stop-color="#00b"/><stop offset=".45" stop-color="#0005ff"/><stop offset=".479" stop-color="#0027ff"/><stop offset=".502" stop-color="#0008ff"/><stop offset=".54" stop-color="#0000b3"/><stop offset=".569" stop-color="#0000a2"/><stop offset=".783" stop-color="#0000a2"/><stop offset=".793" stop-color="#0000b6"/><stop offset=".798" stop-color="#0000da"/><stop offset=".802" stop-color="#0017ff"/><stop offset=".807" stop-color="#0051ff"/><stop offset=".812" stop-color="#005cff"/><stop offset=".817" stop-color="#0028ff"/><stop offset=".821" stop-color="#0000e0"/><stop offset=".826" stop-color="#0000b3"/><stop offset=".836" stop-color="#0000a3"/><stop offset=".855" stop-color="#0000a3"/><stop offset=".864" stop-color="#0000b4"/><stop offset=".869" stop-color="#0000a2"/><stop offset=".879" stop-color="#0000c6"/><stop offset=".883" stop-color="#0000a1"/><stop offset=".888" stop-color="#0000e2"/><stop offset=".898" stop-color="#0000ef"/><stop offset=".902" stop-color="#ffb200"/><stop offset=".907" stop-color="#7f0000"/><stop offset=".912" stop-color="#36ffc8"/><stop offset=".917" stop-color="#0000b1"/><stop offset=".921" stop-color="#0000e3"/><stop offset=".926" stop-color="#0000c1"/><stop offset=".945" stop-color="#0000e5"/><stop offset=".955" stop-color="#0000d2"/><stop offset=".998" stop-color="#0000d2"/></linearGradient><linearGradient id="g122" x2="0" y2="1"><stop offset=".002" stop-color="#0000a2"/><stop offset=".226" stop-color="#0000a3"/><stop offset=".364" stop-color="#0000c8"/><stop offset=".431" stop-color="#0000b1"/><stop offset=".45" stop-color="#0000c6"/><stop offset=".479" stop-color="#0004ff"/><stop offset=".507" stop-color="#002dff"/><stop offset=".531" stop-color="#0005ff"/><stop offset=".56" stop-color="#0000b8"/><stop offset=".588" stop-color="#0000a2"/><stop offset=".788" stop-color="#0000a4"/><stop offset=".798" stop-color="#0000c5"/><stop offset=".802" stop-color="#0000f3"/><stop offset=".807" stop-color="#002aff"/><stop offset=".812" stop-color="#0041ff"/><stop offset=".817" stop-color="#0020ff"/><stop offset=".821" stop-color="#0000e2"/><stop offset=".826" stop-color="#0000b6"/><stop offset=".831" stop-color="#0000a5"/><stop offset=".855" stop-color="#0000a3"/><stop offset=".864" stop-color="#0000b5"/><stop offset=".869" stop-color="#0000a7"/><stop offset=".879" stop-color="#0000c9"/><stop offset=".883" stop-color="#0000a9"/><stop offset=".893" stop-color="#0000f3"/><stop offset=".898" stop-color="#0000bc"/><stop offset=".902" stop-color="#d7ff27"/><stop offset=".907" stop-color="#7f0000"/><stop offset=".912" stop-color="#9bff63"/><stop offset=".917" stop-color="#0000a3"/><stop offset=".921" stop-color="#00e"/><stop offset=".926" stop-color="#0000c0"/><stop offset=".945" stop-color="#0000e5"/><stop offset=".955" stop-color="#0000d2"/><stop offset=".998" stop-color="#0000d2"/></linearGradient><linearGradient id="g123" x2="0" y2="1"><stop offset=".002" stop-color="#0000a2"/><stop offset=".24" stop-color="#0000a3"/><stop offset=".374" stop-color="#0000c8"/><stop offset=".455" stop-color="#00a"/><stop offset=".479" stop-color="#0000c3"/><stop offset=".507" stop-color="#0009ff"/><stop offset=".531" stop-color="#03f"/><stop offset=".54" stop-color="#002cff"/><stop offset=".555" stop-color="#0006ff"/><stop offset=".583" stop-color="#0000b3"/><stop offset=".607" stop-color="#0000a2"/><stop offset=".788" stop-color="#0000a2"/><stop offset=".798" stop-color="#0000b9"/><stop offset=".807" stop-color="#0013ff"/><stop offset=".812" stop-color="#0035ff"/><stop offset=".817" stop-color="#0023ff"/><stop offset=".821" stop-color="#0000ea"/><stop offset=".826" stop-color="#0000ba"/><stop offset=".831" stop-color="#0000a6"/><stop offset=".86" stop-color="#0000a6"/><stop offset=".864" stop-color="#0000b3"/><stop offset=".874" stop-color="#0000a5"/><stop offset=".879" stop-color="#0000c6"/><stop offset=".883" stop-color="#0000b4"/><stop offset=".888" stop-color="#00b"/><stop offset=".893" stop-color="#0000fb"/><stop offset=".898" stop-color="#0000a2"/><stop offset=".902" stop-color="#61ff9d"/><stop offset=".907" stop-color="#7f0000"/><stop offset=".912" stop-color="#fffa00"/><stop offset=".917" stop-color="#0000a6"/><stop offset=".921" stop-color="#0000f6"/><stop offset=".926" stop-color="#0000be"/><stop offset=".945" stop-color="#0000e5"/><stop offset=".955" stop-color="#0000d2"/><stop offset=".998" stop-color="#0000d2"/></linearGradient><linearGradient id="g124" x2="0" y2="1"><stop offset=".002" stop-color="#0000a2"/><stop offset=".245" stop-color="#0000a2"/><stop offset=".383" stop-color="#0000c8"/><stop offset=".479" stop-color="#0000a6"/><stop offset=".502" stop-color="#00b"/><stop offset=".531" stop-color="#0006ff"/><stop offset=".545" stop-color="#002dff"/><stop offset=".555" stop-color="#0036ff"/><stop offset=".564" stop-color="#002bff"/><stop offset=".579" stop-color="#0000fd"/><stop offset=".602" stop-color="#0000b3"/><stop offset=".626" stop-color="#0000a2"/><stop offset=".788" stop-color="#0000a2"/><stop offset=".798" stop-color="#0000b3"/><stop offset=".802" stop-color="#0000d5"/><stop offset=".807" stop-color="#000dff"/><stop offset=".812" stop-color="#003dff"/><stop offset=".817" stop-color="#0039ff"/><stop offset=".821" stop-color="#0001ff"/><stop offset=".826" stop-color="#0000c5"/><stop offset=".831" stop-color="#0000a9"/><stop offset=".86" stop-color="#0000a3"/><stop offset=".869" stop-color="#0000b3"/><stop offset=".874" stop-color="#0000a1"/><stop offset=".879" stop-color="#0000bf"/><stop offset=".888" stop-color="#0000ab"/><stop offset=".893" stop-color="#0000f9"/><stop offset=".898" stop-color="#0000ab"/><stop offset=".902" stop-color="#00edff"/><stop offset=".907" stop-color="#7f0000"/><stop offset=".912" stop-color="#ff9300"/><stop offset=".917" stop-color="#0000bd"/><stop offset=".921" stop-color="#0000fa"/><stop offset=".926" stop-color="#0000bc"/><stop offset=".945" stop-color="#0000e5"/><stop offset=".955" stop-color="#0000d2"/><stop offset=".998" stop-color="#0000d2"/></linearGradient><linearGradient id="g125" x2="0" y2="1"><stop offset=".002" stop-color="#0000a2"/><stop offset=".26" stop-color="#0000a2"/><stop offset=".393" stop-color="#0000c8"/><stop offset=".498" stop-color="#0000a3"/><stop offset=".526" stop-color="#0000b7"/><stop offset=".555" stop-color="#0007ff"/><stop offset=".569" stop-color="#002fff"/><stop offset=".579" stop-color="#0035ff"/><stop offset=".598" stop-color="#0001ff"/><stop offset=".617" stop-color="#00b"/><stop offset=".64" stop-color="#0000a2"/><stop offset=".788" stop-color="#0000a2"/><stop offset=".798" stop-color="#0000af"/><stop offset=".802" stop-color="#0000cf"/><stop offset=".807" stop-color="#000dff"/><stop offset=".812" stop-color="#0050ff"/><stop offset=".817" stop-color="#005fff"/><stop offset=".821" stop-color="#0026ff"/><stop offset=".826" stop-color="#0000d9"/><stop offset=".831" stop-color="#0000ae"/><stop offset=".836" stop-color="#0000a3"/><stop offset=".86" stop-color="#0000a3"/><stop offset=".869" stop-color="#0000b5"/><stop offset=".874" stop-color="#0000a5"/><stop offset=".883" stop-color="#0000c6"/><stop offset=".888" stop-color="#0000a1"/><stop offset=".893" stop-color="#0000ef"/><stop offset=".898" stop-color="#0000c4"/><stop offset=".902" stop-color="#0084ff"/><stop offset=".907" stop-color="#bc0000"/><stop offset=".912" stop-color="#f30"/><stop offset=".917" stop-color="#0000e4"/><stop offset=".921" stop-color="#0000fb"/><stop offset=".926" stop-color="#0000ba"/><stop offset=".945" stop-color="#0000e5"/><stop offset=".955" stop-color="#0000d2"/><stop offset=".998" stop-color="#0000d2"/></linearGradient><linearGradient id="g126" x2="0" y2="1"><stop offset=".002" stop-color="#0000a2"/><stop offset=".274" stop-color="#0000a2"/><stop offset=".402" stop-color="#0000c8"/><stop offset=".521" stop-color="#0000a2"/><stop offset=".55" stop-color="#0000b6"/><stop offset=".574" stop-color="#0000fa"/><stop offset=".579" stop-color="#000dff"/><stop offset=".598" stop-color="#0035ff"/><stop offset=".617" stop-color="#0000fd"/><stop offset=".636" stop-color="#0000b6"/><stop offset=".655" stop-color="#0000a2"/><stop offset=".793" stop-color="#0000a3"/><stop offset=".802" stop-color="#0000c7"/><stop offset=".807" stop-color="#0007ff"/><stop offset=".812" stop-color="#005bff"/><stop offset=".817" stop-color="#0084ff"/><stop offset=".821" stop-color="#0052ff"/><stop offset=".826" stop-color="#0000f4"/><stop offset=".831" stop-color="#0000b7"/><stop offset=".836" stop-color="#0000a4"/><stop offset=".864" stop-color="#0000a5"/><stop offset=".869" stop-color="#0000b4"/><stop offset=".879" stop-color="#0000ab"/><stop offset=".883" stop-color="#0000c9"/><stop offset=".888" stop-color="#0000a5"/><stop offset=".893" stop-color="#00d"/><stop offset=".898" stop-color="#00d"/><stop offset=".902" stop-color="#002bff"/><stop offset=".907" stop-color="#ff1200"/><stop offset=".912" stop-color="#dc0000"/><stop offset=".917" stop-color="#001bff"/><stop offset=".921" stop-color="#0000f7"/><stop offset=".926" stop-color="#0000b8"/><stop offset=".945" stop-color="#0000e5"/><stop offset=".955" stop-color="#0000d2"/><stop offset=".998" stop-color="#0000d2"/></linearGradient><linearGradient id="g127" x2="0" y2="1"><stop offset=".002" stop-color="#0000a2"/><stop offset=".288" stop-color="#0000a2"/><stop offset=".412" stop-color="#0000c8"/><stop offset=".498" stop-color="#0000a4"/><stop offset=".545" stop-color="#0000a2"/><stop offset=".574" stop-color="#0000b8"/><stop offset=".598" stop-color="#0008ff"/><stop offset=".607" stop-color="#002aff"/><stop offset=".617" stop-color="#0035ff"/><stop offset=".636" stop-color="#0000f2"/><stop offset=".65" stop-color="#0000b9"/><stop offset=".664" stop-color="#0000a4"/><stop offset=".793" stop-color="#0000a2"/><stop offset=".802" stop-color="#0000bd"/><stop offset=".807" stop-color="#0000f6"/><stop offset=".817" stop-color="#0094ff"/><stop offset=".821" stop-color="#0076ff"/><stop offset=".826" stop-color="#0012ff"/><stop offset=".831" stop-color="#0000c2"/><stop offset=".836" stop-color="#0000a6"/><stop offset=".864" stop-color="#0000a2"/><stop offset=".874" stop-color="#0000b2"/><stop offset=".879" stop-color="#0000a3"/><stop offset=".883" stop-color="#0000c6"/><stop offset=".888" stop-color="#0000b0"/><stop offset=".898" stop-color="#0000f0"/><stop offset=".902" stop-color="#0000e4"/><stop offset=".907" stop-color="#ff7900"/><stop offset=".912" stop-color="#970000"/><stop offset=".917" stop-color="#0061ff"/><stop offset=".921" stop-color="#00e"/><stop offset=".926" stop-color="#0000b6"/><stop offset=".931" stop-color="#00c"/><stop offset=".94" stop-color="#0000d2"/><stop offset=".945" stop-color="#0000e5"/><stop offset=".955" stop-color="#0000d2"/><stop offset=".998" stop-color="#0000d2"/></linearGradient><linearGradient id="g128" x2="0" y2="1"><stop offset=".002" stop-color="#0000a2"/><stop offset=".302" stop-color="#0000a2"/><stop offset=".421" stop-color="#0000c8"/><stop offset=".498" stop-color="#0000a6"/><stop offset=".564" stop-color="#0000a2"/><stop offset=".593" stop-color="#00b"/><stop offset=".612" stop-color="#0002ff"/><stop offset=".621" stop-color="#0028ff"/><stop offset=".631" stop-color="#0035ff"/><stop offset=".645" stop-color="#0006ff"/><stop offset=".65" stop-color="#0000ec"/><stop offset=".664" stop-color="#0000b3"/><stop offset=".679" stop-color="#0000a2"/><stop offset=".793" stop-color="#0000a2"/><stop offset=".802" stop-color="#0000b3"/><stop offset=".807" stop-color="#0000de"/><stop offset=".812" stop-color="#03f"/><stop offset=".817" stop-color="#0085ff"/><stop offset=".821" stop-color="#0082ff"/><stop offset=".826" stop-color="#0027ff"/><stop offset=".831" stop-color="#0000cd"/><stop offset=".836" stop-color="#0000a9"/><stop offset=".84" stop-color="#0000a3"/><stop offset=".864" stop-color="#0000a3"/><stop offset=".874" stop-color="#0000b5"/><stop offset=".879" stop-color="#0000a2"/><stop offset=".883" stop-color="#0000be"/><stop offset=".893" stop-color="#0000b6"/><stop offset=".898" stop-color="#0000fa"/><stop offset=".902" stop-color="#0000b5"/><stop offset=".907" stop-color="#ffed00"/><stop offset=".912" stop-color="#7f0000"/><stop offset=".917" stop-color="#00b5ff"/><stop offset=".921" stop-color="#0000e0"/><stop offset=".926" stop-color="#0000b4"/><stop offset=".931" stop-color="#0000cb"/><stop offset=".94" stop-color="#0000d2"/><stop offset=".945" stop-color="#0000e5"/><stop offset=".955" stop-color="#0000d2"/><stop offset=".998" stop-color="#0000d2"/></linearGradient><linearGradient id="g129" x2="0" y2="1"><stop offset=".002" stop-color="#0000a2"/><stop offset=".317" stop-color="#0000a2"/><stop offset=".431" stop-color="#0000c8"/><stop offset=".507" stop-color="#0000a5"/><stop offset=".583" stop-color="#0000a2"/><stop offset=".607" stop-color="#0000b8"/><stop offset=".626" stop-color="#0002ff"/><stop offset=".64" stop-color="#0035ff"/><stop offset=".65" stop-color="#0028ff"/><stop offset=".66" stop-color="#0000f8"/><stop offset=".674" stop-color="#0000b6"/><stop offset=".688" stop-color="#0000a2"/><stop offset=".798" stop-color="#0000a2"/><stop offset=".807" stop-color="#0000c7"/><stop offset=".812" stop-color="#000aff"/><stop offset=".817" stop-color="#005cff"/><stop offset=".821" stop-color="#0073ff"/><stop offset=".826" stop-color="#002eff"/><stop offset=".831" stop-color="#0000d6"/><stop offset=".836" stop-color="#0000ab"/><stop offset=".84" stop-color="#0000a3"/><stop offset=".869" stop-color="#0000a6"/><stop offset=".874" stop-color="#0000b5"/><stop offset=".879" stop-color="#0000a7"/><stop offset=".888" stop-color="#0000c4"/><stop offset=".893" stop-color="#0000a7"/><stop offset=".898" stop-color="#0000fa"/><stop offset=".902" stop-color="#0000a1"/><stop offset=".907" stop-color="#96ff68"/><stop offset=".912" stop-color="#7f0000"/><stop offset=".917" stop-color="#17ffe7"/><stop offset=".921" stop-color="#0000cf"/><stop offset=".926" stop-color="#00b"/><stop offset=".945" stop-color="#0000e5"/><stop offset=".955" stop-color="#0000d2"/><stop offset=".998" stop-color="#0000d2"/></linearGradient><linearGradient id="g130" x2="0" y2="1"><stop offset=".002" stop-color="#0000a2"/><stop offset=".326" stop-color="#0000a2"/><stop offset=".436" stop-color="#0000c8"/><stop offset=".517" stop-color="#0000a4"/><stop offset=".598" stop-color="#0000a2"/><stop offset=".621" stop-color="#0000b8"/><stop offset=".64" stop-color="#0008ff"/><stop offset=".655" stop-color="#0036ff"/><stop offset=".66" stop-color="#002fff"/><stop offset=".669" stop-color="#0002ff"/><stop offset=".683" stop-color="#0000b9"/><stop offset=".698" stop-color="#0000a2"/><stop offset=".798" stop-color="#0000a2"/><stop offset=".807" stop-color="#0000b6"/><stop offset=".812" stop-color="#0000e4"/><stop offset=".817" stop-color="#002cff"/><stop offset=".821" stop-color="#0054ff"/><stop offset=".826" stop-color="#002aff"/><stop offset=".831" stop-color="#0000db"/><stop offset=".836" stop-color="#0000ae"/><stop offset=".84" stop-color="#0000a3"/><stop offset=".883" stop-color="#00a"/><stop offset=".888" stop-color="#0000c8"/><stop offset=".893" stop-color="#0000a1"/><stop offset=".898" stop-color="#0000f1"/><stop offset=".902" stop-color="#0000b1"/><stop offset=".907" stop-color="#1cffe2"/><stop offset=".912" stop-color="#7f0000"/><stop offset=".917" stop-color="#81ff7d"/><stop offset=".921" stop-color="#00b"/><stop offset=".94" stop-color="#0000d2"/><stop offset=".945" stop-color="#0000e5"/><stop offset=".955" stop-color="#0000d2"/><stop offset=".998" stop-color="#0000d2"/></linearGradient><linearGradient id="g131" x2="0" y2="1"><stop offset=".002" stop-color="#0000a2"/><stop offset=".34" stop-color="#0000a2"/><stop offset=".445" stop-color="#0000c8"/><stop offset=".521" stop-color="#0000a4"/><stop offset=".612" stop-color="#0000a2"/><stop offset=".636" stop-color="#0000b9"/><stop offset=".65" stop-color="#0000f7"/><stop offset=".655" stop-color="#0012ff"/><stop offset=".664" stop-color="#0034ff"/><stop offset=".669" stop-color="#03f"/><stop offset=".679" stop-color="#000aff"/><stop offset=".693" stop-color="#0000ba"/><stop offset=".707" stop-color="#0000a2"/><stop offset=".802" stop-color="#0000a3"/><stop offset=".812" stop-color="#0000cb"/><stop offset=".817" stop-color="#0007ff"/><stop offset=".821" stop-color="#0038ff"/><stop offset=".826" stop-color="#0025ff"/><stop offset=".831" stop-color="#0000e0"/><stop offset=".836" stop-color="#0000b1"/><stop offset=".84" stop-color="#0000a3"/><stop offset=".869" stop-color="#0000a3"/><stop offset=".879" stop-color="#0000b4"/><stop offset=".883" stop-color="#0000a2"/><stop offset=".888" stop-color="#0000c7"/><stop offset=".893" stop-color="#0000a9"/><stop offset=".898" stop-color="#0000e0"/><stop offset=".902" stop-color="#0000cb"/><stop offset=".907" stop-color="#00a9ff"/><stop offset=".912" stop-color="#7f0000"/><stop offset=".917" stop-color="#f0ff0e"/><stop offset=".921" stop-color="#0000a9"/><stop offset=".926" stop-color="#0000d6"/><stop offset=".931" stop-color="#0000c7"/><stop offset=".945" stop-color="#0000e5"/><stop offset=".955" stop-color="#0000d2"/><stop offset=".998" stop-color="#0000d2"/></linearGradient><linearGradient id="g132" x2="0" y2="1"><stop offset=".002" stop-color="#0000a2"/><stop offset=".35" stop-color="#0000a2"/><stop offset=".455" stop-color="#0000c8"/><stop offset=".531" stop-color="#0000a3"/><stop offset=".626" stop-color="#0000a2"/><stop offset=".645" stop-color="#0000b1"/><stop offset=".664" stop-color="#0005ff"/><stop offset=".674" stop-color="#0031ff"/><stop offset=".679" stop-color="#0035ff"/><stop offset=".688" stop-color="#000eff"/><stop offset=".693" stop-color="#0000ed"/><stop offset=".702" stop-color="#0000b9"/><stop offset=".717" stop-color="#0000a2"/><stop offset=".802" stop-color="#0000a2"/><stop offset=".812" stop-color="#0000be"/><stop offset=".817" stop-color="#0000f2"/><stop offset=".821" stop-color="#002dff"/><stop offset=".826" stop-color="#002eff"/><stop offset=".831" stop-color="#0000ef"/><stop offset=".836" stop-color="#0000b7"/><stop offset=".84" stop-color="#0000a4"/><stop offset=".874" stop-color="#0000a7"/><stop offset=".879" stop-color="#0000b5"/><stop offset=".883" stop-color="#0000a2"/><stop offset=".888" stop-color="#0000c0"/><stop offset=".893" stop-color="#0000b5"/><stop offset=".902" stop-color="#0000e4"/><stop offset=".907" stop-color="#0045ff"/><stop offset=".912" stop-color="#b40000"/><stop offset=".917" stop-color="#ff9e00"/><stop offset=".921" stop-color="#0000a2"/><stop offset=".926" stop-color="#0000e3"/><stop offset=".931" stop-color="#0000c5"/><stop offset=".945" stop-color="#0000e5"/><stop offset=".955" stop-color="#0000d2"/><stop offset=".998" stop-color="#0000d2"/></linearGradient><linearGradient id="g133" x2="0" y2="1"><stop offset=".002" stop-color="#0000a2"/><stop offset=".36" stop-color="#0000a2"/><stop offset=".46" stop-color="#0000c8"/><stop offset=".531" stop-color="#0000a4"/><stop offset=".636" stop-color="#0000a2"/><stop offset=".655" stop-color="#0000b5"/><stop offset=".669" stop-color="#0000f6"/><stop offset=".674" stop-color="#0014ff"/><stop offset=".683" stop-color="#0036ff"/><stop offset=".698" stop-color="#0000f5"/><stop offset=".707" stop-color="#0000bc"/><stop offset=".721" stop-color="#0000a2"/><stop offset=".807" stop-color="#0000a6"/><stop offset=".812" stop-color="#0000b9"/><stop offset=".817" stop-color="#0000eb"/><stop offset=".821" stop-color="#002fff"/><stop offset=".826" stop-color="#003fff"/><stop offset=".831" stop-color="#0002ff"/><stop offset=".836" stop-color="#0000bf"/><stop offset=".84" stop-color="#0000a5"/><stop offset=".874" stop-color="#0000a4"/><stop offset=".879" stop-color="#0000b4"/><stop offset=".883" stop-color="#0000a6"/><stop offset=".888" stop-color="#0000ba"/><stop offset=".898" stop-color="#0000be"/><stop offset=".902" stop-color="#0000f0"/><stop offset=".907" stop-color="#000eff"/><stop offset=".912" stop-color="#ec0000"/><stop offset=".917" stop-color="#ff5600"/><stop offset=".921" stop-color="#0000ad"/><stop offset=".926" stop-color="#0000eb"/><stop offset=".931" stop-color="#0000c4"/><stop offset=".945" stop-color="#0000e5"/><stop offset=".955" stop-color="#0000d2"/><stop offset=".998" stop-color="#0000d2"/></linearGradient><g id="hmA"><rect x="-4" width="6" height="210" fill="url(#g0)"/><rect x="1" width="2" height="210" fill="url(#g1)"/><rect x="2" width="2" height="210" fill="url(#g2)"/><rect x="3" width="2" height="210" fill="url(#g3)"/><rect x="4" width="2" height="210" fill="url(#g4)"/><rect x="5" width="2" height="210" fill="url(#g5)"/><rect x="6" width="2" height="210" fill="url(#g6)"/><rect x="7" width="2" height="210" fill="url(#g7)"/><rect x="8" width="2" height="210" fill="url(#g8)"/><rect x="9" width="2" height="210" fill="url(#g9)"/><rect x="10" width="2" height="210" fill="url(#g10)"/><rect x="11" width="2" height="210" fill="url(#g11)"/><rect x="12" width="2" height="210" fill="url(#g12)"/><rect x="13" width="2" height="210" fill="url(#g13)"/><rect x="14" width="2" height="210" fill="url(#g14)"/><rect x="15" width="2" height="210" fill="url(#g15)"/><rect x="16" width="2" height="210" fill="url(#g16)"/><rect x="17" width="2" height="210" fill="url(#g17)"/><rect x="18" width="2" height="210" fill="url(#g18)"/><rect x="19" width="2" height="210" fill="url(#g19)"/><rect x="20" width="2" height="210" fill="url(#g20)"/><rect x="21" width="2" height="210" fill="url(#g21)"/><rect x="22" width="2" height="210" fill="url(#g22)"/><rect x="23" width="2" height="210" fill="url(#g23)"/><rect x="24" width="3" height="210" fill="url(#g24)"/><rect x="26" width="3" height="210" fill="url(#g25)"/><rect x="28" width="3" height="210" fill="url(#g26)"/></g><g id="hm"><use href="#hmA"/><rect x="30" width="3" height="210" fill="url(#g27)"/><rect x="32" width="3" height="210" fill="url(#g28)"/><rect x="34" width="3" height="210" fill="url(#g29)"/><rect x="36" width="3" height="210" fill="url(#g30)"/><rect x="38" width="3" height="210" fill="url(#g31)"/><rect x="40" width="3" height="210" fill="url(#g32)"/><rect x="42" width="3" height="210" fill="url(#g33)"/><rect x="44" width="3" height="210" fill="url(#g34)"/><rect x="46" width="3" height="210" fill="url(#g35)"/><rect x="48" width="3" height="210" fill="url(#g36)"/><rect x="50" width="3" height="210" fill="url(#g37)"/><rect x="52" width="3" height="210" fill="url(#g38)"/><rect x="54" width="3" height="210" fill="url(#g39)"/><rect x="56" width="3" height="210" fill="url(#g40)"/><rect x="58" width="3" height="210" fill="url(#g41)"/><rect x="60" width="3" height="210" fill="url(#g42)"/><rect x="62" width="3" height="210" fill="url(#g43)"/><rect x="64" width="3" height="210" fill="url(#g44)"/><rect x="66" width="3" height="210" fill="url(#g45)"/><rect x="68" width="3" height="210" fill="url(#g46)"/><rect x="70" width="3" height="210" fill="url(#g47)"/><rect x="72" width="3" height="210" fill="url(#g48)"/><rect x="74" width="3" height="210" fill="url(#g49)"/><rect x="76" width="3" height="210" fill="url(#g50)"/><rect x="78" width="3" height="210" fill="url(#g51)"/><rect x="80" width="3" height="210" fill="url(#g52)"/><rect x="82" width="3" height="210" fill="url(#g53)"/><rect x="84" width="3" height="210" fill="url(#g54)"/><rect x="86" width="3" height="210" fill="url(#g55)"/><rect x="88" width="3" height="210" fill="url(#g56)"/><rect x="90" width="3" height="210" fill="url(#g57)"/><rect x="92" width="3" height="210" fill="url(#g58)"/><rect x="94" width="3" height="210" fill="url(#g59)"/><rect x="96" width="3" height="210" fill="url(#g60)"/><rect x="98" width="3" height="210" fill="url(#g61)"/><rect x="100" width="3" height="210" fill="url(#g62)"/><rect x="102" width="3" height="210" fill="url(#g63)"/><rect x="104" width="3" height="210" fill="url(#g64)"/><rect x="106" width="3" height="210" fill="url(#g65)"/><rect x="108" width="3" height="210" fill="url(#g66)"/><rect x="110" width="3" height="210" fill="url(#g67)"/><rect x="112" width="3" height="210" fill="url(#g68)"/><rect x="114" width="3" height="210" fill="url(#g69)"/><rect x="116" width="3" height="210" fill="url(#g70)"/><rect x="118" width="3" height="210" fill="url(#g71)"/><rect x="120" width="4" height="210" fill="url(#g72)"/><rect x="123" width="4" height="210" fill="url(#g73)"/><rect x="126" width="4" height="210" fill="url(#g74)"/><rect x="129" width="4" height="210" fill="url(#g75)"/><rect x="132" width="4" height="210" fill="url(#g76)"/><rect x="135" width="4" height="210" fill="url(#g77)"/><rect x="138" width="4" height="210" fill="url(#g78)"/><rect x="141" width="4" height="210" fill="url(#g79)"/><rect x="144" width="4" height="210" fill="url(#g80)"/><rect x="147" width="4" height="210" fill="url(#g81)"/><rect x="150" width="4" height="210" fill="url(#g82)"/><rect x="153" width="4" height="210" fill="url(#g83)"/><rect x="156" width="4" height="210" fill="url(#g84)"/><rect x="159" width="4" height="210" fill="url(#g85)"/><rect x="162" width="4" height="210" fill="url(#g86)"/><rect x="165" width="4" height="210" fill="url(#g87)"/><rect x="168" width="4" height="210" fill="url(#g88)"/><rect x="171" width="4" height="210" fill="url(#g89)"/><rect x="174" width="4" height="210" fill="url(#g90)"/><rect x="177" width="4" height="210" fill="url(#g91)"/><rect x="180" width="4" height="210" fill="url(#g92)"/><rect x="183" width="4" height="210" fill="url(#g93)"/><rect x="186" width="4" height="210" fill="url(#g94)"/><rect x="189" width="4" height="210" fill="url(#g95)"/><rect x="192" width="4" height="210" fill="url(#g96)"/><rect x="195" width="4" height="210" fill="url(#g97)"/><rect x="198" width="4" height="210" fill="url(#g98)"/><rect x="201" width="4" height="210" fill="url(#g99)"/><rect x="204" width="4" height="210" fill="url(#g100)"/><rect x="207" width="4" height="210" fill="url(#g101)"/><rect x="210" width="4" height="210" fill="url(#g102)"/><rect x="213" width="4" height="210" fill="url(#g103)"/><rect x="216" width="4" height="210" fill="url(#g104)"/><rect x="219" width="4" height="210" fill="url(#g105)"/><rect x="222" width="4" height="210" fill="url(#g106)"/><rect x="225" width="4" height="210" fill="url(#g107)"/><rect x="228" width="4" height="210" fill="url(#g108)"/><rect x="231" width="4" height="210" fill="url(#g109)"/><rect x="234" width="4" height="210" fill="url(#g110)"/><rect x="237" width="4" height="210" fill="url(#g111)"/><rect x="240" width="4" height="210" fill="url(#g112)"/><rect x="243" width="4" height="210" fill="url(#g113)"/><rect x="246" width="4" height="210" fill="url(#g114)"/><rect x="249" width="4" height="210" fill="url(#g115)"/><rect x="252" width="4" height="210" fill="url(#g116)"/><rect x="255" width="4" height="210" fill="url(#g117)"/><rect x="258" width="4" height="210" fill="url(#g118)"/><rect x="261" width="4" height="210" fill="url(#g119)"/><rect x="264" width="4" height="210" fill="url(#g120)"/><rect x="267" width="4" height="210" fill="url(#g121)"/><rect x="270" width="4" height="210" fill="url(#g122)"/><rect x="273" width="4" height="210" fill="url(#g123)"/><rect x="276" width="4" height="210" fill="url(#g124)"/><rect x="279" width="4" height="210" fill="url(#g125)"/><rect x="282" width="4" height="210" fill="url(#g126)"/><rect x="285" width="4" height="210" fill="url(#g127)"/><rect x="288" width="4" height="210" fill="url(#g128)"/><rect x="291" width="4" height="210" fill="url(#g129)"/><rect x="294" width="4" height="210" fill="url(#g130)"/><rect x="297" width="4" height="210" fill="url(#g131)"/><rect x="300" width="4" height="210" fill="url(#g132)"/><rect x="303" width="6" height="210" fill="url(#g133)"/></g></defs>
<defs><filter id="hb" x="-5%" y="-5%" width="110%" height="110%"><feGaussianBlur stdDeviation="0.9 0.45"/></filter>
<filter id="hb2" x="-5%" y="-5%" width="110%" height="110%"><feGaussianBlur stdDeviation="0.4 0.45"/></filter>
<clipPath id="ca"><rect x="-5" y="-5" width="27" height="220"/></clipPath>
<clipPath id="cc"><rect x="55.1" y="289.5" width="303.8" height="210.2"/></clipPath>
<clipPath id="cd"><rect x="434.8" y="289.3" width="302" height="211"/></clipPath></defs>
<rect width="746" height="541" fill="#fff"/>

<g id="pa">
<path class="ax" d="M44.7 7.5H356.8V221.0H44.7ZM94.1 221.0v-3.2M94.1 7.5v3.2M160.5 221.0v-3.2M160.5 7.5v3.2M226.9 221.0v-3.2M226.9 7.5v3.2M293.3 221.0v-3.2M293.3 7.5v3.2M44.7 60.9h3.2M356.8 60.9h-3.2M44.7 114.2h3.2M356.8 114.2h-3.2M44.7 167.6h3.2M356.8 167.6h-3.2"/>
<path d="M60.9 7.5 L67.5 7.5 L67.5 7.8 L74.2 7.8 L74.2 8.4 L80.8 8.4 L80.8 9.3 L87.5 9.3 L87.5 10.4 L94.1 10.4 L94.1 11.8 L100.7 11.8 L100.7 13.3 L107.4 13.3 L107.4 15.1 L114.0 15.1 L114.0 17.0 L120.7 17.0 L120.7 19.1 L127.3 19.1 L127.3 21.4 L193.7 21.4 L193.7 50.7 L260.1 50.7 L260.1 79.4 L326.5 79.4 L326.5 221.0" fill="none" stroke="#7f7f7f" stroke-width="2.4" stroke-linejoin="miter"/>
<text class="t" x="94.1" y="238.9" text-anchor="middle">200</text>
<text class="t" x="160.5" y="238.9" text-anchor="middle">400</text>
<text class="t" x="226.9" y="238.9" text-anchor="middle">600</text>
<text class="t" x="293.3" y="238.9" text-anchor="middle">800</text>
<text class="t" x="40.4" y="12.8" text-anchor="end">0</text>
<text class="t" x="40.4" y="66.2" text-anchor="end">10</text>
<text class="t" x="40.4" y="119.5" text-anchor="end">20</text>
<text class="t" x="40.4" y="172.9" text-anchor="end">30</text>
<text class="t" x="40.4" y="226.3" text-anchor="end">40</text>
<text class="l" x="163.2" y="260.6">V<tspan dy="6.8" font-size="12.5">S</tspan><tspan dy="-6.8"> (m/sec)</tspan></text>
<text class="l" transform="translate(12.3 113.4) rotate(-90)" text-anchor="middle">depth (m)</text>
<text class="p" transform="translate(0.8 14.4) scale(1.15 1)">(a)</text>
<text class="n" x="88.4" y="25.8">0.45</text>
<text class="n" x="197.1" y="39.8">0.40</text>
<text class="n" x="264.2" y="70.1">0.40</text>
<text class="n" x="300.6" y="154.0">0.30</text>
</g>
<g id="pb">
<path d="M451.6 10.2L452.1 10.6 452.9 11.3 453 12 452.2 12.7 451.6 12.9ZM451.6 15.7L453.3 16.1 456.8 16.7 457.8 17.4 454.7 18.1 451.6 18.4ZM451.6 21.2L455.3 21.5 462 22.2 462.6 22.9 456.8 23.5 451.6 24ZM451.6 26.7L453.6 27 457.3 27.6 456.9 28.3 453.9 29 451.6 29.5ZM451.6 32.2L451.9 32.4 452.7 33.1 452.8 33.8 452.2 34.4 451.6 35ZM463.1 12.2L463.6 12.7 464.2 13.3 464.3 14 463.6 14.7 463.1 15ZM463.1 17.9L463.7 18.1 466.6 18.8 467.9 19.5 465.8 20.1 463.1 20.5ZM463.1 23.3L465.6 23.5 472.1 24.2 473.7 24.9 469.1 25.6 463.1 26.1ZM463.1 28.9L464.7 29 470.9 29.7 472 30.4 468.1 31 463.1 31.6ZM463.1 34.4L463.3 34.4 465.3 35.1 465.6 35.8 464.5 36.5 463.1 37.2ZM463.1 39.9L463.7 40.6 463.9 41.2 463.6 41.9 463.1 42.6ZM474.5 14.3L474.9 14.7 475.5 15.4 475.5 16.1 474.9 16.7 474.5 17.1ZM474.5 20.2L477 20.8 478.5 21.5 477.1 22.2 474.5 22.6ZM474.5 25.4L476.2 25.6 481.8 26.3 483.8 27 480.4 27.6 474.5 28.2ZM474.5 31L475.3 31 482.7 31.7 485.2 32.4 481.7 33.1 474.5 33.8ZM474.5 36.6L478.1 37.2 479.3 37.8 477.7 38.5 475 39.2 474.5 39.3ZM474.5 42.1L475.3 42.6 475.8 43.3 475.5 44 474.8 44.6 474.5 44.9ZM486 16.3L486.4 16.7 486.9 17.4 486.8 18.1 486.3 18.8 486 19.5ZM486 22.4L488.1 22.9 489.7 23.5 488.4 24.2 486 24.7ZM486 27.4L487.3 27.6 491.7 28.3 493.6 29 491.2 29.7 486 30.3ZM486 33.1L493.6 33.8 497 34.4 494.2 35.1 486.9 35.8 486 35.9ZM486 38.7L490.7 39.2 493.4 39.9 491.8 40.6 487.5 41.2 486 41.5ZM486 44.3L487.1 44.6 488.2 45.3 487.9 46 486.7 46.7 486 47.1ZM486 49.9L486.2 50.1 486.7 50.8 486.8 51.4 486.4 52.1 486 52.8ZM497.5 18.1L497.9 18.8 498.3 19.5 498.2 20.1 497.8 20.8 497.5 21.5ZM497.5 24.4L499.5 24.9 500.9 25.6 499.6 26.3 497.5 26.7ZM497.5 29.4L498.9 29.7 502.2 30.4 503.5 31 501.6 31.7 497.5 32.3ZM497.5 35.1L504.6 35.8 508.3 36.5 506.1 37.2 499 37.8 497.5 38ZM497.5 40.8L502.7 41.2 507 41.9 505.9 42.6 500.5 43.3 497.5 43.6ZM497.5 46.4L499 46.7 501.2 47.4 501 48 499.2 48.7 497.5 49.2ZM497.5 52.1L498.5 52.8 498.7 53.5 498.3 54.2 497.5 54.8ZM497.5 57.6L497.8 58.2 498 58.9 497.9 59.6 497.5 60.3ZM508.9 20.1L509.3 20.8 509.6 21.5 509.4 22.2 509.2 22.9 509.1 23.5 508.9 23.7ZM508.9 26.4L510.9 27 511.9 27.6 510.5 28.3 508.9 28.7ZM508.9 31.3L510.8 31.7 512.9 32.4 513.3 33.1 511.5 33.8 508.9 34.3ZM508.9 37.2L515.1 37.8 518.8 38.5 517.1 39.2 510.6 39.9 508.9 40ZM508.9 42.9L514 43.3 519.5 44 519 44.6 513.1 45.3 508.9 45.7ZM508.9 48.5L510.5 48.7 514.4 49.4 514.8 50.1 512.1 50.8 508.9 51.4ZM508.9 54.2L510.3 54.8 510.8 55.5 510.2 56.2 509.1 56.9 508.9 57.1ZM508.9 59.9L509.3 60.3 509.7 61 509.6 61.6 509.2 62.3 508.9 62.7ZM520.4 22.2L520.8 22.9 521 23.5 520.8 24.2 520.7 24.9 520.6 25.6 520.4 25.8ZM520.4 28.3L522.5 29 523.1 29.7 521.6 30.4 520.4 30.6ZM520.4 33.1L522.8 33.8 523.9 34.4 523.1 35.1 521.2 35.8 520.4 36ZM520.4 39.2L525.6 39.9 529 40.6 527.8 41.2 521.9 41.9 520.4 42.1ZM520.4 44.9L525.5 45.3 531.4 46 531.4 46.7 525.5 47.4 520.4 47.8ZM520.4 50.6L522 50.8 527.7 51.4 529 52.1 525.7 52.8 520.4 53.5ZM520.4 56.3L522.5 56.9 523.6 57.6 522.8 58.2 521.1 58.9 520.4 59.2ZM520.4 62.1L520.8 62.3 521.4 63 521.4 63.7 520.9 64.4 520.4 64.9ZM520.4 67.8L520.8 68.4 520.9 69.1 520.8 69.8 520.4 70.5ZM531.8 30.3L532 30.4 533.9 31 534.1 31.7 532.4 32.4 531.8 32.6ZM531.8 35L532.4 35.1 534.4 35.8 534.5 36.5 532.8 37.2 531.8 37.5ZM531.8 41.4L534.9 41.9 538.1 42.6 537.6 43.3 533 44 531.8 44.1ZM531.8 46.9L536.4 47.4 541.9 48 542.1 48.7 536.7 49.4 531.8 49.8ZM531.8 52.7L533.1 52.8 539.8 53.5 541.9 54.2 538.5 54.8 532.2 55.5 531.8 55.6ZM531.8 58.5L534.6 58.9 536.4 59.6 535.6 60.3 533.1 61 531.8 61.3ZM531.8 64.2L532.2 64.4 533.2 65 533.3 65.7 532.7 66.4 531.8 67.1ZM531.8 69.8L532.2 70.5 532.5 71.2 532.3 71.9 532 72.5 531.8 72.8ZM543.3 32.2L543.8 32.4 545.5 33.1 545.4 33.8 543.5 34.4 543.3 34.5ZM543.3 36.8L544.7 37.2 546.1 37.8 545.2 38.5 543.3 39.1ZM543.3 43.7L544.5 44 547.9 44.6 548.5 45.3 544.8 46 543.3 46.2ZM543.3 48.9L547.7 49.4 552.5 50.1 552.7 50.8 547.8 51.4 543.3 51.8ZM543.3 54.7L544.6 54.8 551.7 55.5 554.3 56.2 551.1 56.9 544 57.6 543.3 57.6ZM543.3 60.5L546.9 61 549.8 61.6 549 62.3 545.6 63 543.3 63.4ZM543.3 66.3L543.6 66.4 545.2 67.1 545.5 67.8 544.7 68.4 543.3 69.1ZM543.3 72.1L543.8 72.5 544.2 73.2 544.1 73.9 543.6 74.6 543.3 75ZM554.8 34.1L555.6 34.4 557.1 35.1 556.7 35.8 554.8 36.4ZM554.8 38.6L557 39.2 557.7 39.9 555.9 40.6 554.8 40.9ZM554.8 42.9L555.8 43.3 555.5 44 554.8 44.2ZM554.8 46L558.3 46.7 559.6 47.4 556.6 48 554.8 48.3ZM554.8 50.9L559 51.4 562.8 52.1 562.7 52.8 558.3 53.5 554.8 53.8ZM554.8 56.7L556.3 56.9 563.2 57.6 565.8 58.2 562.7 58.9 555.5 59.6 554.8 59.7ZM554.8 62.6L559 63 562.9 63.7 562.4 64.4 558.2 65 554.8 65.5ZM554.8 68.4L555.1 68.4 557.5 69.1 558.1 69.8 557 70.5 555.2 71.2 554.8 71.3ZM554.8 74.2L555.3 74.6 555.9 75.3 555.9 75.9 555.3 76.6 554.8 77.1ZM554.8 80L555.2 80.7 555.4 81.4 555.2 82.1 554.8 82.7ZM566.2 31.7L566.4 32.4 566.7 33.1 566.5 33.8 566.2 33.9ZM566.2 36.1L567.4 36.5 568.7 37.2 567.9 37.8 566.2 38.3ZM566.2 40.5L566.5 40.6 569.1 41.2 569.1 41.9 566.4 42.6 566.2 42.7ZM566.2 44.6L568 45.3 567.2 46 566.2 46.3ZM566.2 48.1L569.4 48.7 570.7 49.4 567.9 50.1 566.2 50.3ZM566.2 52.9L570.6 53.5 573.2 54.2 572.5 54.8 568.5 55.5 566.2 55.8ZM566.2 58.7L568.1 58.9 574.7 59.6 577 60.3 573.8 61 566.6 61.6 566.2 61.7ZM566.2 64.6L571 65 575.8 65.7 575.4 66.4 570.5 67.1 566.2 67.5ZM566.2 70.5L566.4 70.5 570 71.2 571.2 71.9 569.7 72.5 566.9 73.2 566.2 73.4ZM566.2 76.3L566.8 76.6 567.8 77.3 567.8 78 567.1 78.7 566.2 79.3ZM566.2 82.1L566.7 82.7 566.9 83.4 566.8 84.1 566.4 84.8 566.2 85.1ZM577.7 33.8L577.9 34.4 578.3 35.1 577.9 35.8 577.7 35.9ZM577.7 38L579.3 38.5 580.5 39.2 579 39.9 577.7 40.2ZM577.7 42.4L578.9 42.6 581.2 43.3 580.2 44 577.7 44.5ZM577.7 46.5L578.4 46.7 580 47.4 578.6 48 577.7 48.3ZM577.7 50.1L580.6 50.8 581.4 51.4 578.7 52.1 577.7 52.3ZM577.7 54.7L578.3 54.8 582.3 55.5 583.6 56.2 582 56.9 578.3 57.6 577.7 57.7ZM577.7 60.7L580.1 61 585.8 61.6 587.7 62.3 584.4 63 577.7 63.7ZM577.7 66.6L583.1 67.1 588.1 67.8 587.8 68.4 582.4 69.1 577.7 69.6ZM577.7 72.5L577.9 72.5 582.8 73.2 584.5 73.9 582.7 74.6 578.9 75.3 577.7 75.5ZM577.7 78.4L578.5 78.7 579.9 79.3 580 80 579 80.7 577.7 81.4ZM577.7 84.3L578.2 84.8 578.7 85.5 578.6 86.1 578.1 86.8 577.7 87.3ZM589.1 35.8L589.5 36.5 589.9 37.2 589.1 37.8ZM589.1 40L591.3 40.6 592.1 41.2 590 41.9 589.1 42.1ZM589.1 44.2L591.2 44.6 593 45.3 591.1 46 589.1 46.4ZM589.1 48.4L590.4 48.7 591.5 49.4 589.7 50.1 589.1 50.3ZM589.1 52.1L591.9 52.8 592.1 53.5 589.4 54.2 589.1 54.2ZM589.1 56.6L590.6 56.9 593.6 57.6 593.9 58.2 591.5 58.9 589.1 59.4ZM589.1 62.6L591.8 63 596.4 63.7 597.8 64.4 594.6 65 589.1 65.6ZM589.1 68.6L595.2 69.1 600.1 69.8 599.5 70.5 593.7 71.2 589.1 71.6ZM589.1 74.5L589.6 74.6 595.7 75.3 598.1 75.9 595.8 76.6 590.8 77.3 589.1 77.5ZM589.1 80.5L590.2 80.7 592.4 81.4 592.6 82.1 591.2 82.7 589.1 83.4ZM589.1 86.4L589.8 86.8 590.4 87.5 590.3 88.2 589.7 88.9 589.1 89.4ZM589.1 92.3L589.5 92.9 589.7 93.6 589.6 94.3 589.3 95 589.1 95.3ZM600.6 37.8L601.2 38.5 601.6 39.2 600.6 39.9ZM600.6 41.9L603.3 42.6 603.5 43.3 600.8 44 600.6 44ZM600.6 46.1L603.4 46.7 604.4 47.4 601.8 48 600.6 48.3ZM600.6 50.3L602.3 50.8 602.8 51.4 600.8 52.1 600.6 52.2ZM600.6 54L601.1 54.2 603.1 54.8 602.9 55.5 600.6 56.1ZM600.6 58.5L602.5 58.9 604.6 59.6 604 60.3 601.3 61 600.6 61.1ZM600.6 64.5L602.7 65 605.8 65.7 607.1 66.4 604.7 67.1 600.6 67.6ZM600.6 70.6L607.1 71.2 611.4 71.9 610.3 72.5 604.4 73.2 600.6 73.5ZM600.6 76.5L601.6 76.6 608.4 77.3 610.9 78 608.4 78.7 602.3 79.3 600.6 79.5ZM600.6 82.5L602.2 82.7 605.3 83.4 605.6 84.1 603.7 84.8 600.6 85.5ZM600.6 88.5L601.4 88.9 602.3 89.5 602.2 90.2 601.4 90.9 600.6 91.5ZM600.6 94.3L601.1 95 601.4 95.7 601.3 96.3 600.9 97 600.6 97.4ZM612 39.9L612.9 40.6 613.1 41.2 612 41.7ZM612 43.8L612.6 44 615.1 44.6 614.7 45.3 612 45.9ZM612 48L615.3 48.7 615.4 49.4 612.4 50.1 612 50.2ZM612 52.2L613.9 52.8 613.9 53.5 612 54.2ZM612 56L612.7 56.2 614.2 56.9 613.6 57.6 612 58ZM612 60.4L614.3 61 615.5 61.6 614.2 62.3 612 62.9ZM612 65.7L612.4 66.4 612.9 67.1 614.8 67.8 616.4 68.4 615.3 69.1 612 69.6ZM612 72.5L612.5 72.5 618.6 73.2 621.9 73.9 620.4 74.6 614.5 75.3 612 75.5ZM612 78.5L613.9 78.7 620.6 79.3 623 80 620 80.7 613.4 81.4 612 81.5ZM612 84.5L614.2 84.8 618.2 85.5 618.7 86.1 616.1 86.8 612 87.5ZM612 90.5L613.2 90.9 614.4 91.6 614.3 92.3 613.2 92.9 612 93.5ZM612 96.6L612.6 97 613 97.7 612.9 98.4 612.4 99.1 612 99.6ZM623.5 41.6L623.8 41.9 624.8 42.6 624.6 43.3 623.5 43.7ZM623.5 45.7L624.7 46 626.9 46.7 625.8 47.4 623.5 47.8ZM623.5 49.9L624.4 50.1 627 50.8 626.3 51.4 623.5 52ZM623.5 54.2L625.5 54.8 625 55.5 623.5 56.1ZM623.5 57.9L624.4 58.2 625.5 58.9 624.6 59.6 623.5 60ZM623.5 62.3L623.7 62.3 626.2 63 626.6 63.7 624.7 64.4 623.5 64.6ZM623.5 67L623.7 67.1 624.7 67.8 624 68.4 623.5 68.9ZM623.5 69.3L624.3 69.8 626.6 70.5 626.7 71.2 623.5 71.8ZM623.5 74.4L624.9 74.6 630.2 75.3 632.2 75.9 630.1 76.6 624.6 77.3 623.5 77.4ZM623.5 80.4L626.5 80.7 632.7 81.4 634.5 82.1 631 82.7 624 83.4 623.5 83.5ZM623.5 86.5L626.7 86.8 631.4 87.5 631.9 88.2 628.5 88.9 623.5 89.5ZM623.5 92.6L625.2 92.9 627 93.6 626.8 94.3 625.2 95 623.5 95.6ZM623.5 98.6L624.2 99.1 624.8 99.7 624.7 100.4 624.1 101.1 623.5 101.6ZM623.5 104.5L623.9 105.2 624.1 105.9 624 106.5 623.7 107.2 623.5 107.9ZM635 43.5L635.6 44 636.7 44.6 636 45.3 635 45.6ZM635 47.7L636.8 48 638.5 48.7 636.7 49.4 635 49.7ZM635 51.8L636.6 52.1 638.4 52.8 637 53.5 635 53.9ZM635 56L635.6 56.2 636.9 56.9 636.2 57.6 635 58ZM635 59.9L636 60.3 636.8 61 635.7 61.6 635 61.9ZM635 64.1L635.9 64.4 638 65 637.8 65.7 635.2 66.4 635 66.5ZM635 68.7L636.5 69.1 636.8 69.8 635 70.5ZM635 71.9L637.5 72.5 638.2 73.2 635.2 73.9 635 73.9ZM635 76.3L637.3 76.6 641.8 77.3 642.6 78 639.6 78.7 635 79.3ZM635 82.3L639.1 82.7 644.5 83.4 645.5 84.1 641.5 84.8 635 85.4ZM635 88.4L639.4 88.9 644.3 89.5 644.6 90.2 640.4 90.9 635 91.5ZM635 94.6L637.6 95 640 95.7 639.6 96.3 637.4 97 635 97.6ZM635 100.7L636 101.1 636.7 101.8 636.6 102.5 635.8 103.1 635 103.7ZM635 106.7L635.4 107.2 635.8 107.9 635.7 108.6 635.4 109.3 635 109.9ZM646.4 45.5L647.4 46 648.4 46.7 647.1 47.4 646.4 47.5ZM646.4 49.6L648.8 50.1 649.8 50.8 647.5 51.4 646.4 51.7ZM646.4 53.7L648.4 54.2 649.5 54.8 647.7 55.5 646.4 55.8ZM646.4 58L647.3 58.2 648.2 58.9 647.3 59.6 646.4 60ZM646.4 61.8L647.5 62.3 648.1 63 646.9 63.7 646.4 63.8ZM646.4 66L647.9 66.4 649.7 67.1 648.7 67.8 646.4 68.3ZM646.4 70.5L648.8 71.2 648.4 71.9 646.4 72.4ZM646.4 74L648.6 74.6 649.2 75.3 646.4 75.9ZM646.4 78.3L649.5 78.7 653.1 79.3 652.6 80 648.8 80.7 646.4 81ZM646.4 84.2L651.3 84.8 655.6 85.5 655.8 86.1 651.3 86.8 646.4 87.3ZM646.4 90.4L652.1 90.9 656.8 91.6 656.5 92.3 651.6 92.9 646.4 93.4ZM646.4 96.5L650.3 97 653.2 97.7 652.6 98.4 649.4 99.1 646.4 99.6ZM646.4 102.7L647.8 103.1 648.8 103.8 648.6 104.5 647.5 105.2 646.4 105.7ZM646.4 108.8L646.9 109.3 647.4 109.9 647.3 110.6 646.9 111.3 646.4 112ZM657.9 47.4L659.4 48 660.1 48.7 658.2 49.4 657.9 49.5ZM657.9 51.5L660.7 52.1 661.1 52.8 658.3 53.5 657.9 53.6ZM657.9 55.6L660.2 56.2 660.6 56.9 658.5 57.6 657.9 57.7ZM657.9 59.9L659.1 60.3 659.6 61 658.5 61.6 657.9 61.9ZM657.9 63.8L659.2 64.4 659.6 65 658.1 65.7 657.9 65.8ZM657.9 67.9L660.1 68.4 661.4 69.1 659.6 69.8 657.9 70.1ZM657.9 72.3L659 72.5 660.9 73.2 659.7 73.9 657.9 74.3ZM657.9 76L660 76.6 660.3 77.3 657.9 77.9ZM657.9 80.2L661.4 80.7 663.9 81.4 662.4 82.1 658.3 82.7 657.9 82.8ZM657.9 86L658.6 86.1 663.1 86.8 666.1 87.5 665.5 88.2 660.9 88.9 657.9 89.2ZM657.9 92.3L665 92.9 668.9 93.6 667.8 94.3 662.1 95 657.9 95.4ZM657.9 98.5L663.5 99.1 666.6 99.7 665.5 100.4 661.2 101.1 657.9 101.5ZM657.9 104.6L660.2 105.2 661.5 105.9 661 106.5 659.3 107.2 657.9 107.7ZM657.9 110.8L658.6 111.3 659.2 112 659.1 112.7 658.5 113.3 657.9 114ZM657.9 117L658.2 117.4 658.5 118.1 658.5 118.8 658.2 119.5 657.9 120.2ZM669.3 49.2L669.5 49.4 671.3 50.1 671.5 50.8 669.3 51.3ZM669.3 53.4L669.6 53.5 672.4 54.2 672 54.8 669.3 55.5ZM669.3 57.6L671.6 58.2 671.5 58.9 669.3 59.6ZM669.3 61.7L670.7 62.3 670.9 63 669.6 63.7 669.3 63.8ZM669.3 65.7L670.9 66.4 671.1 67.1 669.3 67.8ZM669.3 69.9L672.2 70.5 672.9 71.2 670.2 71.9 669.3 72ZM669.3 74.2L671.3 74.6 672.6 75.3 670.7 75.9 669.3 76.3ZM669.3 78L671.4 78.7 671.3 79.3 669.3 79.8ZM669.3 82.1L672.8 82.7 674.1 83.4 672 84.1 669.3 84.6ZM669.3 87.7L671.4 88.2 673.9 88.9 675.4 89.5 674.5 90.2 670.5 90.9 669.3 91ZM669.3 94.1L671.1 94.3 677.4 95 680.3 95.7 678.1 96.3 671.8 97 669.3 97.2ZM669.3 100.4L670 100.4 676.7 101.1 679.6 101.8 677.8 102.5 672.4 103.1 669.3 103.5ZM669.3 106.6L672.9 107.2 674.5 107.9 673.6 108.6 671.1 109.3 669.3 109.7ZM669.3 112.8L670.4 113.3 671 114 670.9 114.7 670.1 115.4 669.3 115.9ZM669.3 119L669.7 119.5 670 120.2 670 120.8 669.7 121.5 669.3 122.2ZM680.8 51.1L681.4 51.4 683.2 52.1 682.8 52.8 680.8 53.2ZM680.8 55.3L681.7 55.5 683.8 56.2 682.9 56.9 680.8 57.4ZM680.8 59.4L681.4 59.6 683 60.3 682.4 61 680.8 61.5ZM680.8 63.6L681 63.7 682.4 64.4 682.3 65 680.8 65.7ZM680.8 67.7L681 67.8 682.8 68.4 682.6 69.1 680.8 69.7ZM680.8 71.7L681.2 71.9 684.1 72.5 684 73.2 680.8 73.9ZM680.8 76.1L683.4 76.6 684 77.3 681.6 78 680.8 78.2ZM680.8 80L682.7 80.7 682.3 81.4 680.8 81.8ZM680.8 83.9L681.5 84.1 684.1 84.8 684.3 85.5 682 86.1 680.8 86.4ZM680.8 89.2L682 89.5 683.4 90.2 683.9 90.9 684.2 91.6 683.6 92.3 681 92.9 680.8 93ZM680.8 96L684.1 96.3 689.1 97 690.7 97.7 687.7 98.4 681.3 99.1 680.8 99.1ZM680.8 102.2L683.3 102.5 689.5 103.1 691.8 103.8 689.1 104.5 682.8 105.2 680.8 105.4ZM680.8 108.5L681.4 108.6 686.1 109.3 687.8 109.9 686.2 110.6 682.7 111.3 680.8 111.7ZM680.8 114.8L682.5 115.4 683.2 116.1 682.9 116.8 681.7 117.4 680.8 117.9ZM680.8 121.1L681.3 121.5 681.7 122.2 681.7 122.9 681.3 123.6 680.8 124.2ZM692.3 53.1L693.3 53.5 694.9 54.2 693.8 54.8 692.3 55.2ZM692.3 57.3L693.7 57.6 695.1 58.2 693.8 58.9 692.3 59.3ZM692.3 61.4L693.2 61.6 694.3 62.3 693.4 63 692.3 63.4ZM692.3 65.5L692.9 65.7 694.2 66.4 693.7 67.1 692.3 67.6ZM692.3 69.6L693 69.8 694.7 70.5 694 71.2 692.3 71.6ZM692.3 73.7L693.4 73.9 695.9 74.6 695.1 75.3 692.3 75.8ZM692.3 77.9L692.5 78 695.4 78.7 695.2 79.3 692.3 80ZM692.3 82L692.6 82.1 694 82.7 693.3 83.4 692.3 83.8ZM692.3 85.8L693.4 86.1 695.3 86.8 694.9 87.5 692.5 88.2 692.3 88.2ZM692.3 90.8L692.7 90.9 694.5 91.6 694.6 92.3 693.7 92.9 693.3 93.6 693.5 94.3 692.6 95 692.3 95.1ZM692.3 97.9L696.5 98.4 700.5 99.1 700.6 99.7 696.8 100.4 692.3 100.9ZM692.3 104.1L696.7 104.5 702.2 105.2 703.3 105.9 699.5 106.5 692.6 107.2 692.3 107.3ZM692.3 110.4L694.4 110.6 699.6 111.3 701.1 112 698.7 112.7 693.9 113.3 692.3 113.6ZM692.3 116.8L695 117.4 695.9 118.1 695.1 118.8 693.4 119.5 692.3 119.9ZM692.3 123.1L693 123.6 693.5 124.2 693.5 124.9 692.9 125.6 692.3 126.3ZM692.3 129.4L692.5 129.7 692.8 130.4 692.9 131 692.7 131.7 692.3 132.4ZM703.7 55L705.1 55.5 706.3 56.2 704.6 56.9 703.7 57.1ZM703.7 59.2L705.4 59.6 706.2 60.3 704.6 61 703.7 61.2ZM703.7 63.3L704.8 63.7 705.5 64.4 704.4 65 703.7 65.3ZM703.7 67.4L704.7 67.8 705.8 68.4 704.8 69.1 703.7 69.5ZM703.7 71.5L704.9 71.9 706.5 72.5 705.2 73.2 703.7 73.6ZM703.7 75.6L705.4 75.9 707.4 76.6 705.8 77.3 703.7 77.7ZM703.7 79.8L704.7 80 706.9 80.7 706 81.4 703.7 81.9ZM703.7 83.9L704.2 84.1 705.2 84.8 704.4 85.5 703.7 85.7ZM703.7 87.7L705.1 88.2 706.4 88.9 705.5 89.5 703.7 90ZM703.7 92.5L705.4 92.9 706.4 93.6 705.3 94.3 703.7 95ZM703.7 96L704.2 96.3 704.5 97 703.7 97.3ZM703.7 99.9L708.3 100.4 711.6 101.1 710.4 101.8 705.7 102.5 703.7 102.7ZM703.7 105.9L709.7 106.5 713.9 107.2 713.7 107.9 709 108.6 703.7 109.1ZM703.7 112.3L707.7 112.7 712.7 113.3 713.5 114 710.1 114.7 704.3 115.4 703.7 115.5ZM703.7 118.6L704.7 118.8 707.8 119.5 708.7 120.2 707.4 120.8 704.9 121.5 703.7 121.8ZM703.7 125L704.8 125.6 705.4 126.3 705.2 127 704.4 127.6 703.7 128.2ZM703.7 131.4L704 131.7 704.4 132.4 704.4 133.1 704.2 133.8 703.7 134.4ZM715.2 56.9L717 57.6 717.6 58.2 715.5 58.9 715.2 59ZM715.2 61.1L717.1 61.6 717.3 62.3 715.6 63 715.2 63.1ZM715.2 65.2L716.5 65.7 716.9 66.4 715.6 67.1 715.2 67.2ZM715.2 69.3L716.7 69.8 717.5 70.5 716 71.2 715.2 71.4ZM715.2 73.5L717.1 73.9 718.3 74.6 716.4 75.3 715.2 75.5ZM715.2 77.5L717.5 78 718.8 78.7 716.6 79.3 715.2 79.6ZM715.2 81.7L716.8 82.1 718.3 82.7 716.9 83.4 715.2 83.9ZM715.2 85.9L715.8 86.1 716.6 86.8 715.7 87.5 715.2 87.7ZM715.2 89.7L716.8 90.2 717.7 90.9 716.4 91.6 715.2 91.9ZM715.2 94.2L715.4 94.3 717.9 95 718 95.7 715.9 96.3 715.2 96.6ZM715.2 98.2L715.6 98.4 716.5 99.1 715.2 99.5ZM715.2 101.8L720.2 102.5 722.7 103.1 720.3 103.8 715.2 104.5ZM715.2 107.7L717 107.9 722.3 108.6 725 109.3 723.5 109.9 718.1 110.6 715.2 110.9ZM715.2 114.1L721.4 114.7 725.8 115.4 725.5 116.1 720.9 116.8 715.2 117.3ZM715.2 120.5L717.6 120.8 721.3 121.5 722 122.2 719.8 122.9 716.1 123.6 715.2 123.7ZM715.2 127L717 127.6 717.6 128.3 717.1 129 716 129.7 715.2 130.1ZM715.2 133.3L715.7 133.8 716.1 134.4 716.1 135.1 715.8 135.8 715.2 136.5Z" fill="#000"/><path d="M451.6 4.5V4.5L451.8 5.2 452.1 5.9 452.1 6.5 451.8 7.2 451.3 7.9 450.8 8.6 450.8 9.3 451.3 9.9 452.1 10.6 452.9 11.3 453 12 452.2 12.7 450.7 13.3 449.3 14 448.8 14.7 450 15.4 453.3 16.1 456.8 16.7 457.8 17.4 454.7 18.1 448.5 18.8 442.8 19.5 441.8 20.1 446.9 20.8 455.3 21.5 462 22.2 462.6 22.9 456.8 23.5 448.3 24.2 442.3 24.9 442.3 25.6 447.4 26.3 453.6 27 457.3 27.6 456.9 28.3 453.9 29 450.7 29.7 449.1 30.4 449.3 31 450.5 31.7 451.9 32.4 452.7 33.1 452.8 33.8 452.2 34.4 451.4 35.1 451 35.8 450.9 36.5 451.2 37.2 451.6 37.8 452 38.5 452 39.2 451.8 39.9 451.6 40.6 451.4 41.2 451.4 41.9 451.6 42.6V222.2M463.1 4.5V4.5L462.8 5.2 462.8 5.9 463.1 6.5 463.3 7.2 463.6 7.9 463.6 8.6 463.3 9.3 462.8 9.9 462.4 10.6 462.4 11.3 462.8 12 463.6 12.7 464.2 13.3 464.3 14 463.6 14.7 462.5 15.4 461.6 16.1 461 16.7 461.5 17.4 463.7 18.1 466.6 18.8 467.9 19.5 465.8 20.1 461.1 20.8 456.5 21.5 455.1 22.2 458.6 22.9 465.6 23.5 472.1 24.2 473.7 24.9 469.1 25.6 460.8 26.3 453.7 27 452.1 27.6 456.8 28.3 464.7 29 470.9 29.7 472 30.4 468.1 31 462.4 31.7 458.4 32.4 457.9 33.1 460.2 33.8 463.3 34.4 465.3 35.1 465.6 35.8 464.5 36.5 463.1 37.2 462.1 37.8 461.8 38.5 462.3 39.2 463.1 39.9 463.7 40.6 463.9 41.2 463.6 41.9 463.1 42.6 462.8 43.3 462.6 44 462.8 44.6 463.1 45.3 463.3 46 463.4 46.7 463.3 47.4 463.1 48V222.2M474.5 4.5V4.5L474.5 5.2 474.5 5.9 474.3 6.5 474.2 7.2 474.3 7.9 474.5 8.6 474.7 9.3 474.9 9.9 474.9 10.6 474.5 11.3 474.2 12 473.8 12.7 473.9 13.3 474.3 14 474.9 14.7 475.5 15.4 475.5 16.1 474.9 16.7 474.2 17.4 473.6 18.1 472.9 18.8 472.7 19.5 474.2 20.1 477 20.8 478.5 21.5 477.1 22.2 473.2 22.9 469.5 23.5 468.2 24.2 470.7 24.9 476.2 25.6 481.8 26.3 483.8 27 480.4 27.6 473 28.3 465.9 29 463.5 29.7 467.3 30.4 475.3 31 482.7 31.7 485.2 32.4 481.7 33.1 474.5 33.8 468.2 34.4 466.2 35.1 469 35.8 474 36.5 478.1 37.2 479.3 37.8 477.7 38.5 475 39.2 472.8 39.9 472.1 40.6 472.8 41.2 474.1 41.9 475.3 42.6 475.8 43.3 475.5 44 474.8 44.6 474.1 45.3 473.7 46 473.8 46.7 474.3 47.4 474.7 48 475 48.7 474.9 49.4 474.7 50.1 474.5 50.8 474.2 51.4 474.2 52.1 474.5 52.8 474.5 53.5 474.7 54.2 474.7 54.8 474.5 55.5V222.2M486 4.5V5.9L486.2 6.5 486 7.2 486 7.9 485.8 8.6 485.7 9.3 485.8 9.9 486 10.6 486.2 11.3 486.4 12 486.3 12.7 486 13.3 485.7 14 485.4 14.7 485.4 15.4 485.8 16.1 486.4 16.7 486.9 17.4 486.8 18.1 486.3 18.8 486 19.5 485.4 20.1 484.6 20.8 484.1 21.5 485.3 22.2 488.1 22.9 489.7 23.5 488.4 24.2 485.1 24.9 481.9 25.6 481 26.3 483 27 487.3 27.6 491.7 28.3 493.6 29 491.2 29.7 485.1 30.4 478.7 31 475.9 31.7 478.8 32.4 486 33.1 493.6 33.8 497 34.4 494.2 35.1 486.9 35.8 479.3 36.5 475.8 37.2 478.2 37.8 484.5 38.5 490.7 39.2 493.4 39.9 491.8 40.6 487.5 41.2 483.5 41.9 481.7 42.6 482.6 43.3 484.9 44 487.1 44.6 488.2 45.3 487.9 46 486.7 46.7 485.5 47.4 484.8 48 484.9 48.7 485.5 49.4 486.2 50.1 486.7 50.8 486.8 51.4 486.4 52.1 486 52.8 485.6 53.5 485.5 54.2 485.7 54.8 486 55.5 486.3 56.2 486.3 56.9 486.2 57.6 486 58.2 486 58.9 485.8 59.6 486 60.3V222.2M497.5 4.5V9.9L497.3 10.6 497.3 11.3 497.3 12 497.5 12.7 497.7 13.3 497.9 14 497.8 14.7 497.5 15.4 497.2 16.1 497 16.7 497 17.4 497.5 18.1 497.9 18.8 498.3 19.5 498.2 20.1 497.8 20.8 497.5 21.5 497.1 22.2 496.1 22.9 495.6 23.5 496.9 24.2 499.5 24.9 500.9 25.6 499.6 26.3 496.5 27 493.8 27.6 493.3 28.3 495.4 29 498.9 29.7 502.2 30.4 503.5 31 501.6 31.7 496.8 32.4 491.3 33.1 488.6 33.8 490.8 34.4 497.3 35.1 504.6 35.8 508.3 36.5 506.1 37.2 499 37.8 490.9 38.5 486.5 39.2 488.2 39.9 494.9 40.6 502.7 41.2 507 41.9 505.9 42.6 500.5 43.3 494.3 44 490.9 44.6 491.5 45.3 495 46 499 46.7 501.2 47.4 501 48 499.2 48.7 497 49.4 495.6 50.1 495.5 50.8 496.4 51.4 497.5 52.1 498.5 52.8 498.7 53.5 498.3 54.2 497.5 54.8 496.9 55.5 496.7 56.2 496.9 56.9 497.5 57.6 497.8 58.2 498 58.9 497.9 59.6 497.5 60.3 497.3 61 497.2 61.6 497.2 62.3 497.5 63 497.5 63.7 497.7 64.4 497.7 65 497.5 65.7V222.2M508.9 4.5V12L508.7 12.7 508.7 13.3 508.9 14 508.9 14.7 509.1 15.4 509.2 16.1 509.1 16.7 508.9 17.4 508.6 18.1 508.4 18.8 508.5 19.5 508.9 20.1 509.3 20.8 509.6 21.5 509.4 22.2 509.2 22.9 509.1 23.5 508.5 24.2 507.4 24.9 507.1 25.6 508.5 26.3 510.9 27 511.9 27.6 510.5 28.3 507.7 29 505.5 29.7 505.5 30.4 507.7 31 510.8 31.7 512.9 32.4 513.3 33.1 511.5 33.8 508 34.4 504 35.1 501.7 35.8 503.3 36.5 508.6 37.2 515.1 37.8 518.8 38.5 517.1 39.2 510.6 39.9 502.7 40.6 497.9 41.2 499.1 41.9 505.7 42.6 514 43.3 519.5 44 519 44.6 513.1 45.3 505.5 46 500.4 46.7 500.3 47.4 504.7 48 510.5 48.7 514.4 49.4 514.8 50.1 512.1 50.8 508.5 51.4 506 52.1 505.5 52.8 506.8 53.5 508.9 54.2 510.3 54.8 510.8 55.5 510.2 56.2 509.1 56.9 508.2 57.6 507.7 58.2 508 58.9 508.6 59.6 509.3 60.3 509.7 61 509.6 61.6 509.2 62.3 508.7 63 508.4 63.7 508.4 64.4 508.7 65 508.9 65.7 509.2 66.4 509.2 67.1 509.1 67.8 508.9 68.4 508.7 69.1 508.7 69.8 508.9 70.5V222.2M520.4 4.5V14L520.2 14.7 520.2 15.4 520.4 16.1 520.4 16.7 520.6 17.4 520.7 18.1 520.4 18.8 520.4 19.5 520.1 20.1 520 20.8 520.1 21.5 520.4 22.2 520.8 22.9 521 23.5 520.8 24.2 520.7 24.9 520.6 25.6 520 26.3 518.8 27 518.7 27.6 520.4 28.3 522.5 29 523.1 29.7 521.6 30.4 518.9 31 517.2 31.7 517.7 32.4 520.1 33.1 522.8 33.8 523.9 34.4 523.1 35.1 521.2 35.8 519 36.5 516.9 37.2 515.5 37.8 516.3 38.5 520.1 39.2 525.6 39.9 529 40.6 527.8 41.2 521.9 41.9 514.5 42.6 509.7 43.3 510.6 44 517 44.6 525.5 45.3 531.4 46 531.4 46.7 525.5 47.4 516.9 48 510.5 48.7 509.7 49.4 514.5 50.1 522 50.8 527.7 51.4 529 52.1 525.7 52.8 520.4 53.5 516 54.2 514.8 54.8 516.6 55.5 519.8 56.2 522.5 56.9 523.6 57.6 522.8 58.2 521.1 58.9 519.4 59.6 518.7 60.3 518.9 61 519.8 61.6 520.8 62.3 521.4 63 521.4 63.7 520.9 64.4 520.2 65 519.7 65.7 519.7 66.4 519.9 67.1 520.4 67.8 520.8 68.4 520.9 69.1 520.8 69.8 520.4 70.5 520.2 71.2 520.1 71.9 520.1 72.5 520.4 73.2 520.4 73.9 520.6 74.6 520.6 75.3 520.4 75.9V222.2M531.8 4.5V18.8L532 19.5 532 20.1 531.8 20.8 531.8 21.5 531.5 22.2 531.5 22.9 531.6 23.5 531.8 24.2 532.2 24.9 532.3 25.6 532.1 26.3 532.1 27 532.1 27.6 531.3 28.3 530.3 29 530.3 29.7 532 30.4 533.9 31 534.1 31.7 532.4 32.4 530.1 33.1 528.9 33.8 529.9 34.4 532.4 35.1 534.4 35.8 534.5 36.5 532.8 37.2 531 37.8 530.3 38.5 530.1 39.2 529.6 39.9 529.4 40.6 531.1 41.2 534.9 41.9 538.1 42.6 537.6 43.3 533 44 526.8 44.6 522.8 45.3 523.5 46 528.9 46.7 536.4 47.4 541.9 48 542.1 48.7 536.7 49.4 528.6 50.1 522.1 50.8 520.8 51.4 525.4 52.1 533.1 52.8 539.8 53.5 541.9 54.2 538.5 54.8 532.2 55.5 526.4 56.2 524.3 56.9 526.2 57.6 530.5 58.2 534.6 58.9 536.4 59.6 535.6 60.3 533.1 61 530.6 61.6 529.3 62.3 529.5 63 530.7 63.7 532.2 64.4 533.2 65 533.3 65.7 532.7 66.4 531.8 67.1 531 67.8 530.8 68.4 531.1 69.1 531.8 69.8 532.2 70.5 532.5 71.2 532.3 71.9 532 72.5 531.6 73.2 531.3 73.9 531.4 74.6 531.6 75.3 531.8 75.9 532.1 76.6 532.1 77.3 532 78 531.8 78.7 531.6 79.3 531.6 80 531.8 80.7V222.2M543.3 4.5V20.8L543.5 21.5 543.3 22.2 543.3 22.9 543.3 23.5 543 24.2 543.1 24.9 543.3 25.6 543.5 26.3 543.7 27 543.6 27.6 543.5 28.3 543.7 29 543.6 29.7 542.7 30.4 541.7 31 542 31.7 543.8 32.4 545.5 33.1 545.4 33.8 543.5 34.4 541.2 35.1 540.4 35.8 542 36.5 544.7 37.2 546.1 37.8 545.2 38.5 543 39.2 541.7 39.9 542.1 40.6 543.3 41.2 543.1 41.9 541.8 42.6 541.8 43.3 544.5 44 547.9 44.6 548.5 45.3 544.8 46 539.2 46.7 535.6 47.4 536.3 48 541.1 48.7 547.7 49.4 552.5 50.1 552.7 50.8 547.8 51.4 540.1 52.1 533.7 52.8 532.4 53.5 536.8 54.2 544.6 54.8 551.7 55.5 554.3 56.2 551.1 56.9 544 57.6 537.1 58.2 533.9 58.9 535.9 59.6 541.3 60.3 546.9 61 549.8 61.6 549 62.3 545.6 63 541.8 63.7 539.6 64.4 539.6 65 541.4 65.7 543.6 66.4 545.2 67.1 545.5 67.8 544.7 68.4 543.3 69.1 542.3 69.8 541.9 70.5 542.3 71.2 543 71.9 543.8 72.5 544.2 73.2 544.1 73.9 543.6 74.6 543.1 75.3 542.7 75.9 542.7 76.6 543 77.3 543.3 78 543.7 78.7 543.7 79.3 543.6 80 543.3 80.7 543.1 81.4 543 82.1 543.1 82.7 543.3 83.4 543.3 84.1 543.5 84.8 543.3 85.5V222.2M554.8 4.5V24.9L554.6 25.6 554.6 26.3 554.6 27 554.8 27.6 555 28.3 555.1 29 555 29.7 555 30.4 555.2 31 555.1 31.7 554.1 32.4 553.2 33.1 553.7 33.8 555.6 34.4 557.1 35.1 556.7 35.8 554.5 36.5 552.3 37.2 552.1 37.8 554.3 38.5 557 39.2 557.7 39.9 555.9 40.6 553.4 41.2 552.7 41.9 554.2 42.6 555.8 43.3 555.5 44 553.5 44.6 552.6 45.3 554.8 46 558.3 46.7 559.6 47.4 556.6 48 551.4 48.7 548 49.4 548.9 50.1 553.5 50.8 559 51.4 562.8 52.1 562.7 52.8 558.3 53.5 551.5 54.2 545.9 54.8 544.6 55.5 548.8 56.2 556.3 56.9 563.2 57.6 565.8 58.2 562.7 58.9 555.5 59.6 548.1 60.3 544.4 61 546.2 61.6 552.2 62.3 559 63 562.9 63.7 562.4 64.4 558.2 65 553 65.7 549.6 66.4 549.4 67.1 551.8 67.8 555.1 68.4 557.5 69.1 558.1 69.8 557 70.5 555.2 71.2 553.6 71.9 552.9 72.5 553.3 73.2 554.3 73.9 555.3 74.6 555.9 75.3 555.9 75.9 555.3 76.6 554.6 77.3 554.1 78 554 78.7 554.3 79.3 554.8 80 555.2 80.7 555.4 81.4 555.2 82.1 554.8 82.7 554.6 83.4 554.4 84.1 554.5 84.8 554.8 85.5 554.8 86.1 555 86.8 555 87.5 554.8 88.2 554.8 88.9 554.8 89.5 554.6 90.2 554.8 90.9V222.2M566.2 4.5V27.6L566 28.3 566.2 29 566.2 29.7 566.4 30.4 566.4 31 566.2 31.7 566.4 32.4 566.7 33.1 566.5 33.8 565.3 34.4 564.5 35.1 565.3 35.8 567.4 36.5 568.7 37.2 567.9 37.8 565.3 38.5 563.2 39.2 563.7 39.9 566.5 40.6 569.1 41.2 569.1 41.9 566.4 42.6 563.9 43.3 564 44 566.2 44.6 568 45.3 567.2 46 564.8 46.7 563.8 47.4 565.9 48 569.4 48.7 570.7 49.4 567.9 50.1 562.9 50.8 560 51.4 561.3 52.1 565.8 52.8 570.6 53.5 573.2 54.2 572.5 54.8 568.5 55.5 562.7 56.2 558 56.9 557.1 57.6 561.1 58.2 568.1 58.9 574.7 59.6 577 60.3 573.8 61 566.6 61.6 559.1 62.3 555.2 63 557 63.7 563.4 64.4 571 65 575.8 65.7 575.4 66.4 570.5 67.1 564 67.8 559.4 68.4 558.7 69.1 561.8 69.8 566.4 70.5 570 71.2 571.2 71.9 569.7 72.5 566.9 73.2 564.5 73.9 563.4 74.6 563.8 75.3 565.3 75.9 566.8 76.6 567.8 77.3 567.8 78 567.1 78.7 566.2 79.3 565.3 80 565.1 80.7 565.4 81.4 566.2 82.1 566.7 82.7 566.9 83.4 566.8 84.1 566.4 84.8 566 85.5 565.7 86.1 565.7 86.8 565.9 87.5 566.2 88.2 566.5 88.9 566.5 89.5 566.4 90.2 566.2 90.9 566 91.6 566 92.3 566 92.9 566.2 93.6V222.2M577.7 4.5V31.7L577.9 32.4 577.7 33.1 577.7 33.8 577.9 34.4 578.3 35.1 577.9 35.8 576.6 36.5 575.8 37.2 577 37.8 579.3 38.5 580.5 39.2 579 39.9 576.1 40.6 574.3 41.2 575.5 41.9 578.9 42.6 581.2 43.3 580.2 44 577 44.6 574.8 45.3 575.7 46 578.4 46.7 580 47.4 578.6 48 576.1 48.7 575.3 49.4 577.5 50.1 580.6 50.8 581.4 51.4 578.7 52.1 574.5 52.8 572.3 53.5 574 54.2 578.3 54.8 582.3 55.5 583.6 56.2 582 56.9 578.3 57.6 574 58.2 570.7 58.9 570.4 59.6 573.9 60.3 580.1 61 585.8 61.6 587.7 62.3 584.4 63 577.4 63.7 570.3 64.4 566.7 65 568.7 65.7 575.3 66.4 583.1 67.1 588.1 67.8 587.8 68.4 582.4 69.1 575 69.8 569.5 70.5 568.5 71.2 572 71.9 577.9 72.5 582.8 73.2 584.5 73.9 582.7 74.6 578.9 75.3 575.3 75.9 573.5 76.6 574.1 77.3 576.2 78 578.5 78.7 579.9 79.3 580 80 579 80.7 577.7 81.4 576.6 82.1 576.2 82.7 576.6 83.4 577.4 84.1 578.2 84.8 578.7 85.5 578.6 86.1 578.1 86.8 577.5 87.5 577.1 88.2 577 88.9 577.3 89.5 577.7 90.2 578.1 90.9 578.2 91.6 578.1 92.3 577.7 92.9 577.5 93.6 577.4 94.3 577.4 95 577.7 95.7 577.7 96.3 577.9 97 577.9 97.7 577.7 98.4V222.2M589.1 4.5V33.8L589.3 34.4 589.1 35.1 589.1 35.8 589.5 36.5 589.9 37.2 589.1 37.8 587.6 38.5 587 39.2 588.7 39.9 591.3 40.6 592.1 41.2 590 41.9 586.7 42.6 585.4 43.3 587.5 44 591.2 44.6 593 45.3 591.1 46 587.5 46.7 585.9 47.4 587.5 48 590.4 48.7 591.5 49.4 589.7 50.1 587.2 50.8 586.9 51.4 589.1 52.1 591.9 52.8 592.1 53.5 589.4 54.2 586 54.8 584.7 55.5 586.7 56.2 590.6 56.9 593.6 57.6 593.9 58.2 591.5 58.9 588.1 59.6 585.2 60.3 583.7 61 584.1 61.6 587 62.3 591.8 63 596.4 63.7 597.8 64.4 594.6 65 588 65.7 581.4 66.4 578.3 67.1 580.6 67.8 587.4 68.4 595.2 69.1 600.1 69.8 599.5 70.5 593.7 71.2 585.7 71.9 579.6 72.5 578.4 73.2 582.5 73.9 589.6 74.6 595.7 75.3 598.1 75.9 595.8 76.6 590.8 77.3 585.7 78 583.1 78.7 583.7 79.3 586.7 80 590.2 80.7 592.4 81.4 592.6 82.1 591.2 82.7 589.1 83.4 587.5 84.1 587 84.8 587.5 85.5 588.6 86.1 589.8 86.8 590.4 87.5 590.3 88.2 589.7 88.9 588.9 89.5 588.3 90.2 588.2 90.9 588.5 91.6 589.1 92.3 589.5 92.9 589.7 93.6 589.6 94.3 589.3 95 588.9 95.7 588.7 96.3 588.7 97 588.9 97.7 589.1 98.4 589.3 99.1 589.4 99.7 589.3 100.4 589.1 101.1 589.1 101.8 588.9 102.5 588.9 103.1 589.1 103.8V222.2M600.6 4.5V37.8L601.2 38.5 601.6 39.2 600.6 39.9 598.7 40.6 598.4 41.2 600.6 41.9 603.3 42.6 603.5 43.3 600.8 44 597.6 44.6 597 45.3 599.8 46 603.4 46.7 604.4 47.4 601.8 48 598.4 48.7 597.4 49.4 599.6 50.1 602.3 50.8 602.8 51.4 600.8 52.1 598.7 52.8 598.8 53.5 601.1 54.2 603.1 54.8 602.9 55.5 600.3 56.2 597.7 56.9 597.1 57.6 599.3 58.2 602.5 58.9 604.6 59.6 604 60.3 601.3 61 598.4 61.6 597 62.3 597.3 63 598.4 63.7 600.1 64.4 602.7 65 605.8 65.7 607.1 66.4 604.7 67.1 599 67.8 593.3 68.4 591.1 69.1 593.6 69.8 600 70.5 607.1 71.2 611.4 71.9 610.3 72.5 604.4 73.2 596.5 73.9 590.5 74.6 589.6 75.3 594.1 75.9 601.6 76.6 608.4 77.3 610.9 78 608.4 78.7 602.3 79.3 596.1 80 592.8 80.7 593.6 81.4 597.5 82.1 602.2 82.7 605.3 83.4 605.6 84.1 603.7 84.8 600.6 85.5 598.4 86.1 597.6 86.8 598.3 87.5 599.9 88.2 601.4 88.9 602.3 89.5 602.2 90.2 601.4 90.9 600.4 91.6 599.7 92.3 599.5 92.9 599.8 93.6 600.6 94.3 601.1 95 601.4 95.7 601.3 96.3 600.9 97 600.4 97.7 600.1 98.4 600.1 99.1 600.3 99.7 600.6 100.4 600.9 101.1 601 101.8 600.9 102.5 600.6 103.1 600.6 103.8 600.4 104.5 600.4 105.2 600.6 105.9 600.6 106.5 600.6 107.2 600.8 107.9 600.6 108.6V222.2M612 4.5V38.5L611.8 39.2 612 39.9 612.9 40.6 613.1 41.2 611.6 41.9 609.6 42.6 609.9 43.3 612.6 44 615.1 44.6 614.7 45.3 611.5 46 608.5 46.7 608.8 47.4 612 48 615.3 48.7 615.4 49.4 612.4 50.1 609.4 50.8 609.2 51.4 611.6 52.1 613.9 52.8 613.9 53.5 612 54.2 610.2 54.8 610.7 55.5 612.7 56.2 614.2 56.9 613.6 57.6 611.3 58.2 609.3 58.9 609.3 59.6 611.5 60.3 614.3 61 615.5 61.6 614.2 62.3 611.4 63 609.3 63.7 609.2 64.4 610.7 65 612 65.7 612.4 66.4 612.9 67.1 614.8 67.8 616.4 68.4 615.3 69.1 610.8 69.8 605.8 70.5 603.9 71.2 606.6 71.9 612.5 72.5 618.6 73.2 621.9 73.9 620.4 74.6 614.5 75.3 607.1 75.9 601.8 76.6 601.4 77.3 606.2 78 613.9 78.7 620.6 79.3 623 80 620 80.7 613.4 81.4 606.4 82.1 602.7 82.7 603.6 83.4 608.4 84.1 614.2 84.8 618.2 85.5 618.7 86.1 616.1 86.8 612 87.5 608.8 88.2 607.6 88.9 608.7 89.5 610.9 90.2 613.2 90.9 614.4 91.6 614.3 92.3 613.2 92.9 611.8 93.6 610.8 94.3 610.5 95 610.9 95.7 611.7 96.3 612.6 97 613 97.7 612.9 98.4 612.4 99.1 611.8 99.7 611.4 100.4 611.3 101.1 611.5 101.8 612 102.5 612.3 103.1 612.5 103.8 612.4 104.5 612.2 105.2 612 105.9 611.7 106.5 611.7 107.2 611.8 107.9 612 108.6 612.2 109.3 612.2 109.9 612.2 110.6 612 111.3V222.2M623.5 4.5V40.6L623.2 41.2 623.8 41.9 624.8 42.6 624.6 43.3 622.6 44 620.7 44.6 621.6 45.3 624.7 46 626.9 46.7 625.8 47.4 622.3 48 619.8 48.7 620.8 49.4 624.4 50.1 627 50.8 626.3 51.4 623.1 52.1 620.7 52.8 621.2 53.5 623.5 54.2 625.5 54.8 625 55.5 623.1 56.2 621.9 56.9 622.6 57.6 624.4 58.2 625.5 58.9 624.6 59.6 622.5 60.3 620.9 61 621.4 61.6 623.7 62.3 626.2 63 626.6 63.7 624.7 64.4 621.8 65 620.5 65.7 621.6 66.4 623.7 67.1 624.7 67.8 624 68.4 623.2 69.1 624.3 69.8 626.6 70.5 626.7 71.2 623.2 71.9 618.3 72.5 616.3 73.2 619.1 73.9 624.9 74.6 630.2 75.3 632.2 75.9 630.1 76.6 624.6 77.3 618 78 613.6 78.7 613.9 79.3 619 80 626.5 80.7 632.7 81.4 634.5 82.1 631 82.7 624 83.4 616.8 84.1 613.1 84.8 614.4 85.5 619.9 86.1 626.7 86.8 631.4 87.5 631.9 88.2 628.5 88.9 623.3 89.5 619 90.2 617.5 90.9 618.9 91.6 622.1 92.3 625.2 92.9 627 93.6 626.8 94.3 625.2 95 623.3 95.7 621.8 96.3 621.4 97 622 97.7 623.1 98.4 624.2 99.1 624.8 99.7 624.7 100.4 624.1 101.1 623.3 101.8 622.8 102.5 622.6 103.1 622.9 103.8 623.5 104.5 623.9 105.2 624.1 105.9 624 106.5 623.7 107.2 623.5 107.9 623.1 108.6 623.1 109.3 623.2 109.9 623.5 110.6 623.7 111.3 623.8 112 623.7 112.7 623.5 113.3 623.5 114 623.3 114.7 623.3 115.4 623.5 116.1V222.2M635 4.5V41.9L634.8 42.6 634.7 43.3 635.6 44 636.7 44.6 636 45.3 633.5 46 631.8 46.7 633.5 47.4 636.8 48 638.5 48.7 636.7 49.4 633.2 50.1 631.3 50.8 633 51.4 636.6 52.1 638.4 52.8 637 53.5 634 54.2 632.2 54.8 633.2 55.5 635.6 56.2 636.9 56.9 636.2 57.6 634.4 58.2 633.5 58.9 634.4 59.6 636 60.3 636.8 61 635.7 61.6 633.7 62.3 632.4 63 633.3 63.7 635.9 64.4 638 65 637.8 65.7 635.2 66.4 632.5 67.1 632 67.8 634.1 68.4 636.5 69.1 636.8 69.8 635 70.5 633.9 71.2 635 71.9 637.5 72.5 638.2 73.2 635.2 73.9 630.4 74.6 628.5 75.3 631.5 75.9 637.3 76.6 641.8 77.3 642.6 78 639.6 78.7 634.4 79.3 629.1 80 625.9 80.7 626.9 81.4 632.1 82.1 639.1 82.7 644.5 83.4 645.5 84.1 641.5 84.8 634.3 85.5 627.3 86.1 624 86.8 625.9 87.5 632.1 88.2 639.4 88.9 644.3 89.5 644.6 90.2 640.4 90.9 634.2 91.6 629 92.3 627.2 92.9 629.1 93.6 633.4 94.3 637.6 95 640 95.7 639.6 96.3 637.4 97 634.5 97.7 632.5 98.4 632 99.1 632.9 99.7 634.5 100.4 636 101.1 636.7 101.8 636.6 102.5 635.8 103.1 634.8 103.8 634.1 104.5 633.9 105.2 634.2 105.9 634.8 106.5 635.4 107.2 635.8 107.9 635.7 108.6 635.4 109.3 635 109.9 634.5 110.6 634.5 111.3 634.6 112 635 112.7 635.2 113.3 635.4 114 635.3 114.7 635.2 115.4 635 116.1 634.8 116.8 634.8 117.4 634.8 118.1 635 118.8 635 119.5 635.2 120.2 635 120.8V222.2M646.4 4.5V44L646 44.6 646.2 45.3 647.4 46 648.4 46.7 647.1 47.4 644.2 48 643.1 48.7 645.4 49.4 648.8 50.1 649.8 50.8 647.5 51.4 644.1 52.1 643 52.8 645.2 53.5 648.4 54.2 649.5 54.8 647.7 55.5 644.9 56.2 643.8 56.9 645.2 57.6 647.3 58.2 648.2 58.9 647.3 59.6 645.6 60.3 645 61 646 61.6 647.5 62.3 648.1 63 646.9 63.7 644.8 64.4 643.9 65 645.2 65.7 647.9 66.4 649.7 67.1 648.7 67.8 645.6 68.4 643.2 69.1 643.6 69.8 646.4 70.5 648.8 71.2 648.4 71.9 646 72.5 644.6 73.2 646 73.9 648.6 74.6 649.2 75.3 646.4 75.9 642.2 76.6 640.8 77.3 644 78 649.5 78.7 653.1 79.3 652.6 80 648.8 80.7 644.1 81.4 640.3 82.1 638.8 82.7 640.5 83.4 645.3 84.1 651.3 84.8 655.6 85.5 655.8 86.1 651.3 86.8 644.2 87.5 637.9 88.2 635.4 88.9 638.1 89.5 644.7 90.2 652.1 90.9 656.8 91.6 656.5 92.3 651.6 92.9 644.5 93.6 638.7 94.3 636.9 95 639.6 95.7 645 96.3 650.3 97 653.2 97.7 652.6 98.4 649.4 99.1 645.5 99.7 642.7 100.4 642.1 101.1 643.5 101.8 645.8 102.5 647.8 103.1 648.8 103.8 648.6 104.5 647.5 105.2 646.1 105.9 645.2 106.5 644.9 107.2 645.3 107.9 646.2 108.6 646.9 109.3 647.4 109.9 647.3 110.6 646.9 111.3 646.4 112 645.8 112.7 645.7 113.3 645.9 114 646.4 114.7 646.7 115.4 646.9 116.1 646.8 116.8 646.6 117.4 646.4 118.1 646.1 118.8 646.1 119.5 646.2 120.2 646.4 120.8 646.4 121.5 646.6 122.2 646.6 122.9 646.4 123.6V222.2M657.9 4.5V45.3L657.7 46 657.4 46.7 657.9 47.4 659.4 48 660.1 48.7 658.2 49.4 655.1 50.1 654.7 50.8 657.5 51.4 660.7 52.1 661.1 52.8 658.3 53.5 655.2 54.2 654.9 54.8 657.4 55.5 660.2 56.2 660.6 56.9 658.5 57.6 656.2 58.2 655.6 58.9 657.2 59.6 659.1 60.3 659.6 61 658.5 61.6 656.9 62.3 656.5 63 657.6 63.7 659.2 64.4 659.6 65 658.1 65.7 656 66.4 655.3 67.1 657.1 67.8 660.1 68.4 661.4 69.1 659.6 69.8 656.1 70.5 654.2 71.2 655.6 71.9 659 72.5 660.9 73.2 659.7 73.9 656.9 74.6 655.8 75.3 657.5 75.9 660 76.6 660.3 77.3 657.5 78 654.2 78.7 653.6 79.3 656.8 80 661.4 80.7 663.9 81.4 662.4 82.1 658.3 82.7 654.3 83.4 652.1 84.1 652.3 84.8 654.6 85.5 658.6 86.1 663.1 86.8 666.1 87.5 665.5 88.2 660.9 88.9 654.3 89.5 648.9 90.2 647.5 90.9 650.9 91.6 657.9 92.3 665 92.9 668.9 93.6 667.8 94.3 662.1 95 654.5 95.7 648.7 96.3 647.3 97 650.8 97.7 657.3 98.4 663.5 99.1 666.6 99.7 665.5 100.4 661.2 101.1 656.1 101.8 652.6 102.5 651.9 103.1 654 103.8 657.3 104.5 660.2 105.2 661.5 105.9 661 106.5 659.3 107.2 657.4 107.9 656.1 108.6 655.8 109.3 656.5 109.9 657.6 110.6 658.6 111.3 659.2 112 659.1 112.7 658.5 113.3 657.9 114 657.2 114.7 657 115.4 657.2 116.1 657.7 116.8 658.2 117.4 658.5 118.1 658.5 118.8 658.2 119.5 657.9 120.2 657.6 120.8 657.5 121.5 657.6 122.2 657.9 122.9 657.9 123.6 658.2 124.2 658.2 124.9 658.1 125.6 657.9 126.3 657.9 127 657.7 127.6 657.9 128.3V222.2M669.3 4.5V47.4L669 48 668.6 48.7 669.5 49.4 671.3 50.1 671.5 50.8 668.9 51.4 666 52.1 666.4 52.8 669.6 53.5 672.4 54.2 672 54.8 669.1 55.5 666.5 56.2 666.9 56.9 669.3 57.6 671.6 58.2 671.5 58.9 669.3 59.6 667.4 60.3 667.4 61 669.1 61.6 670.7 62.3 670.9 63 669.6 63.7 668 64.4 667.8 65 669.3 65.7 670.9 66.4 671.1 67.1 669.3 67.8 667 68.4 666.7 69.1 669.1 69.8 672.2 70.5 672.9 71.2 670.2 71.9 666.6 72.5 665.4 73.2 667.7 73.9 671.3 74.6 672.6 75.3 670.7 75.9 667.8 76.6 667 77.3 669 78 671.4 78.7 671.3 79.3 668.6 80 666 80.7 666.2 81.4 669.3 82.1 672.8 82.7 674.1 83.4 672 84.1 668.2 84.8 665.1 85.5 664.5 86.1 666 86.8 668.6 87.5 671.4 88.2 673.9 88.9 675.4 89.5 674.5 90.2 670.5 90.9 664.9 91.6 660.6 92.3 660.3 92.9 664.3 93.6 671.1 94.3 677.4 95 680.3 95.7 678.1 96.3 671.8 97 664.3 97.7 659 98.4 658.4 99.1 662.8 99.7 670 100.4 676.7 101.1 679.6 101.8 677.8 102.5 672.4 103.1 666.1 103.8 662 104.5 661.6 105.2 664.5 105.9 669.1 106.5 672.9 107.2 674.5 107.9 673.6 108.6 671.1 109.3 668.3 109.9 666.6 110.6 666.3 111.3 667.4 112 669 112.7 670.4 113.3 671 114 670.9 114.7 670.1 115.4 669.1 116.1 668.4 116.8 668.2 117.4 668.5 118.1 669.1 118.8 669.7 119.5 670 120.2 670 120.8 669.7 121.5 669.3 122.2 668.9 122.9 668.7 123.6 668.9 124.2 669.1 124.9 669.3 125.6 669.6 126.3 669.7 127 669.5 127.6 669.3 128.3 669.1 129 669.1 129.7 669.1 130.4 669.3 131V222.2M680.8 4.5V49.4L680.3 50.1 680.1 50.8 681.4 51.4 683.2 52.1 682.8 52.8 679.8 53.5 677.4 54.2 678.5 54.8 681.7 55.5 683.8 56.2 682.9 56.9 680 57.6 678.2 58.2 679 58.9 681.4 59.6 683 60.3 682.4 61 680.4 61.6 678.9 62.3 679.3 63 681 63.7 682.4 64.4 682.3 65 680.8 65.7 679.2 66.4 679.3 67.1 681 67.8 682.8 68.4 682.6 69.1 680.3 69.8 678.1 70.5 678.4 71.2 681.2 71.9 684.1 72.5 684 73.2 680.8 73.9 677.5 74.6 677.1 75.3 680.1 75.9 683.4 76.6 684 77.3 681.6 78 678.9 78.7 678.7 79.3 680.8 80 682.7 80.7 682.3 81.4 679.9 82.1 678 82.7 678.7 83.4 681.5 84.1 684.1 84.8 684.3 85.5 682 86.1 678.9 86.8 676.9 87.5 677.4 88.2 679.6 88.9 682 89.5 683.4 90.2 683.9 90.9 684.2 91.6 683.6 92.3 681 92.9 676.9 93.6 673.5 94.3 673.7 95 677.9 95.7 684.1 96.3 689.1 97 690.7 97.7 687.7 98.4 681.3 99.1 674.3 99.7 670.1 100.4 670.7 101.1 675.9 101.8 683.3 102.5 689.5 103.1 691.8 103.8 689.1 104.5 682.8 105.2 676 105.9 671.8 106.5 671.8 107.2 675.8 107.9 681.4 108.6 686.1 109.3 687.8 109.9 686.2 110.6 682.7 111.3 679 112 676.8 112.7 676.7 113.3 678.3 114 680.6 114.7 682.5 115.4 683.2 116.1 682.9 116.8 681.7 117.4 680.4 118.1 679.6 118.8 679.3 119.5 679.8 120.2 680.5 120.8 681.3 121.5 681.7 122.2 681.7 122.9 681.3 123.6 680.8 124.2 680.3 124.9 680.1 125.6 680.2 126.3 680.6 127 681 127.6 681.2 128.3 681.3 129 681.1 129.7 680.8 130.4 680.6 131 680.5 131.7 680.5 132.4 680.8 133.1 680.8 133.8 681 134.4 681 135.1 680.8 135.8V222.2M692.3 4.5V51.4L691.6 52.1 691.7 52.8 693.3 53.5 694.9 54.2 693.8 54.8 690.7 55.5 689 56.2 690.6 56.9 693.7 57.6 695.1 58.2 693.8 58.9 691.2 59.6 689.9 60.3 691.1 61 693.2 61.6 694.3 62.3 693.4 63 691.6 63.7 690.4 64.4 691.1 65 692.9 65.7 694.2 66.4 693.7 67.1 691.8 67.8 690.3 68.4 690.8 69.1 693 69.8 694.7 70.5 694 71.2 691.3 71.9 689.3 72.5 690.1 73.2 693.4 73.9 695.9 74.6 695.1 75.3 691.5 75.9 688.6 76.6 689.1 77.3 692.5 78 695.4 78.7 695.2 79.3 692.3 80 690.2 80.7 690.4 81.4 692.6 82.1 694 82.7 693.3 83.4 691.3 84.1 690 84.8 691 85.5 693.4 86.1 695.3 86.8 694.9 87.5 692.5 88.2 689.8 88.9 688.8 89.5 690.1 90.2 692.7 90.9 694.5 91.6 694.6 92.3 693.7 92.9 693.3 93.6 693.5 94.3 692.6 95 689.7 95.7 686.6 96.3 686.6 97 690.6 97.7 696.5 98.4 700.5 99.1 700.6 99.7 696.8 100.4 690.7 101.1 684.8 101.8 681.9 102.5 683.6 103.1 689.4 103.8 696.7 104.5 702.2 105.2 703.3 105.9 699.5 106.5 692.6 107.2 685.6 107.9 681.8 108.6 682.7 109.3 687.8 109.9 694.4 110.6 699.6 111.3 701.1 112 698.7 112.7 693.9 113.3 689.2 114 686.5 114.7 686.7 115.4 689.2 116.1 692.3 116.8 695 117.4 695.9 118.1 695.1 118.8 693.4 119.5 691.6 120.2 690.5 120.8 690.3 121.5 691 122.2 692 122.9 693 123.6 693.5 124.2 693.5 124.9 692.9 125.6 692.3 126.3 691.6 127 691.4 127.6 691.6 128.3 692 129 692.5 129.7 692.8 130.4 692.9 131 692.7 131.7 692.3 132.4 692 133.1 691.9 133.8 691.9 134.4 692.1 135.1 692.3 135.8 692.5 136.5 692.6 137.2 692.5 137.8 692.3 138.5 692.3 139.2 692.1 139.9 692.1 140.6 692.3 141.2V222.2M703.7 4.5V52.8L703.4 53.5 702.8 54.2 703.3 54.8 705.1 55.5 706.3 56.2 704.6 56.9 701.7 57.6 700.8 58.2 702.7 58.9 705.4 59.6 706.2 60.3 704.6 61 702.4 61.6 701.7 62.3 702.9 63 704.8 63.7 705.5 64.4 704.4 65 702.7 65.7 701.9 66.4 702.8 67.1 704.7 67.8 705.8 68.4 704.8 69.1 702.6 69.8 701.3 70.5 702.3 71.2 704.9 71.9 706.5 72.5 705.2 73.2 702.2 73.9 700.5 74.6 702 75.3 705.4 75.9 707.4 76.6 705.8 77.3 702.1 78 699.9 78.7 701.3 79.3 704.7 80 706.9 80.7 706 81.4 703.3 82.1 701.5 82.7 702.2 83.4 704.2 84.1 705.2 84.8 704.4 85.5 702.6 86.1 701.9 86.8 703 87.5 705.1 88.2 706.4 88.9 705.5 89.5 703.1 90.2 700.8 90.9 700.7 91.6 702.8 92.3 705.4 92.9 706.4 93.6 705.3 94.3 703.7 95 703.2 95.7 704.2 96.3 704.5 97 702.5 97.7 699.4 98.4 698.8 99.1 702.6 99.7 708.3 100.4 711.6 101.1 710.4 101.8 705.7 102.5 700.2 103.1 695.9 103.8 694.7 104.5 697.3 105.2 703.2 105.9 709.7 106.5 713.9 107.2 713.7 107.9 709 108.6 701.9 109.3 695.5 109.9 692.7 110.6 694.8 111.3 700.7 112 707.7 112.7 712.7 113.3 713.5 114 710.1 114.7 704.3 115.4 698.8 116.1 696.1 116.8 696.9 117.4 700.4 118.1 704.7 118.8 707.8 119.5 708.7 120.2 707.4 120.8 704.9 121.5 702.4 122.2 701 122.9 701 123.6 702 124.2 703.5 124.9 704.8 125.6 705.4 126.3 705.2 127 704.4 127.6 703.5 128.3 702.8 129 702.6 129.7 702.9 130.4 703.4 131 704 131.7 704.4 132.4 704.4 133.1 704.2 133.8 703.7 134.4 703.4 135.1 703.2 135.8 703.2 136.5 703.5 137.2 703.7 137.8 704 138.5 704 139.2 704 139.9 703.7 140.6 703.7 141.2 703.5 141.9 703.5 142.6 703.7 143.3V222.2M715.2 4.5V54.8L714.8 55.5 714.2 56.2 715.2 56.9 717 57.6 717.6 58.2 715.5 58.9 712.9 59.6 712.7 60.3 714.8 61 717.1 61.6 717.3 62.3 715.6 63 713.7 63.7 713.4 64.4 714.8 65 716.5 65.7 716.9 66.4 715.6 67.1 713.8 67.8 713.3 68.4 714.6 69.1 716.7 69.8 717.5 70.5 716 71.2 713.5 71.9 712.4 72.5 714.2 73.2 717.1 73.9 718.3 74.6 716.4 75.3 713.1 75.9 711.8 76.6 714 77.3 717.5 78 718.8 78.7 716.6 79.3 713 80 711.6 80.7 713.6 81.4 716.8 82.1 718.3 82.7 716.9 83.4 714.3 84.1 713 84.8 714 85.5 715.8 86.1 716.6 86.8 715.7 87.5 714.1 88.2 713.6 88.9 714.9 89.5 716.8 90.2 717.7 90.9 716.4 91.6 713.8 92.3 712 92.9 712.6 93.6 715.4 94.3 717.9 95 718 95.7 715.9 96.3 713.8 97 713.9 97.7 715.6 98.4 716.5 99.1 714.7 99.7 711.7 100.4 711 101.1 714.7 101.8 720.2 102.5 722.7 103.1 720.3 103.8 714.8 104.5 709.8 105.2 707.4 105.9 708.1 106.5 711.6 107.2 717 107.9 722.3 108.6 725 109.3 723.5 109.9 718.1 110.6 711.1 111.3 705.6 112 704.2 112.7 707.6 113.3 714.3 114 721.4 114.7 725.8 115.4 725.5 116.1 720.9 116.8 714 117.4 708.1 118.1 705.6 118.8 707.4 119.5 712.2 120.2 717.6 120.8 721.3 121.5 722 122.2 719.8 122.9 716.1 123.6 712.8 124.2 711.1 124.9 711.4 125.6 713.1 126.3 715.2 127 717 127.6 717.6 128.3 717.1 129 716 129.7 714.8 130.4 714 131 713.8 131.7 714.2 132.4 714.9 133.1 715.7 133.8 716.1 134.4 716.1 135.1 715.8 135.8 715.2 136.5 714.8 137.2 714.5 137.8 714.6 138.5 714.9 139.2 715.2 139.9 715.6 140.6 715.7 141.2 715.6 141.9 715.2 142.6 715.2 143.3 714.9 144 714.9 144.6 715 145.3 715.2 146 715.2 146.7 715.4 147.4 715.4 148 715.2 148.7V222.2" fill="none" stroke="#858585" stroke-width="0.5"/>
<path class="ax" d="M428.7 4.5H738.1V222.2H428.7ZM451.6 222.2v-3.2M451.6 4.5v3.2M508.9 222.2v-3.2M508.9 4.5v3.2M566.2 222.2v-3.2M566.2 4.5v3.2M623.5 222.2v-3.2M623.5 4.5v3.2M680.8 222.2v-3.2M680.8 4.5v3.2M428.7 58.9h3.2M738.1 58.9h-3.2M428.7 113.3h3.2M738.1 113.3h-3.2M428.7 167.8h3.2M738.1 167.8h-3.2"/>
<text class="t" x="451.6" y="240.1" text-anchor="middle">10</text>
<text class="t" x="508.9" y="240.1" text-anchor="middle">20</text>
<text class="t" x="566.2" y="240.1" text-anchor="middle">30</text>
<text class="t" x="623.5" y="240.1" text-anchor="middle">40</text>
<text class="t" x="680.8" y="240.1" text-anchor="middle">50</text>
<text class="t" x="738.1" y="240.1" text-anchor="middle">60</text>
<text class="t" x="424" y="10.0" text-anchor="end">0</text>
<text class="t" x="424" y="64.4" text-anchor="end">0.2</text>
<text class="t" x="424" y="118.8" text-anchor="end">0.4</text>
<text class="t" x="424" y="173.3" text-anchor="end">0.6</text>
<text class="t" x="424" y="227.7" text-anchor="end">0.8</text>
<text class="l" x="583.4" y="258.6" text-anchor="middle">offset (m)</text>
<text class="l" transform="translate(391 116.3) rotate(-90)" text-anchor="middle">time (s)</text>
<text class="p" transform="translate(386.4 14.1) scale(1.15 1)">(b)</text>
</g>
<g id="pc">
<g clip-path="url(#cc)"><g filter="url(#hb)"><use href="#hm" transform="translate(55.10 287.50) scale(0.99934 1.02000)"/></g><g transform="translate(55.10 287.50) scale(0.99934 1.02000)"><g clip-path="url(#ca)"><g filter="url(#hb2)"><use href="#hmA"/></g></g></g></g>
<text class="t" x="94.9" y="516.6" text-anchor="middle">20</text>
<text class="t" x="160.9" y="516.6" text-anchor="middle">40</text>
<text class="t" x="226.9" y="516.6" text-anchor="middle">60</text>
<text class="t" x="292.9" y="516.6" text-anchor="middle">80</text>
<text class="t" x="358.9" y="516.6" text-anchor="middle">100</text>
<text class="t" x="50" y="485.8" text-anchor="end">200</text>
<text class="t" x="50" y="447.6" text-anchor="end">400</text>
<text class="t" x="50" y="409.4" text-anchor="end">600</text>
<text class="t" x="50" y="371.1" text-anchor="end">800</text>
<text class="t" x="50" y="332.9" text-anchor="end">1000</text>
<text class="t" x="50" y="294.7" text-anchor="end">1200</text>
<text class="l" x="206.7" y="536.3" text-anchor="middle">frequency (Hz)</text>
<text class="l" transform="translate(14.7 394.6) rotate(-90)" text-anchor="middle">phase velocity (m/s)</text>
<text class="p" transform="translate(0.2 295.3) scale(1.15 1)">(c)</text>
</g>
<g id="pd">
<g clip-path="url(#cd)"><g filter="url(#hb)"><use href="#hm" transform="translate(434.80 287.30) scale(0.99342 1.02381)"/></g><g transform="translate(434.80 287.30) scale(0.99342 1.02381)"><g clip-path="url(#ca)"><g filter="url(#hb2)"><use href="#hmA"/></g></g></g></g>
<path d="M563.8 458.4 567.2 460.6 570.6 462.4 574.0 464.2 577.4 465.7 580.8 467.1 584.2 468.3 587.6 469.4 590.9 470.3 594.3 471.2 597.7 472.1 601.1 473.0 604.5 473.9 607.9 474.7 611.3 475.3 614.7 475.9 618.1 476.4 621.5 476.9 624.9 477.3 628.3 477.6 631.6 477.9 635.0 478.2 638.4 478.5 641.8 478.8 645.2 479.1 648.6 479.3 652.0 479.6 655.4 479.9 658.8 480.1 662.2 480.3 665.6 480.6 669.0 480.8 672.4 481.0 675.7 481.2 679.1 481.4 682.5 481.6 685.9 481.8 689.3 481.9 692.7 482.1 696.1 482.3 699.5 482.4 702.9 482.6 706.3 482.8 709.7 482.9 713.1 483.1 716.4 483.3 719.8 483.5 723.2 483.6 726.6 483.8 730.0 484.0 733.4 484.1 736.8 484.3" fill="none" stroke="#c01400" stroke-width="1.7"/>
<path d="M434.9 370.1 438.3 371.2 441.7 372.4 445.1 373.7 448.5 375.0 451.9 376.6 455.3 378.6 458.7 380.9 462.0 383.7 465.4 387.0 468.8 391.0 472.2 395.4 475.6 400.2 479.0 404.9 482.4 409.6 485.8 413.7 489.2 417.3 492.6 420.5 496.0 423.2 499.4 425.5 502.7 427.4 506.1 429.1 509.5 430.6 512.9 431.9 516.3 433.0 519.7 434.0 523.1 435.0 526.5 436.0 529.9 437.3 533.3 438.8 536.7 440.4 540.1 442.1 543.5 444.1 546.8 446.4 550.2 448.9 553.6 451.4 557.0 453.8 560.4 456.1 563.8 458.4 567.2 460.6 570.6 462.4 574.0 464.2 577.4 465.7 580.8 467.1 584.2 468.3 587.6 469.4 590.9 470.3 594.3 471.2 597.7 472.1 601.1 473.0 604.5 473.9 607.9 474.7 611.3 475.3 614.7 475.9 618.1 476.4 621.5 476.9 624.9 477.3 628.3 477.6 631.6 477.9 635.0 478.2 638.4 478.5 641.8 478.8 645.2 479.1 648.6 479.3 652.0 479.6 655.4 479.9 658.8 480.1 662.2 480.3 665.6 480.6 669.0 480.8 672.4 481.0 675.7 481.2 679.1 481.4 682.5 481.6 685.9 481.8 689.3 481.9 692.7 482.1 696.1 482.3 699.5 482.4 702.9 482.6 706.3 482.8 709.7 482.9 713.1 483.1 716.4 483.3 719.8 483.5 723.2 483.6 726.6 483.8 730.0 484.0 733.4 484.1 736.8 484.3" fill="none" stroke="#fff" stroke-width="3.1" stroke-dasharray="11.6 1.7 5.8 1.7"/>
<path d="M469.1 354.9 472.1 360.8 475.1 366.8 478.1 372.8 481.1 378.0 484.1 381.8 487.1 386.8 490.1 391.9 493.1 396.3 496.1 400.2 499.2 403.8 502.2 409.0 505.2 412.4 508.2 415.4 511.2 418.4 514.2 421.3 517.2 424.0 520.2 426.7 523.2 429.2 526.2 431.6 529.2 433.8 532.2 436.0 535.3 437.8 538.3 438.9 541.3 439.7 544.3 440.4 547.3 440.9 550.3 441.2 553.3 441.5 556.3 441.9 559.3 442.4 562.3 442.9 565.3 443.4 568.3 443.9 571.4 444.5 574.4 445.0 577.4 445.6 580.4 446.1 583.4 446.6 586.4 447.1 589.4 447.6 592.4 448.0 595.4 448.5 598.4 448.9 601.4 449.4 604.4 449.8 607.4 450.3 610.5 450.8 613.5 451.3 616.5 451.8 619.5 452.2 622.5 452.7 625.5 453.2 628.5 453.6 631.5 454.0 634.5 454.5 637.5 454.9 640.5 455.3 643.5 455.7 646.6 456.1 649.6 456.5 652.6 456.9 655.6 457.2 658.6 457.6 661.6 458.0 664.6 458.3 667.6 458.7 670.6 459.1 673.6 459.4 676.6 459.8 679.6 460.1 682.7 460.5 685.7 460.8 688.7 461.1 691.7 461.4 694.7 461.8 697.7 462.1 700.7 462.4 703.7 462.7 706.7 462.9 709.7 463.2 712.7 463.5 715.7 463.7 718.8 464.0 721.8 464.3 724.8 464.5 727.8 464.8 730.8 465.1 733.8 465.3 736.8 465.6" fill="none" stroke="#19e619" stroke-width="2.9" stroke-dasharray="10.3 2.8 4.7 2.8"/>
<rect x="469.8" y="330.9" width="102.2" height="23.4" fill="#fff"/>
<text x="474.4" y="348.1" textLength="90.8" lengthAdjust="spacingAndGlyphs" style="font-size:15.2px;font-weight:bold;fill:#0a0a0a">first overtune</text>
<text class="t" x="474.0" y="516.6" text-anchor="middle">20</text>
<text class="t" x="539.7" y="516.6" text-anchor="middle">40</text>
<text class="t" x="605.4" y="516.6" text-anchor="middle">60</text>
<text class="t" x="671.1" y="516.6" text-anchor="middle">80</text>
<text class="t" x="736.8" y="516.6" text-anchor="middle">100</text>
<text class="t" x="429.6" y="486.3" text-anchor="end">200</text>
<text class="t" x="429.6" y="448.0" text-anchor="end">400</text>
<text class="t" x="429.6" y="409.6" text-anchor="end">600</text>
<text class="t" x="429.6" y="371.2" text-anchor="end">800</text>
<text class="t" x="429.6" y="332.9" text-anchor="end">1000</text>
<text class="t" x="429.6" y="294.5" text-anchor="end">1200</text>
<text class="l" x="586" y="536.3" text-anchor="middle">frequency (Hz)</text>
<text class="l" transform="translate(393.2 394.6) rotate(-90)" text-anchor="middle">phase velocity (m/s)</text>
<text class="p" transform="translate(376.9 294.4) scale(1.15 1)">(d)</text>
</g>
</svg></body></html>
